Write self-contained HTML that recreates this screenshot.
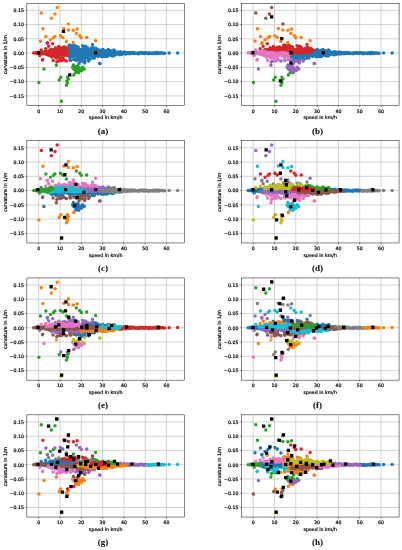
<!DOCTYPE html>
<html lang="en"><head><meta charset="utf-8"><title>Clustering of speed and curvature</title>
<style>html,body{margin:0;padding:0;background:#fff}svg{display:block}text{font-family:"DejaVu Sans","Liberation Sans",sans-serif;fill:#000}.t text{stroke:#000;stroke-width:4px}.cap{font-family:"Liberation Serif","DejaVu Serif",serif;font-weight:bold;font-size:9px}.t{font-size:94px;text-rendering:geometricPrecision}</style></head>
<body>
<svg width="402" height="550" viewBox="0 0 402 550">
<rect width="402" height="550" fill="#fff"/>
<g transform="translate(0,0)">
<path d="M38.7 3.25V105.5M60 3.25V105.5M81.3 3.25V105.5M102.6 3.25V105.5M123.9 3.25V105.5M145.2 3.25V105.5M166.5 3.25V105.5M26.85 10.3H184.5M26.85 24.6H184.5M26.85 38.8H184.5M26.85 53.1H184.5M26.85 67.4H184.5M26.85 81.6H184.5M26.85 95.9H184.5" stroke="#b0b0b0" stroke-width="0.55" fill="none"/>
<g fill="none" stroke-width="3.5" stroke-linecap="round">
<path stroke="#1f77b4" d="M99.6 63.4h0M84.7 63h0M88.7 61h0M100 63.6h0M92.5 44.5h0M169.1 53h0M177.6 52.9h0M79 63.4h0M81.2 55.2h0M75.3 54.2h0M69.8 53.4h0M69.1 54.8h0M94 53.6h0M77 52.9h0M68.9 53.3h0M72.6 55h0M70.7 53h0M84.5 51.4h0M87 54.9h0M83.5 53.8h0M83.4 54.7h0M82.1 50.6h0M76.2 51.7h0M68.3 52.2h0M100.8 53.4h0M83.5 52.8h0M81 53h0M85.5 55.4h0M70.2 52.1h0M77.7 54.3h0M75 53.1h0M99.6 51.8h0M82.9 54.9h0M74.2 52.1h0M84.5 51.6h0M98.1 54.4h0M92.7 52.6h0M85.7 52.7h0M70.5 50.6h0M92.8 54.5h0M86.8 52.8h0M81.6 53h0M97.3 52.2h0M80 52h0M75 50.3h0M85.7 53h0M89.3 51.9h0M100.9 52.7h0M93.4 51.5h0M74.4 51.1h0M71 52.6h0M98.1 53h0M89.5 51.5h0M70.8 51.6h0M69 51.3h0M96 53.7h0M80.4 53.7h0M86 54h0M81 52.9h0M70.4 52.8h0M81.1 52.9h0M99.9 55.3h0M67.7 51.6h0M100.1 55.6h0M74.2 51.8h0M92.6 52.8h0M83.6 53h0M96.1 51.7h0M94.2 51.8h0M86.6 52h0M83.8 52h0M92.8 53.9h0M85.7 52.6h0M85.7 52.4h0M95 52.2h0M95.2 53h0M90.2 50.9h0M100.8 52.1h0M92 52.8h0M100.5 53.5h0M84 50.1h0M70.6 51.5h0M92.3 53.2h0M94.7 53.7h0M92.2 55h0M93.2 53.3h0M67.4 52.6h0M74.2 53.4h0M92.5 51.4h0M73.9 53.1h0M88.7 54.9h0M100.5 50.6h0M87.2 54.1h0M99.4 53.6h0M84.1 52.1h0M92.8 54.2h0M86.7 53.1h0M72.8 53.5h0M101.2 52.9h0M71.9 51.8h0M92 52.9h0M70.4 54.9h0M95.4 54.6h0M68.4 52h0M74.1 53h0M67.8 51.4h0M71.6 54.9h0M76.9 53.8h0M79.2 52.8h0M79 55h0M90.2 53.7h0M70.4 53.7h0M69.3 52.4h0M82.8 52.9h0M89.9 53.7h0M76.5 55.6h0M83.7 53.8h0M68 55.1h0M77.7 53.9h0M91.2 53h0M98.6 51.4h0M84.2 54.3h0M75.9 52h0M78.6 53.8h0M84.4 51.7h0M101.9 54.1h0M100.8 52.9h0M70.6 51.1h0M86.3 53.9h0M79.9 54.1h0M69.6 50.9h0M93.8 52.5h0M92 54.6h0M94.4 52.6h0M82.6 54.3h0M68.4 54h0M82.3 53.4h0M69.3 52h0M89 52.7h0M72.2 55h0M94.7 53.2h0M98.1 53.1h0M96.7 53.4h0M85 53.6h0M86.3 52.7h0M70.3 52.9h0M71.7 53.8h0M96.5 54.9h0M82.1 53.6h0M89.6 53.2h0M96.2 53.6h0M97.6 54.6h0M94.1 54.5h0M72.1 50.5h0M75.9 52h0M87.9 51.6h0M73.8 52.3h0M78.4 52h0M71.2 51.9h0M82.5 55.6h0M89.7 54.3h0M101.5 53.3h0M79.8 53.4h0M76.5 53.9h0M81 52.4h0M74.4 54.6h0M75.3 53.2h0M94.5 51h0M68.8 56h0M73.9 53.4h0M83.5 51.7h0M67.5 51.4h0M72.7 54.1h0M76.1 52.8h0M91.7 52h0M70.9 55.4h0M95.9 52.8h0M86.8 51.2h0M75 54.8h0M79.4 52.7h0M98.7 52.7h0M88.4 53.2h0M74 51.5h0M102.3 55.3h0M86.6 54.2h0M87 53.5h0M76.3 53.7h0M86 53.6h0M74.9 53.5h0M98.9 52.5h0M76.3 54.7h0M75 53.9h0M101.6 51.2h0M99.2 55.7h0M85.7 51.7h0M74.4 55.3h0M73.9 52.4h0M69.5 52.8h0M102.5 54.1h0M91.5 52.1h0M76.2 51.8h0M97.7 52.8h0M79.1 52.5h0M81.6 52.7h0M78.1 51.9h0M79.1 52h0M83.9 56h0M87.5 52.4h0M96.7 53.4h0M95.6 52.9h0M101.3 53.6h0M67.8 52.9h0M85.1 51.5h0M97.3 52.9h0M85.3 50.9h0M70.5 51.2h0M71.1 51.3h0M73.9 52.5h0M71.4 53.7h0M73.4 51.9h0M82.4 53.2h0M86.9 52h0M85.9 51.1h0M69 52.5h0M94.8 52.9h0M86.4 52.7h0M102.2 53.2h0M98 52.6h0M74.8 54.7h0M79.3 52.9h0M83.1 52.1h0M73.4 50.7h0M69 53.2h0M82 55.7h0M100.1 51.4h0M86.6 53.3h0M72.1 54.8h0M83.8 53.8h0M78.2 52.8h0M93.5 53h0M100.3 53.7h0M79.1 53.8h0M68.5 52.7h0M72.1 51.2h0M101.2 52.9h0M79.4 51.2h0M83.9 55.2h0M100.5 54.9h0M96.1 54.6h0M75.3 50.8h0M90.6 53.9h0M98.4 53.1h0M86.2 55.8h0M67.3 53.2h0M86.8 53.3h0M89.3 54h0M71.6 51.5h0M91.7 54.1h0M93.9 55.2h0M89.3 53.5h0M90.5 55.1h0M105.4 53.8h0M116.5 54.1h0M127.7 53.1h0M118.3 53.8h0M130.3 52.8h0M114.7 53.4h0M122.7 53.4h0M109.4 53.5h0M129.5 53.3h0M129.4 53.8h0M120.7 52.4h0M112.9 52.5h0M113.7 52.7h0M121.6 54.5h0M106.7 50.7h0M118.9 54.1h0M112 55.2h0M113.5 54.1h0M112.9 53.3h0M129.3 53.1h0M108.2 52.3h0M110.2 53.6h0M107.9 51.1h0M103.1 53.9h0M116.2 52.5h0M129.6 53.2h0M131.4 53.5h0M118.2 53.5h0M116.1 53.1h0M130.3 52.8h0M119.5 53.7h0M120.1 53h0M123.3 53.4h0M105.1 52.7h0M129.4 53.7h0M106 52.7h0M119.6 54.7h0M132.2 52.8h0M120.1 52.4h0M113.5 52.7h0M125.8 52.6h0M131.4 52.8h0M122.3 52.9h0M104.4 54h0M130.7 53.4h0M103.2 52h0M124.3 52h0M131.4 52.7h0M107.6 53h0M119.5 52.9h0M125.1 53.7h0M108.2 51.6h0M110.4 54.4h0M104.7 53.5h0M107.7 53.2h0M106.4 53.1h0M111.9 51.6h0M126.6 53.7h0M124.8 53.5h0M127 53h0M123.7 52.6h0M128 53.2h0M107.4 54h0M120.3 52.5h0M103.3 53.2h0M118.3 51.9h0M129.5 53.4h0M117.7 52.4h0M112 54.4h0M111.4 53.2h0M115.2 54.8h0M131.8 52.4h0M133.7 53.4h0M126.5 53.5h0M134.2 53.3h0M127 52.5h0M111.7 52.7h0M116.5 52.7h0M125.7 53.2h0M125.3 54.1h0M124.3 53.6h0M118.2 52.8h0M107.2 53.2h0M133.3 52.8h0M109.6 54.6h0M133.9 53h0M106.7 53.1h0M133.9 52.7h0M114.6 53.6h0M128.5 52.9h0M102.8 54.1h0M116.8 54h0M110.6 53.7h0M124.8 53.3h0M123.8 53.3h0M117.4 53.2h0M125.2 52.7h0M133.9 52.8h0M105.6 53.7h0M120.6 51.7h0M124.2 52.9h0M122.8 53.6h0M111 53.7h0M130.6 53.2h0M110.4 54h0M129.6 52.5h0M117.6 54h0M107.2 54.7h0M128.9 53.6h0M105.1 53.6h0M159.1 53.5h0M153.1 53.4h0M161.6 53.1h0M159.4 53h0M147 53.1h0M138.7 53.7h0M142.8 52.9h0M134.6 52.9h0M154.7 53.3h0M137.2 53.3h0M140.1 52.7h0M142.1 53h0M147.1 53.3h0M155.8 52.8h0M148.3 53.2h0M150.1 53.1h0M137.4 53.3h0M145 53.1h0M140.9 53h0M157.4 52.9h0M135.1 53h0M153.6 52.8h0M156.1 53.3h0M150.1 53.3h0M135.9 53.6h0M142.3 53.1h0M141.9 53h0M142.8 53.6h0M142.7 53h0M164.6 53.2h0M159 53h0M162.1 52.9h0M156.6 53.2h0M145.3 53.2h0M163.6 53.3h0M149.5 53.1h0M140.3 52.8h0M157.1 53.6h0M142.6 53.3h0M160 53.3h0M157.4 53.3h0M143.5 53.1h0M148.7 53.8h0M156.6 53h0M155.2 53.2h0M150.8 53.2h0M141.2 52.8h0M144.6 53.2h0M156 53.4h0M148.7 53.2h0M156.7 52.6h0M155.7 53h0M145.5 53.2h0M137.6 53.3h0M155.6 53.1h0M145.5 52.6h0M152 53.6h0M138.4 53.7h0M139.1 53.3h0M147.6 53.5h0M155.2 53.4h0M138.2 53.1h0M158.5 53.1h0M160.8 53.1h0M155.3 52.9h0M157.7 52.8h0M141.9 52.9h0M137.6 53h0M144.7 53.6h0M138.4 53.4h0M113.4 51.2h0M71.1 50.1h0M85 50.8h0M81.6 50.8h0M76.2 46.6h0M106.8 51h0M107.1 51.3h0M104.4 50.8h0M98.8 50.1h0M87.5 48.1h0M70.3 50.3h0M77 48.2h0M92.2 50h0M71.5 50.6h0M94.7 50.6h0M95 48.4h0M108.3 51.3h0M69.7 45.1h0M106 51.2h0M72.7 46.1h0M84.8 50.2h0M78.3 50.7h0M80.5 50.8h0M108.4 49.6h0M109.3 51.2h0M75.3 50h0M98.2 50.1h0M103.1 51h0M88.5 50.7h0M102.8 49.6h0M110.7 51.4h0M82.7 45.7h0M81.5 50.5h0M115 51.6h0M110.5 50.7h0M84.5 48h0M70.4 46.6h0M99.7 50.9h0M114.6 50.4h0M91.6 48.8h0M113.9 50.1h0M112.8 51.3h0M105.7 51.1h0M96.4 49.8h0M85.8 46.6h0M110.7 51h0M85.1 47.5h0M78.1 48.8h0M69.3 46.6h0M112.8 51.5h0M90 50.1h0M94.4 48.2h0M71.9 49h0M97 48.9h0M82.8 50.4h0M106.9 50.8h0M79.1 49.4h0M110.7 50.7h0M70.9 45.6h0M85.5 48.9h0M93.4 50.8h0M75.7 49.8h0M81.8 50.3h0M101.3 50.6h0M73.9 50.1h0M93.5 48.3h0M72.5 46.1h0M111.3 51.3h0M109.4 51.3h0M102.1 51h0M71.6 50.5h0M94.4 48.6h0M90.4 49.2h0M82.2 50.8h0M69 50.8h0M95.9 50.5h0M69.9 50.8h0M77.2 49.3h0M84 47h0M78.1 47.1h0M84.6 46.8h0M75.6 47.1h0M72.5 47.6h0M70.6 50.8h0M91 48.2h0M95.5 48.3h0M67.3 49.3h0M92.8 47.4h0M83 48.8h0M77.2 49.7h0M71.1 49.5h0M70 48.7h0M70 48.7h0M72.9 48.1h0M79.8 49.6h0M85.4 46.6h0M70 48.8h0M71.1 49.7h0M69.6 45.9h0M71.4 47.8h0M74.6 48.5h0M83.7 50.7h0M74 49.5h0M69.8 49.2h0M74.8 45.6h0M69.1 45.3h0M67.8 50.7h0M92.1 47.7h0M80.7 50.8h0M92.8 50.7h0M80.8 50.3h0M94.3 58.1h0M105.6 56.6h0M82.5 58.2h0M114.1 54.7h0M79.6 55.8h0M84.8 58.7h0M88.6 56.3h0M77.6 59.4h0M88.4 59h0M102 56.8h0M80 58.4h0M77.2 57.3h0M85.1 56.7h0M104.6 55.9h0M93 55.8h0M99.4 55.3h0M98.1 56.5h0M86.5 55.7h0M81.4 57.4h0M80 61.3h0M101.6 56.6h0M74.1 58.7h0M85.1 61.3h0M90 55.8h0M107 55.8h0M92.4 56.5h0M76.7 56.6h0M82.1 61.2h0M106.1 55.2h0M87.7 57.8h0M97.9 56.2h0M114.9 54.9h0M110.2 54.8h0M92.5 58.1h0M89.5 59.2h0M114.8 54.9h0M101.2 55.2h0M70.3 55.4h0M106.1 56.1h0M111.2 55.7h0M76.2 60.4h0M71.4 56.6h0M82.8 58.1h0M103.2 56.3h0M97.3 55.8h0M70.1 58.1h0M103.9 56.6h0M113.9 54.7h0M69.5 56h0M110.3 55.1h0M73.3 56h0M70.4 60.5h0M88.4 58.2h0M70 59.4h0M90.6 55.4h0M78 57h0M94.2 55.7h0M83.4 56.2h0M73.7 59.5h0M80.4 57h0M103.2 56h0M96.1 55.6h0M68.7 55.4h0M79.1 56h0M107.2 56.6h0M113.2 56h0M97.9 56h0M107.4 56.3h0M70 59.9h0M71.8 56.4h0M83.1 56.2h0"/>
<path stroke="#ff7f0e" d="M57.2 7.6h0M41.3 13.1h0M55 14.1h0M51.3 18.3h0M68.4 24.1h0M42.9 28.7h0M63.8 28.5h0M68.4 29.9h0M73.4 30.2h0M77.1 29.1h0M76.3 33.4h0M79.7 35.8h0M81.3 37.8h0M86.7 37.4h0M95.6 40.8h0M45.9 36.4h0M54.9 36.4h0M60.4 35.8h0M62.8 37.4h0M50.5 39.8h0M40.5 41.2h0M66.4 41.4h0M53.5 37.8h0M73.3 42.5h0"/>
<path stroke="#2ca02c" d="M43.9 68.9h0M56.4 65.3h0M38.9 82.5h0M61.4 101.2h0M60.8 77.3h0M59.2 79.9h0M67.4 77.3h0M68.4 78.9h0M66.8 80.9h0M67.4 82.9h0M66.4 85.2h0M73.8 74.9h0M73.4 65h0M76.3 67.9h0M78.3 69.3h0M77.1 71.3h0M75.7 72.5h0M79.7 70.9h0M84.3 68.9h0M81.7 70.5h0M74.5 66.5h0M77.5 66h0M79 67.5h0M76 70h0M80.5 69h0M74 69.3h0M78.6 72.8h0M72.6 67.6h0M82.8 67.2h0"/>
<path stroke="#d62728" d="M47.5 42.8h0M41.2 49.9h0M45.7 48.7h0M47.2 43.2h0M52.7 43.7h0M39.7 55.6h0M42.7 59.6h0M53.1 60.4h0M57.3 61.6h0M48.7 46.2h0M62.1 47.7h0M42.5 60h0M56.8 62h0M66.4 61h0M33.7 53.1h0M35.5 53h0M40.8 52.7h0M42.3 53.3h0M38.3 52.9h0M40.4 53.2h0M44.1 53.7h0M44.1 53.2h0M36.7 53.3h0M37.5 52.6h0M36 53h0M39.7 53.7h0M35.8 53h0M39.9 53.2h0M41.7 53.2h0M38.2 53.4h0M42 53.5h0M41.2 53.1h0M35.7 52.8h0M40.9 53h0M38 53.1h0M39.5 53.1h0M38.2 53.3h0M42.1 52.7h0M39.7 53h0M37 52.8h0M40.7 53.1h0M43 53.2h0M38.4 53.5h0M37.6 52.5h0M39.2 53.3h0M44.5 52h0M44.9 53.7h0M41.9 53.4h0M44.2 53.1h0M43.6 52.7h0M39.1 53.3h0M46.5 52.4h0M63.2 52.4h0M54.7 55.2h0M65.9 53.8h0M57.5 54.6h0M58.9 51.6h0M58.3 53.7h0M58 52.1h0M53.5 53.1h0M53.3 53.5h0M46.2 53.8h0M63.2 52.6h0M63.9 52.2h0M61.8 52.1h0M61 54.7h0M44.6 52.9h0M55.8 51.4h0M55.1 53.4h0M45 52.7h0M45.3 53.7h0M53.1 51.2h0M50.2 53.1h0M47 53.5h0M48.8 52.4h0M52.4 54.1h0M57.1 50.9h0M63.4 55.1h0M53 52.1h0M52.7 51.3h0M46.4 53.8h0M54.3 53h0M51.8 53.3h0M45.4 52.5h0M49.7 53.9h0M66.4 51.5h0M43.9 53.6h0M53.8 55h0M57.8 53h0M45.2 53.3h0M44.4 53.2h0M45.9 53.1h0M51.3 54.8h0M56.9 51.8h0M61.9 51.2h0M44.8 52.7h0M58.8 54.7h0M50.6 54.3h0M63 53.3h0M49.4 53.8h0M60.2 50.1h0M66.7 51.6h0M50.3 53.5h0M63.5 53.1h0M53.5 54.1h0M55.7 52.9h0M58.6 53.6h0M46.5 52.3h0M54.2 55.6h0M60.3 53.9h0M58.1 53.1h0M46.7 52.7h0M55.1 51.8h0M62 54.9h0M43.6 53.4h0M44.3 53.4h0M59.7 52.7h0M50.5 54.4h0M45.4 53h0M44.7 53.1h0M45.1 53h0M45.6 52.8h0M45.5 53.1h0M52.2 51.3h0M63.9 51.9h0M50.5 54.1h0M57.8 53.7h0M50.3 54.2h0M54.6 52h0M55.8 52h0M40.9 52.8h0M42.7 53.2h0M50.9 52.2h0M65 50.2h0M43.7 53h0M63.8 55.5h0M49.1 53.5h0M54.9 52.8h0M57.2 52.7h0M66.2 54.1h0M57.9 52.3h0M49.8 54.1h0M43.4 52.9h0M66.6 52.6h0M41.1 53.3h0M56.1 54.9h0M44.6 53.7h0M59 52h0M51.5 52.5h0M43.4 53h0M47.8 53.7h0M54.4 52.1h0M56.4 52.5h0M62.2 50.4h0M44.3 53.2h0M66.4 53.9h0M66.6 53.6h0M58.8 52.5h0M56.3 53.9h0M47.9 53.4h0M51.5 53.3h0M48.6 54.5h0M45.3 54h0M46 53.3h0M46.4 52.8h0M47.1 54.4h0M49.3 52.7h0M41 53.1h0M53.8 52.1h0M54.2 52.8h0M65.2 52.2h0M57.5 53h0M49.8 52h0M43.9 53.7h0M59.5 51.7h0M43.3 53.5h0M62.2 52.2h0M44 52.6h0M66.7 52h0M49.4 53.5h0M43.4 52.3h0M48.3 53.5h0M52.7 52h0M41.2 53.6h0M65.1 51.9h0M53 52.2h0M67 55.5h0M53.4 53.5h0M61.1 53.4h0M62.1 51.3h0M65.2 52.3h0M42.2 53.5h0M51.3 52.1h0M58.9 52.9h0M58.9 54.1h0M64.8 51.5h0M50.2 52.4h0M41.6 52.9h0M58.9 50.1h0M64.4 53.3h0M66.3 51.8h0M46 53.5h0M63.3 52.5h0M58.4 51.9h0M53.8 51.9h0M67 53.1h0M63.2 55.1h0M59.7 54.5h0M61.9 52.3h0M45.9 52.9h0M58.8 54.2h0M49.8 53.1h0M50.5 54h0M42.6 52.4h0M62.7 54.4h0M44.6 52.2h0M51.8 52.4h0M63 53.4h0M65 52h0M49.6 52.2h0M41.7 53.5h0M64.4 55h0M47.5 52.7h0M45.2 53.3h0M65 53.3h0M47.4 52h0M51.6 52.8h0M51.5 54.4h0M46.7 51.6h0M49.8 50.4h0M58.6 50.8h0M49.6 51.6h0M65.1 50.3h0M60.3 48.9h0M50.2 50.1h0M61.7 50.5h0M60.5 48.6h0M61.8 50.7h0M54.2 49.4h0M63.6 50.6h0M55.6 47.7h0M57.9 48.4h0M58.8 46.5h0M51.5 50.9h0M61.2 49.4h0M57.8 49.3h0M62.8 49h0M50.5 51h0M62.4 48.5h0M55.7 50.8h0M49.4 51.5h0M46.2 52.2h0M46.5 51.7h0M57.3 50.6h0M59.7 48.5h0M64.9 47.1h0M57.2 49.5h0M62.5 50.2h0M63.2 50.2h0M62.8 49.6h0M49.8 50h0M48.8 51.3h0M61.3 49h0M57.6 50h0M51.4 51.1h0M45.6 51.8h0M66.9 48.2h0M51.3 51.1h0M62.6 50h0M50.4 50.7h0M51.6 49.4h0M59 50.3h0M62.8 47.3h0M60.4 50.8h0M64.2 49.8h0M51.3 50h0M50.4 49.8h0M63.5 49.3h0M55.5 50.6h0M55.2 50.7h0M50.9 51.2h0M60.9 50.8h0M54.5 49.6h0M66.1 47.7h0M57.6 50.2h0M63.8 50.8h0M57.4 50.7h0M46.9 54.5h0M59.7 60h0M50.3 55h0M49.7 55.6h0M61.4 60.8h0M51.9 56h0M57.1 57.7h0M62.9 56.7h0M56.4 57.9h0M59.7 58.1h0M53.8 56h0M51.9 57h0M48.2 54.9h0M61.6 59.6h0M49.7 55.5h0M55.9 57.7h0M59.8 60.7h0M64.2 60h0M58.4 56.1h0M62.8 57.6h0M47.3 54h0M57 56.1h0M54.9 55.8h0M48.8 54.9h0"/>
</g>
<path d="M36.9 51.2h3.3v3.3h-3.3zM93.9 51.2h3.3v3.3h-3.3zM61.8 29.8h3.3v3.3h-3.3zM68.1 73.2h3.3v3.3h-3.3z" fill="#000"/>
<rect x="26.85" y="3.25" width="157.7" height="102.2" fill="none" stroke="#000" stroke-width="0.48"/>
<path d="M38.7 105.5v1.6M60 105.5v1.6M81.3 105.5v1.6M102.6 105.5v1.6M123.9 105.5v1.6M145.2 105.5v1.6M166.5 105.5v1.6M26.85 10.3h-1.6M26.85 24.6h-1.6M26.85 38.8h-1.6M26.85 53.1h-1.6M26.85 67.4h-1.6M26.85 81.6h-1.6M26.85 95.9h-1.6" stroke="#000" stroke-width="0.45" fill="none"/>
<g class="t">
<text transform="translate(38.7,112.7) scale(.05)" text-anchor="middle">0</text><text transform="translate(60,112.7) scale(.05)" text-anchor="middle">10</text><text transform="translate(81.3,112.7) scale(.05)" text-anchor="middle">20</text><text transform="translate(102.6,112.7) scale(.05)" text-anchor="middle">30</text><text transform="translate(123.9,112.7) scale(.05)" text-anchor="middle">40</text><text transform="translate(145.2,112.7) scale(.05)" text-anchor="middle">50</text><text transform="translate(166.5,112.7) scale(.05)" text-anchor="middle">60</text>
<text transform="translate(23.9,12) scale(.05)" text-anchor="end">0.15</text><text transform="translate(23.9,26.3) scale(.05)" text-anchor="end">0.10</text><text transform="translate(23.9,40.6) scale(.05)" text-anchor="end">0.05</text><text transform="translate(23.9,54.9) scale(.05)" text-anchor="end">0.00</text><text transform="translate(23.9,69.1) scale(.05)" text-anchor="end">−0.05</text><text transform="translate(23.9,83.4) scale(.05)" text-anchor="end">−0.10</text><text transform="translate(23.9,97.7) scale(.05)" text-anchor="end">−0.15</text>
<text transform="translate(105.7,119) scale(.05)" text-anchor="middle">speed in km/h</text>
<text transform="translate(6.6,54.8) rotate(-90) scale(.05)" text-anchor="middle">curvature in 1/m</text>
</g>
<text class="cap" x="103" y="133.6" text-anchor="middle">(a)</text>
</g>
<g transform="translate(214.5,0)">
<path d="M38.7 3.25V105.5M60 3.25V105.5M81.3 3.25V105.5M102.6 3.25V105.5M123.9 3.25V105.5M145.2 3.25V105.5M166.5 3.25V105.5M26.85 10.3H184.5M26.85 24.6H184.5M26.85 38.8H184.5M26.85 53.1H184.5M26.85 67.4H184.5M26.85 81.6H184.5M26.85 95.9H184.5" stroke="#b0b0b0" stroke-width="0.55" fill="none"/>
<g fill="none" stroke-width="3.5" stroke-linecap="round">
<path stroke="#1f77b4" d="M169.1 53h0M177.6 52.9h0M100.8 53.4h0M99.6 51.8h0M97.3 52.2h0M100.9 52.7h0M98.1 53h0M100.8 52.1h0M100.5 53.5h0M100.5 50.6h0M101.2 52.9h0M98.6 51.4h0M100.8 52.9h0M101.5 53.3h0M98.7 52.7h0M98.9 52.5h0M101.6 51.2h0M102.5 54.1h0M97.7 52.8h0M101.3 53.6h0M97.3 52.9h0M102.2 53.2h0M98 52.6h0M100.1 51.4h0M101.2 52.9h0M98.4 53.1h0M105.4 53.8h0M116.5 54.1h0M127.7 53.1h0M118.3 53.8h0M130.3 52.8h0M114.7 53.4h0M122.7 53.4h0M109.4 53.5h0M129.5 53.3h0M129.4 53.8h0M120.7 52.4h0M112.9 52.5h0M113.7 52.7h0M121.6 54.5h0M106.7 50.7h0M118.9 54.1h0M112 55.2h0M113.5 54.1h0M112.9 53.3h0M129.3 53.1h0M108.2 52.3h0M110.2 53.6h0M107.9 51.1h0M103.1 53.9h0M116.2 52.5h0M129.6 53.2h0M131.4 53.5h0M118.2 53.5h0M116.1 53.1h0M130.3 52.8h0M119.5 53.7h0M120.1 53h0M123.3 53.4h0M105.1 52.7h0M129.4 53.7h0M106 52.7h0M119.6 54.7h0M132.2 52.8h0M120.1 52.4h0M113.5 52.7h0M125.8 52.6h0M131.4 52.8h0M122.3 52.9h0M104.4 54h0M130.7 53.4h0M103.2 52h0M124.3 52h0M131.4 52.7h0M107.6 53h0M119.5 52.9h0M125.1 53.7h0M108.2 51.6h0M110.4 54.4h0M104.7 53.5h0M107.7 53.2h0M106.4 53.1h0M111.9 51.6h0M126.6 53.7h0M124.8 53.5h0M127 53h0M123.7 52.6h0M128 53.2h0M107.4 54h0M120.3 52.5h0M103.3 53.2h0M118.3 51.9h0M129.5 53.4h0M117.7 52.4h0M112 54.4h0M111.4 53.2h0M115.2 54.8h0M131.8 52.4h0M133.7 53.4h0M126.5 53.5h0M134.2 53.3h0M127 52.5h0M111.7 52.7h0M116.5 52.7h0M125.7 53.2h0M125.3 54.1h0M124.3 53.6h0M118.2 52.8h0M107.2 53.2h0M133.3 52.8h0M109.6 54.6h0M133.9 53h0M106.7 53.1h0M133.9 52.7h0M114.6 53.6h0M128.5 52.9h0M102.8 54.1h0M116.8 54h0M110.6 53.7h0M124.8 53.3h0M123.8 53.3h0M117.4 53.2h0M125.2 52.7h0M133.9 52.8h0M105.6 53.7h0M120.6 51.7h0M124.2 52.9h0M122.8 53.6h0M111 53.7h0M130.6 53.2h0M110.4 54h0M129.6 52.5h0M117.6 54h0M107.2 54.7h0M128.9 53.6h0M105.1 53.6h0M159.1 53.5h0M153.1 53.4h0M161.6 53.1h0M159.4 53h0M147 53.1h0M138.7 53.7h0M142.8 52.9h0M134.6 52.9h0M154.7 53.3h0M137.2 53.3h0M140.1 52.7h0M142.1 53h0M147.1 53.3h0M155.8 52.8h0M148.3 53.2h0M150.1 53.1h0M137.4 53.3h0M145 53.1h0M140.9 53h0M157.4 52.9h0M135.1 53h0M153.6 52.8h0M156.1 53.3h0M150.1 53.3h0M135.9 53.6h0M142.3 53.1h0M141.9 53h0M142.8 53.6h0M142.7 53h0M164.6 53.2h0M159 53h0M162.1 52.9h0M156.6 53.2h0M145.3 53.2h0M163.6 53.3h0M149.5 53.1h0M140.3 52.8h0M157.1 53.6h0M142.6 53.3h0M160 53.3h0M157.4 53.3h0M143.5 53.1h0M148.7 53.8h0M156.6 53h0M155.2 53.2h0M150.8 53.2h0M141.2 52.8h0M144.6 53.2h0M156 53.4h0M148.7 53.2h0M156.7 52.6h0M155.7 53h0M145.5 53.2h0M137.6 53.3h0M155.6 53.1h0M145.5 52.6h0M152 53.6h0M138.4 53.7h0M139.1 53.3h0M147.6 53.5h0M155.2 53.4h0M138.2 53.1h0M158.5 53.1h0M160.8 53.1h0M155.3 52.9h0M157.7 52.8h0M141.9 52.9h0M137.6 53h0M144.7 53.6h0M138.4 53.4h0M113.4 51.2h0M106.8 51h0M107.1 51.3h0M104.4 50.8h0M108.3 51.3h0M106 51.2h0M108.4 49.6h0M109.3 51.2h0M103.1 51h0M102.8 49.6h0M110.7 51.4h0M115 51.6h0M110.5 50.7h0M99.7 50.9h0M114.6 50.4h0M113.9 50.1h0M112.8 51.3h0M105.7 51.1h0M110.7 51h0M112.8 51.5h0M106.9 50.8h0M110.7 50.7h0M101.3 50.6h0M111.3 51.3h0M109.4 51.3h0M102.1 51h0M114.1 54.7h0M114.9 54.9h0M110.2 54.8h0M114.8 54.9h0M111.2 55.7h0M113.9 54.7h0M110.3 55.1h0M113.2 56h0M81.2 55.2h0M75.3 54.2h0M87 54.9h0M83.5 53.8h0M83.4 54.7h0M81 53h0M85.5 55.4h0M77.7 54.3h0M82.9 54.9h0M81.6 53h0M85.7 53h0M80.4 53.7h0M86 54h0M81 52.9h0M81.1 52.9h0M83.6 53h0M88.7 54.9h0M87.2 54.1h0M86.7 53.1h0M76.9 53.8h0M79 55h0M82.8 52.9h0M76.5 55.6h0M83.7 53.8h0M77.7 53.9h0M84.2 54.3h0M78.6 53.8h0M86.3 53.9h0M79.9 54.1h0M82.6 54.3h0M82.3 53.4h0M85 53.6h0M82.1 53.6h0M82.5 55.6h0M79.8 53.4h0M76.5 53.9h0M75.3 53.2h0M75 54.8h0M88.4 53.2h0M86.6 54.2h0M87 53.5h0M76.3 53.7h0M86 53.6h0M74.9 53.5h0M76.3 54.7h0M75 53.9h0M83.9 56h0M82.4 53.2h0M74.8 54.7h0M82 55.7h0M86.6 53.3h0M83.8 53.8h0M79.1 53.8h0M83.9 55.2h0M86.2 55.8h0M86.8 53.3h0M82.5 58.2h0M79.6 55.8h0M84.8 58.7h0M88.6 56.3h0M88.4 59h0M80 58.4h0M77.2 57.3h0M85.1 56.7h0M86.5 55.7h0M81.4 57.4h0M90 55.8h0M76.7 56.6h0M87.7 57.8h0M89.5 59.2h0M82.8 58.1h0M88.4 58.2h0M78 57h0M83.4 56.2h0M80.4 57h0M79.1 56h0M83.1 56.2h0M94 53.6h0M98.1 54.4h0M92.8 54.5h0M96 53.7h0M99.9 55.3h0M100.1 55.6h0M92.6 52.8h0M92.8 53.9h0M95.2 53h0M92 52.8h0M92.3 53.2h0M94.7 53.7h0M92.2 55h0M93.2 53.3h0M99.4 53.6h0M92.8 54.2h0M92 52.9h0M95.4 54.6h0M90.2 53.7h0M89.9 53.7h0M91.2 53h0M101.9 54.1h0M92 54.6h0M94.4 52.6h0M94.7 53.2h0M98.1 53.1h0M96.7 53.4h0M96.5 54.9h0M89.6 53.2h0M96.2 53.6h0M97.6 54.6h0M94.1 54.5h0M89.7 54.3h0M95.9 52.8h0M102.3 55.3h0M99.2 55.7h0M96.7 53.4h0M95.6 52.9h0M94.8 52.9h0M93.5 53h0M100.3 53.7h0M100.5 54.9h0M96.1 54.6h0M90.6 53.9h0M89.3 54h0M91.7 54.1h0M93.9 55.2h0M89.3 53.5h0M90.5 55.1h0M94.3 58.1h0M105.6 56.6h0M102 56.8h0M104.6 55.9h0M93 55.8h0M99.4 55.3h0M98.1 56.5h0M101.6 56.6h0M107 55.8h0M92.4 56.5h0M106.1 55.2h0M97.9 56.2h0M92.5 58.1h0M101.2 55.2h0M106.1 56.1h0M103.2 56.3h0M97.3 55.8h0M103.9 56.6h0M90.6 55.4h0M94.2 55.7h0M103.2 56h0M96.1 55.6h0M107.2 56.6h0M97.9 56h0M107.4 56.3h0"/>
<path stroke="#ff7f0e" d="M42.9 28.7h0M63.8 28.5h0M68.4 29.9h0M73.4 30.2h0M77.1 29.1h0M76.3 33.4h0M79.7 35.8h0M81.3 37.8h0M86.7 37.4h0M95.6 40.8h0M45.9 36.4h0M54.9 36.4h0M60.4 35.8h0M62.8 37.4h0M50.5 39.8h0M40.5 41.2h0M66.4 41.4h0M47.5 42.8h0M53.5 37.8h0M47.2 43.2h0M73.3 42.5h0"/>
<path stroke="#2ca02c" d="M38.9 82.5h0M61.4 101.2h0M60.8 77.3h0M59.2 79.9h0M67.4 77.3h0M68.4 78.9h0M66.8 80.9h0M67.4 82.9h0M66.4 85.2h0M73.8 74.9h0M75.7 72.5h0M78.6 72.8h0"/>
<path stroke="#d62728" d="M45.7 48.7h0M52.7 43.7h0M48.7 46.2h0M62.1 47.7h0M63.2 52.4h0M58.9 51.6h0M58 52.1h0M63.2 52.6h0M63.9 52.2h0M61.8 52.1h0M55.8 51.4h0M53.1 51.2h0M57.1 50.9h0M53 52.1h0M52.7 51.3h0M66.4 51.5h0M67.7 51.6h0M56.9 51.8h0M61.9 51.2h0M60.2 50.1h0M66.7 51.6h0M55.1 51.8h0M52.2 51.3h0M67.8 51.4h0M63.9 51.9h0M54.6 52h0M55.8 52h0M65 50.2h0M57.9 52.3h0M66.6 52.6h0M59 52h0M54.4 52.1h0M62.2 50.4h0M58.8 52.5h0M67.5 51.4h0M53.8 52.1h0M65.2 52.2h0M59.5 51.7h0M62.2 52.2h0M66.7 52h0M52.7 52h0M65.1 51.9h0M53 52.2h0M62.1 51.3h0M65.2 52.3h0M64.8 51.5h0M58.9 50.1h0M66.3 51.8h0M63.3 52.5h0M58.4 51.9h0M53.8 51.9h0M61.9 52.3h0M65 52h0M49.8 50.4h0M58.6 50.8h0M65.1 50.3h0M60.3 48.9h0M69.7 45.1h0M50.2 50.1h0M61.7 50.5h0M60.5 48.6h0M61.8 50.7h0M54.2 49.4h0M63.6 50.6h0M55.6 47.7h0M57.9 48.4h0M58.8 46.5h0M51.5 50.9h0M61.2 49.4h0M57.8 49.3h0M62.8 49h0M50.5 51h0M70.4 46.6h0M62.4 48.5h0M55.7 50.8h0M57.3 50.6h0M69.3 46.6h0M59.7 48.5h0M64.9 47.1h0M57.2 49.5h0M62.5 50.2h0M70.9 45.6h0M63.2 50.2h0M62.8 49.6h0M49.8 50h0M61.3 49h0M57.6 50h0M51.4 51.1h0M66.9 48.2h0M51.3 51.1h0M62.6 50h0M50.4 50.7h0M51.6 49.4h0M67.3 49.3h0M59 50.3h0M62.8 47.3h0M60.4 50.8h0M64.2 49.8h0M51.3 50h0M50.4 49.8h0M63.5 49.3h0M55.5 50.6h0M55.2 50.7h0M50.9 51.2h0M60.9 50.8h0M69.6 45.9h0M54.5 49.6h0M66.1 47.7h0M57.6 50.2h0M63.8 50.8h0M69.1 45.3h0M67.8 50.7h0M57.4 50.7h0M77 52.9h0M82.1 50.6h0M76.2 51.7h0M68.3 52.2h0M70.2 52.1h0M75 53.1h0M74.2 52.1h0M70.5 50.6h0M80 52h0M75 50.3h0M74.4 51.1h0M71 52.6h0M70.8 51.6h0M69 51.3h0M70.4 52.8h0M74.2 51.8h0M70.6 51.5h0M73.9 53.1h0M71.9 51.8h0M68.4 52h0M74.1 53h0M79.2 52.8h0M69.3 52.4h0M75.9 52h0M70.6 51.1h0M69.6 50.9h0M69.3 52h0M72.1 50.5h0M75.9 52h0M73.8 52.3h0M78.4 52h0M71.2 51.9h0M81 52.4h0M76.1 52.8h0M79.4 52.7h0M74 51.5h0M73.9 52.4h0M76.2 51.8h0M79.1 52.5h0M81.6 52.7h0M78.1 51.9h0M79.1 52h0M70.5 51.2h0M71.1 51.3h0M73.9 52.5h0M73.4 51.9h0M69 52.5h0M79.3 52.9h0M73.4 50.7h0M78.2 52.8h0M72.1 51.2h0M79.4 51.2h0M75.3 50.8h0M71.6 51.5h0M71.1 50.1h0M81.6 50.8h0M76.2 46.6h0M70.3 50.3h0M77 48.2h0M71.5 50.6h0M72.7 46.1h0M78.3 50.7h0M80.5 50.8h0M75.3 50h0M81.5 50.5h0M78.1 48.8h0M71.9 49h0M79.1 49.4h0M75.7 49.8h0M81.8 50.3h0M73.9 50.1h0M72.5 46.1h0M71.6 50.5h0M82.2 50.8h0M69 50.8h0M69.9 50.8h0M77.2 49.3h0M78.1 47.1h0M75.6 47.1h0M72.5 47.6h0M70.6 50.8h0M77.2 49.7h0M71.1 49.5h0M70 48.7h0M70 48.7h0M72.9 48.1h0M79.8 49.6h0M70 48.8h0M71.1 49.7h0M71.4 47.8h0M74.6 48.5h0M74 49.5h0M69.8 49.2h0M74.8 45.6h0M80.7 50.8h0M80.8 50.3h0M92.5 44.5h0M84.5 51.4h0M83.5 52.8h0M84.5 51.6h0M92.7 52.6h0M85.7 52.7h0M86.8 52.8h0M89.3 51.9h0M93.4 51.5h0M89.5 51.5h0M96.1 51.7h0M94.2 51.8h0M86.6 52h0M83.8 52h0M85.7 52.6h0M85.7 52.4h0M95 52.2h0M90.2 50.9h0M84 50.1h0M92.5 51.4h0M84.1 52.1h0M84.4 51.7h0M93.8 52.5h0M89 52.7h0M86.3 52.7h0M87.9 51.6h0M94.5 51h0M83.5 51.7h0M91.7 52h0M86.8 51.2h0M85.7 51.7h0M91.5 52.1h0M87.5 52.4h0M85.1 51.5h0M85.3 50.9h0M86.9 52h0M85.9 51.1h0M86.4 52.7h0M83.1 52.1h0M85 50.8h0M98.8 50.1h0M87.5 48.1h0M92.2 50h0M94.7 50.6h0M95 48.4h0M84.8 50.2h0M98.2 50.1h0M88.5 50.7h0M82.7 45.7h0M84.5 48h0M91.6 48.8h0M96.4 49.8h0M85.8 46.6h0M85.1 47.5h0M90 50.1h0M94.4 48.2h0M97 48.9h0M82.8 50.4h0M85.5 48.9h0M93.4 50.8h0M93.5 48.3h0M94.4 48.6h0M90.4 49.2h0M95.9 50.5h0M84 47h0M84.6 46.8h0M91 48.2h0M95.5 48.3h0M92.8 47.4h0M83 48.8h0M85.4 46.6h0M83.7 50.7h0M92.1 47.7h0M92.8 50.7h0"/>
<path stroke="#9467bd" d="M43.9 68.9h0M56.4 65.3h0M73.4 65h0M76.3 67.9h0M78.3 69.3h0M77.1 71.3h0M79.7 70.9h0M84.3 68.9h0M81.7 70.5h0M74.5 66.5h0M77.5 66h0M79 67.5h0M76 70h0M80.5 69h0M74 69.3h0M72.6 67.6h0M82.8 67.2h0M57.3 61.6h0M56.8 62h0M66.4 61h0M99.6 63.4h0M84.7 63h0M88.7 61h0M100 63.6h0M79 63.4h0M61.4 60.8h0M77.6 59.4h0M80 61.3h0M85.1 61.3h0M82.1 61.2h0M76.2 60.4h0M59.8 60.7h0M70.4 60.5h0M73.7 59.5h0M70 59.9h0"/>
<path stroke="#8c564b" d="M57.2 7.6h0M41.3 13.1h0M55 14.1h0M51.3 18.3h0M68.4 24.1h0"/>
<path stroke="#e377c2" d="M41.2 49.9h0M39.7 55.6h0M33.7 53.1h0M35.5 53h0M40.8 52.7h0M42.3 53.3h0M38.3 52.9h0M40.4 53.2h0M44.1 53.7h0M44.1 53.2h0M36.7 53.3h0M37.5 52.6h0M36 53h0M39.7 53.7h0M35.8 53h0M39.9 53.2h0M41.7 53.2h0M38.2 53.4h0M42 53.5h0M41.2 53.1h0M35.7 52.8h0M40.9 53h0M38 53.1h0M39.5 53.1h0M38.2 53.3h0M42.1 52.7h0M39.7 53h0M37 52.8h0M40.7 53.1h0M43 53.2h0M38.4 53.5h0M37.6 52.5h0M39.2 53.3h0M44.5 52h0M44.9 53.7h0M41.9 53.4h0M44.2 53.1h0M43.6 52.7h0M39.1 53.3h0M46.5 52.4h0M46.2 53.8h0M44.6 52.9h0M45 52.7h0M45.3 53.7h0M50.2 53.1h0M47 53.5h0M48.8 52.4h0M46.4 53.8h0M45.4 52.5h0M43.9 53.6h0M45.2 53.3h0M44.4 53.2h0M45.9 53.1h0M44.8 52.7h0M46.5 52.3h0M46.7 52.7h0M43.6 53.4h0M44.3 53.4h0M45.4 53h0M44.7 53.1h0M45.1 53h0M45.6 52.8h0M45.5 53.1h0M40.9 52.8h0M42.7 53.2h0M50.9 52.2h0M43.7 53h0M49.1 53.5h0M43.4 52.9h0M41.1 53.3h0M44.6 53.7h0M51.5 52.5h0M43.4 53h0M47.8 53.7h0M44.3 53.2h0M47.9 53.4h0M45.3 54h0M46 53.3h0M46.4 52.8h0M49.3 52.7h0M41 53.1h0M49.8 52h0M43.9 53.7h0M43.3 53.5h0M44 52.6h0M49.4 53.5h0M43.4 52.3h0M48.3 53.5h0M41.2 53.6h0M42.2 53.5h0M51.3 52.1h0M50.2 52.4h0M41.6 52.9h0M46 53.5h0M45.9 52.9h0M49.8 53.1h0M42.6 52.4h0M44.6 52.2h0M51.8 52.4h0M49.6 52.2h0M41.7 53.5h0M47.5 52.7h0M45.2 53.3h0M47.4 52h0M51.6 52.8h0M46.7 51.6h0M49.6 51.6h0M49.4 51.5h0M46.2 52.2h0M46.5 51.7h0M48.8 51.3h0M45.6 51.8h0M47.3 54h0M42.7 59.6h0M53.1 60.4h0M42.5 60h0M54.7 55.2h0M57.5 54.6h0M58.3 53.7h0M53.5 53.1h0M53.3 53.5h0M61 54.7h0M55.1 53.4h0M52.4 54.1h0M54.3 53h0M51.8 53.3h0M49.7 53.9h0M53.8 55h0M57.8 53h0M51.3 54.8h0M58.8 54.7h0M50.6 54.3h0M63 53.3h0M49.4 53.8h0M50.3 53.5h0M53.5 54.1h0M55.7 52.9h0M58.6 53.6h0M54.2 55.6h0M60.3 53.9h0M58.1 53.1h0M59.7 52.7h0M50.5 54.4h0M50.5 54.1h0M57.8 53.7h0M50.3 54.2h0M54.9 52.8h0M57.2 52.7h0M49.8 54.1h0M56.1 54.9h0M56.4 52.5h0M56.3 53.9h0M51.5 53.3h0M48.6 54.5h0M47.1 54.4h0M54.2 52.8h0M57.5 53h0M53.4 53.5h0M61.1 53.4h0M58.9 52.9h0M58.9 54.1h0M59.7 54.5h0M58.8 54.2h0M50.5 54h0M51.5 54.4h0M46.9 54.5h0M50.3 55h0M49.7 55.6h0M51.9 56h0M57.1 57.7h0M56.4 57.9h0M53.8 56h0M51.9 57h0M48.2 54.9h0M49.7 55.5h0M55.9 57.7h0M58.4 56.1h0M57 56.1h0M54.9 55.8h0M48.8 54.9h0M65.9 53.8h0M69.8 53.4h0M69.1 54.8h0M68.9 53.3h0M72.6 55h0M70.7 53h0M63.4 55.1h0M63.5 53.1h0M67.4 52.6h0M74.2 53.4h0M62 54.9h0M72.8 53.5h0M70.4 54.9h0M71.6 54.9h0M70.4 53.7h0M68 55.1h0M63.8 55.5h0M66.2 54.1h0M68.4 54h0M72.2 55h0M66.4 53.9h0M70.3 52.9h0M71.7 53.8h0M66.6 53.6h0M74.4 54.6h0M68.8 56h0M73.9 53.4h0M72.7 54.1h0M70.9 55.4h0M74.4 55.3h0M69.5 52.8h0M67 55.5h0M64.4 53.3h0M67.8 52.9h0M71.4 53.7h0M67 53.1h0M63.2 55.1h0M69 53.2h0M62.7 54.4h0M72.1 54.8h0M63 53.4h0M68.5 52.7h0M67.3 53.2h0M64.4 55h0M65 53.3h0M59.7 60h0M62.9 56.7h0M59.7 58.1h0M74.1 58.7h0M61.6 59.6h0M70.3 55.4h0M71.4 56.6h0M70.1 58.1h0M64.2 60h0M69.5 56h0M73.3 56h0M70 59.4h0M62.8 57.6h0M68.7 55.4h0M71.8 56.4h0"/>
</g>
<path d="M55.5 15.2h3.3v3.3h-3.3zM65.6 37h3.3v3.3h-3.3zM36.8 51.1h3.3v3.3h-3.3zM74.8 51.1h3.3v3.3h-3.3zM107.1 51.1h3.3v3.3h-3.3zM74.8 61.5h3.3v3.3h-3.3zM64.3 79.3h3.3v3.3h-3.3z" fill="#000"/>
<rect x="26.85" y="3.25" width="157.7" height="102.2" fill="none" stroke="#000" stroke-width="0.48"/>
<path d="M38.7 105.5v1.6M60 105.5v1.6M81.3 105.5v1.6M102.6 105.5v1.6M123.9 105.5v1.6M145.2 105.5v1.6M166.5 105.5v1.6M26.85 10.3h-1.6M26.85 24.6h-1.6M26.85 38.8h-1.6M26.85 53.1h-1.6M26.85 67.4h-1.6M26.85 81.6h-1.6M26.85 95.9h-1.6" stroke="#000" stroke-width="0.45" fill="none"/>
<g class="t">
<text transform="translate(38.7,112.7) scale(.05)" text-anchor="middle">0</text><text transform="translate(60,112.7) scale(.05)" text-anchor="middle">10</text><text transform="translate(81.3,112.7) scale(.05)" text-anchor="middle">20</text><text transform="translate(102.6,112.7) scale(.05)" text-anchor="middle">30</text><text transform="translate(123.9,112.7) scale(.05)" text-anchor="middle">40</text><text transform="translate(145.2,112.7) scale(.05)" text-anchor="middle">50</text><text transform="translate(166.5,112.7) scale(.05)" text-anchor="middle">60</text>
<text transform="translate(23.9,12) scale(.05)" text-anchor="end">0.15</text><text transform="translate(23.9,26.3) scale(.05)" text-anchor="end">0.10</text><text transform="translate(23.9,40.6) scale(.05)" text-anchor="end">0.05</text><text transform="translate(23.9,54.9) scale(.05)" text-anchor="end">0.00</text><text transform="translate(23.9,69.1) scale(.05)" text-anchor="end">−0.05</text><text transform="translate(23.9,83.4) scale(.05)" text-anchor="end">−0.10</text><text transform="translate(23.9,97.7) scale(.05)" text-anchor="end">−0.15</text>
<text transform="translate(105.7,119) scale(.05)" text-anchor="middle">speed in km/h</text>
<text transform="translate(6.6,54.8) rotate(-90) scale(.05)" text-anchor="middle">curvature in 1/m</text>
</g>
<text class="cap" x="103" y="133.6" text-anchor="middle">(b)</text>
</g>
<g transform="translate(0,137.5)">
<path d="M38.7 3.25V105.5M60 3.25V105.5M81.3 3.25V105.5M102.6 3.25V105.5M123.9 3.25V105.5M145.2 3.25V105.5M166.5 3.25V105.5M26.85 10.3H184.5M26.85 24.6H184.5M26.85 38.8H184.5M26.85 53.1H184.5M26.85 67.4H184.5M26.85 81.6H184.5M26.85 95.9H184.5" stroke="#b0b0b0" stroke-width="0.55" fill="none"/>
<g fill="none" stroke-width="3.5" stroke-linecap="round">
<path stroke="#1f77b4" d="M43.9 68.9h0M73.4 65h0M76.3 67.9h0M78.3 69.3h0M77.1 71.3h0M75.7 72.5h0M79.7 70.9h0M84.3 68.9h0M81.7 70.5h0M74.5 66.5h0M77.5 66h0M79 67.5h0M76 70h0M80.5 69h0M74 69.3h0M78.6 72.8h0M72.6 67.6h0M82.8 67.2h0M81.2 55.2h0M54.7 55.2h0M57.5 54.6h0M69.1 54.8h0M72.6 55h0M87 54.9h0M83.4 54.7h0M61 54.7h0M85.5 55.4h0M82.9 54.9h0M98.1 54.4h0M92.8 54.5h0M63.4 55.1h0M53.8 55h0M99.9 55.3h0M100.1 55.6h0M51.3 54.8h0M58.8 54.7h0M92.8 53.9h0M54.2 55.6h0M92.2 55h0M88.7 54.9h0M87.2 54.1h0M62 54.9h0M92.8 54.2h0M70.4 54.9h0M95.4 54.6h0M71.6 54.9h0M79 55h0M76.5 55.6h0M68 55.1h0M63.8 55.5h0M84.2 54.3h0M56.1 54.9h0M101.9 54.1h0M92 54.6h0M72.2 55h0M96.5 54.9h0M97.6 54.6h0M94.1 54.5h0M82.5 55.6h0M89.7 54.3h0M74.4 54.6h0M68.8 56h0M70.9 55.4h0M75 54.8h0M102.3 55.3h0M86.6 54.2h0M76.3 54.7h0M99.2 55.7h0M74.4 55.3h0M102.5 54.1h0M67 55.5h0M83.9 56h0M63.2 55.1h0M74.8 54.7h0M59.7 54.5h0M82 55.7h0M62.7 54.4h0M72.1 54.8h0M83.9 55.2h0M100.5 54.9h0M96.1 54.6h0M90.6 53.9h0M86.2 55.8h0M64.4 55h0M89.3 54h0M91.7 54.1h0M93.9 55.2h0M90.5 55.1h0M112 55.2h0M110.4 54.4h0M109.6 54.6h0M102.8 54.1h0M107.2 54.7h0M50.3 55h0M94.3 58.1h0M105.6 56.6h0M49.7 55.6h0M51.9 56h0M79.6 55.8h0M57.1 57.7h0M62.9 56.7h0M88.6 56.3h0M102 56.8h0M56.4 57.9h0M77.2 57.3h0M85.1 56.7h0M59.7 58.1h0M104.6 55.9h0M93 55.8h0M53.8 56h0M99.4 55.3h0M98.1 56.5h0M86.5 55.7h0M81.4 57.4h0M51.9 57h0M101.6 56.6h0M90 55.8h0M107 55.8h0M92.4 56.5h0M76.7 56.6h0M106.1 55.2h0M87.7 57.8h0M49.7 55.5h0M97.9 56.2h0M110.2 54.8h0M92.5 58.1h0M114.8 54.9h0M101.2 55.2h0M70.3 55.4h0M106.1 56.1h0M111.2 55.7h0M71.4 56.6h0M82.8 58.1h0M55.9 57.7h0M103.2 56.3h0M97.3 55.8h0M70.1 58.1h0M103.9 56.6h0M69.5 56h0M110.3 55.1h0M58.4 56.1h0M73.3 56h0M62.8 57.6h0M90.6 55.4h0M78 57h0M94.2 55.7h0M83.4 56.2h0M80.4 57h0M103.2 56h0M96.1 55.6h0M68.7 55.4h0M79.1 56h0M107.2 56.6h0M113.2 56h0M97.9 56h0M107.4 56.3h0M57 56.1h0M54.9 55.8h0M71.8 56.4h0M83.1 56.2h0"/>
<path stroke="#ff7f0e" d="M68.4 24.1h0M42.9 28.7h0M63.8 28.5h0M68.4 29.9h0M73.4 30.2h0M77.1 29.1h0M38.9 82.5h0M60.8 77.3h0M59.2 79.9h0M67.4 77.3h0M68.4 78.9h0M66.8 80.9h0M67.4 82.9h0M66.4 85.2h0M73.8 74.9h0"/>
<path stroke="#2ca02c" d="M76.3 33.4h0M79.7 35.8h0M81.3 37.8h0M86.7 37.4h0M45.9 36.4h0M54.9 36.4h0M60.4 35.8h0M62.8 37.4h0M50.5 39.8h0M66.4 41.4h0M53.5 37.8h0"/>
<path stroke="#d62728" d="M57.2 7.6h0M41.3 13.1h0M55 14.1h0M51.3 18.3h0"/>
<path stroke="#9467bd" d="M94 53.6h0M84.5 51.4h0M82.1 50.6h0M100.8 53.4h0M83.5 52.8h0M99.6 51.8h0M84.5 51.6h0M92.7 52.6h0M85.7 52.7h0M86.8 52.8h0M97.3 52.2h0M80 52h0M75 50.3h0M85.7 53h0M89.3 51.9h0M100.9 52.7h0M93.4 51.5h0M98.1 53h0M89.5 51.5h0M96 53.7h0M92.6 52.8h0M96.1 51.7h0M94.2 51.8h0M86.6 52h0M83.8 52h0M85.7 52.6h0M85.7 52.4h0M95 52.2h0M95.2 53h0M90.2 50.9h0M100.8 52.1h0M92 52.8h0M100.5 53.5h0M84 50.1h0M92.3 53.2h0M94.7 53.7h0M93.2 53.3h0M92.5 51.4h0M100.5 50.6h0M99.4 53.6h0M84.1 52.1h0M86.7 53.1h0M101.2 52.9h0M92 52.9h0M90.2 53.7h0M89.9 53.7h0M91.2 53h0M98.6 51.4h0M84.4 51.7h0M100.8 52.9h0M93.8 52.5h0M94.4 52.6h0M89 52.7h0M94.7 53.2h0M98.1 53.1h0M96.7 53.4h0M86.3 52.7h0M89.6 53.2h0M96.2 53.6h0M87.9 51.6h0M78.4 52h0M81 52.4h0M94.5 51h0M83.5 51.7h0M91.7 52h0M95.9 52.8h0M86.8 51.2h0M98.7 52.7h0M88.4 53.2h0M87 53.5h0M98.9 52.5h0M101.6 51.2h0M85.7 51.7h0M91.5 52.1h0M97.7 52.8h0M78.1 51.9h0M79.1 52h0M87.5 52.4h0M96.7 53.4h0M95.6 52.9h0M85.1 51.5h0M97.3 52.9h0M85.3 50.9h0M86.9 52h0M85.9 51.1h0M94.8 52.9h0M86.4 52.7h0M98 52.6h0M83.1 52.1h0M100.1 51.4h0M86.6 53.3h0M93.5 53h0M100.3 53.7h0M101.2 52.9h0M79.4 51.2h0M75.3 50.8h0M98.4 53.1h0M86.8 53.3h0M89.3 53.5h0M106.7 50.7h0M103.2 52h0M85 50.8h0M81.6 50.8h0M106.8 51h0M107.1 51.3h0M104.4 50.8h0M98.8 50.1h0M92.2 50h0M94.7 50.6h0M106 51.2h0M84.8 50.2h0M78.3 50.7h0M80.5 50.8h0M108.4 49.6h0M75.3 50h0M98.2 50.1h0M103.1 51h0M88.5 50.7h0M102.8 49.6h0M81.5 50.5h0M99.7 50.9h0M105.7 51.1h0M96.4 49.8h0M90 50.1h0M82.8 50.4h0M106.9 50.8h0M79.1 49.4h0M93.4 50.8h0M75.7 49.8h0M81.8 50.3h0M101.3 50.6h0M73.9 50.1h0M102.1 51h0M82.2 50.8h0M95.9 50.5h0M77.2 49.7h0M79.8 49.6h0M83.7 50.7h0M74 49.5h0M80.7 50.8h0M92.8 50.7h0M80.8 50.3h0"/>
<path stroke="#8c564b" d="M56.4 65.3h0M42.7 59.6h0M53.1 60.4h0M57.3 61.6h0M42.5 60h0M56.8 62h0M66.4 61h0M99.6 63.4h0M84.7 63h0M88.7 61h0M100 63.6h0M79 63.4h0M59.7 60h0M82.5 58.2h0M61.4 60.8h0M84.8 58.7h0M77.6 59.4h0M88.4 59h0M80 58.4h0M80 61.3h0M74.1 58.7h0M85.1 61.3h0M82.1 61.2h0M61.6 59.6h0M89.5 59.2h0M76.2 60.4h0M59.8 60.7h0M64.2 60h0M70.4 60.5h0M88.4 58.2h0M70 59.4h0M73.7 59.5h0M70 59.9h0"/>
<path stroke="#e377c2" d="M95.6 40.8h0M40.5 41.2h0M47.5 42.8h0M45.7 48.7h0M47.2 43.2h0M52.7 43.7h0M48.7 46.2h0M62.1 47.7h0M92.5 44.5h0M73.3 42.5h0M76.2 46.6h0M87.5 48.1h0M77 48.2h0M95 48.4h0M60.3 48.9h0M69.7 45.1h0M72.7 46.1h0M60.5 48.6h0M54.2 49.4h0M55.6 47.7h0M57.9 48.4h0M58.8 46.5h0M61.2 49.4h0M82.7 45.7h0M57.8 49.3h0M62.8 49h0M84.5 48h0M70.4 46.6h0M62.4 48.5h0M91.6 48.8h0M85.8 46.6h0M85.1 47.5h0M78.1 48.8h0M69.3 46.6h0M94.4 48.2h0M71.9 49h0M97 48.9h0M59.7 48.5h0M64.9 47.1h0M57.2 49.5h0M70.9 45.6h0M85.5 48.9h0M93.5 48.3h0M62.8 49.6h0M72.5 46.1h0M94.4 48.6h0M61.3 49h0M66.9 48.2h0M90.4 49.2h0M51.6 49.4h0M77.2 49.3h0M84 47h0M78.1 47.1h0M84.6 46.8h0M75.6 47.1h0M72.5 47.6h0M91 48.2h0M95.5 48.3h0M67.3 49.3h0M92.8 47.4h0M62.8 47.3h0M83 48.8h0M63.5 49.3h0M71.1 49.5h0M70 48.7h0M70 48.7h0M72.9 48.1h0M85.4 46.6h0M70 48.8h0M71.1 49.7h0M69.6 45.9h0M54.5 49.6h0M66.1 47.7h0M71.4 47.8h0M74.6 48.5h0M69.8 49.2h0M74.8 45.6h0M69.1 45.3h0M92.1 47.7h0"/>
<path stroke="#7f7f7f" d="M169.1 53h0M177.6 52.9h0M101.5 53.3h0M101.3 53.6h0M102.2 53.2h0M105.4 53.8h0M116.5 54.1h0M127.7 53.1h0M118.3 53.8h0M130.3 52.8h0M114.7 53.4h0M122.7 53.4h0M109.4 53.5h0M129.5 53.3h0M129.4 53.8h0M120.7 52.4h0M112.9 52.5h0M113.7 52.7h0M121.6 54.5h0M118.9 54.1h0M113.5 54.1h0M112.9 53.3h0M129.3 53.1h0M108.2 52.3h0M110.2 53.6h0M107.9 51.1h0M103.1 53.9h0M116.2 52.5h0M129.6 53.2h0M131.4 53.5h0M118.2 53.5h0M116.1 53.1h0M130.3 52.8h0M119.5 53.7h0M120.1 53h0M123.3 53.4h0M105.1 52.7h0M129.4 53.7h0M106 52.7h0M119.6 54.7h0M132.2 52.8h0M120.1 52.4h0M113.5 52.7h0M125.8 52.6h0M131.4 52.8h0M122.3 52.9h0M104.4 54h0M130.7 53.4h0M124.3 52h0M131.4 52.7h0M107.6 53h0M119.5 52.9h0M125.1 53.7h0M108.2 51.6h0M104.7 53.5h0M107.7 53.2h0M106.4 53.1h0M111.9 51.6h0M126.6 53.7h0M124.8 53.5h0M127 53h0M123.7 52.6h0M128 53.2h0M107.4 54h0M120.3 52.5h0M103.3 53.2h0M118.3 51.9h0M129.5 53.4h0M117.7 52.4h0M112 54.4h0M111.4 53.2h0M115.2 54.8h0M131.8 52.4h0M133.7 53.4h0M126.5 53.5h0M134.2 53.3h0M127 52.5h0M111.7 52.7h0M116.5 52.7h0M125.7 53.2h0M125.3 54.1h0M124.3 53.6h0M118.2 52.8h0M107.2 53.2h0M133.3 52.8h0M133.9 53h0M106.7 53.1h0M133.9 52.7h0M114.6 53.6h0M128.5 52.9h0M116.8 54h0M110.6 53.7h0M124.8 53.3h0M123.8 53.3h0M117.4 53.2h0M125.2 52.7h0M133.9 52.8h0M105.6 53.7h0M120.6 51.7h0M124.2 52.9h0M122.8 53.6h0M111 53.7h0M130.6 53.2h0M110.4 54h0M129.6 52.5h0M117.6 54h0M128.9 53.6h0M105.1 53.6h0M159.1 53.5h0M153.1 53.4h0M161.6 53.1h0M159.4 53h0M147 53.1h0M138.7 53.7h0M142.8 52.9h0M134.6 52.9h0M154.7 53.3h0M137.2 53.3h0M140.1 52.7h0M142.1 53h0M147.1 53.3h0M155.8 52.8h0M148.3 53.2h0M150.1 53.1h0M137.4 53.3h0M145 53.1h0M140.9 53h0M157.4 52.9h0M135.1 53h0M153.6 52.8h0M156.1 53.3h0M150.1 53.3h0M135.9 53.6h0M142.3 53.1h0M141.9 53h0M142.8 53.6h0M142.7 53h0M164.6 53.2h0M159 53h0M162.1 52.9h0M156.6 53.2h0M145.3 53.2h0M163.6 53.3h0M149.5 53.1h0M140.3 52.8h0M157.1 53.6h0M142.6 53.3h0M160 53.3h0M157.4 53.3h0M143.5 53.1h0M148.7 53.8h0M156.6 53h0M155.2 53.2h0M150.8 53.2h0M141.2 52.8h0M144.6 53.2h0M156 53.4h0M148.7 53.2h0M156.7 52.6h0M155.7 53h0M145.5 53.2h0M137.6 53.3h0M155.6 53.1h0M145.5 52.6h0M152 53.6h0M138.4 53.7h0M139.1 53.3h0M147.6 53.5h0M155.2 53.4h0M138.2 53.1h0M158.5 53.1h0M160.8 53.1h0M155.3 52.9h0M157.7 52.8h0M141.9 52.9h0M137.6 53h0M144.7 53.6h0M138.4 53.4h0M113.4 51.2h0M108.3 51.3h0M109.3 51.2h0M110.7 51.4h0M115 51.6h0M110.5 50.7h0M114.6 50.4h0M113.9 50.1h0M112.8 51.3h0M110.7 51h0M112.8 51.5h0M110.7 50.7h0M111.3 51.3h0M109.4 51.3h0M114.1 54.7h0M114.9 54.9h0M113.9 54.7h0"/>
<path stroke="#bcbd22" d="M61.4 101.2h0"/>
<path stroke="#17becf" d="M75.3 54.2h0M63.2 52.4h0M65.9 53.8h0M69.8 53.4h0M58.9 51.6h0M77 52.9h0M58.3 53.7h0M58 52.1h0M68.9 53.3h0M53.5 53.1h0M53.3 53.5h0M70.7 53h0M63.2 52.6h0M83.5 53.8h0M63.9 52.2h0M61.8 52.1h0M76.2 51.7h0M68.3 52.2h0M55.8 51.4h0M55.1 53.4h0M81 53h0M70.2 52.1h0M77.7 54.3h0M50.2 53.1h0M75 53.1h0M52.4 54.1h0M74.2 52.1h0M57.1 50.9h0M70.5 50.6h0M81.6 53h0M53 52.1h0M74.4 51.1h0M71 52.6h0M70.8 51.6h0M69 51.3h0M54.3 53h0M51.8 53.3h0M80.4 53.7h0M49.7 53.9h0M66.4 51.5h0M86 54h0M81 52.9h0M70.4 52.8h0M57.8 53h0M81.1 52.9h0M67.7 51.6h0M74.2 51.8h0M56.9 51.8h0M83.6 53h0M61.9 51.2h0M50.6 54.3h0M63 53.3h0M49.4 53.8h0M60.2 50.1h0M66.7 51.6h0M50.3 53.5h0M63.5 53.1h0M53.5 54.1h0M55.7 52.9h0M70.6 51.5h0M58.6 53.6h0M60.3 53.9h0M58.1 53.1h0M67.4 52.6h0M74.2 53.4h0M73.9 53.1h0M55.1 51.8h0M59.7 52.7h0M72.8 53.5h0M50.5 54.4h0M71.9 51.8h0M68.4 52h0M74.1 53h0M67.8 51.4h0M76.9 53.8h0M79.2 52.8h0M63.9 51.9h0M50.5 54.1h0M57.8 53.7h0M50.3 54.2h0M54.6 52h0M55.8 52h0M70.4 53.7h0M69.3 52.4h0M82.8 52.9h0M83.7 53.8h0M65 50.2h0M77.7 53.9h0M54.9 52.8h0M57.2 52.7h0M66.2 54.1h0M57.9 52.3h0M49.8 54.1h0M75.9 52h0M78.6 53.8h0M66.6 52.6h0M59 52h0M70.6 51.1h0M86.3 53.9h0M79.9 54.1h0M69.6 50.9h0M51.5 52.5h0M82.6 54.3h0M68.4 54h0M82.3 53.4h0M69.3 52h0M54.4 52.1h0M56.4 52.5h0M62.2 50.4h0M85 53.6h0M66.4 53.9h0M70.3 52.9h0M71.7 53.8h0M66.6 53.6h0M58.8 52.5h0M82.1 53.6h0M56.3 53.9h0M72.1 50.5h0M75.9 52h0M51.5 53.3h0M73.8 52.3h0M48.6 54.5h0M71.2 51.9h0M79.8 53.4h0M76.5 53.9h0M75.3 53.2h0M73.9 53.4h0M67.5 51.4h0M53.8 52.1h0M54.2 52.8h0M72.7 54.1h0M76.1 52.8h0M65.2 52.2h0M79.4 52.7h0M57.5 53h0M74 51.5h0M59.5 51.7h0M76.3 53.7h0M86 53.6h0M74.9 53.5h0M62.2 52.2h0M75 53.9h0M66.7 52h0M52.7 52h0M73.9 52.4h0M69.5 52.8h0M65.1 51.9h0M76.2 51.8h0M53 52.2h0M79.1 52.5h0M53.4 53.5h0M61.1 53.4h0M62.1 51.3h0M65.2 52.3h0M81.6 52.7h0M58.9 52.9h0M58.9 54.1h0M64.8 51.5h0M58.9 50.1h0M64.4 53.3h0M67.8 52.9h0M66.3 51.8h0M70.5 51.2h0M63.3 52.5h0M71.1 51.3h0M58.4 51.9h0M73.9 52.5h0M53.8 51.9h0M71.4 53.7h0M73.4 51.9h0M82.4 53.2h0M67 53.1h0M69 52.5h0M79.3 52.9h0M73.4 50.7h0M61.9 52.3h0M69 53.2h0M58.8 54.2h0M50.5 54h0M51.8 52.4h0M83.8 53.8h0M78.2 52.8h0M63 53.4h0M79.1 53.8h0M68.5 52.7h0M72.1 51.2h0M65 52h0M67.3 53.2h0M71.6 51.5h0M65 53.3h0M51.6 52.8h0M51.5 54.4h0M71.1 50.1h0M58.6 50.8h0M70.3 50.3h0M71.5 50.6h0M65.1 50.3h0M61.7 50.5h0M61.8 50.7h0M63.6 50.6h0M55.7 50.8h0M57.3 50.6h0M62.5 50.2h0M63.2 50.2h0M71.6 50.5h0M57.6 50h0M62.6 50h0M69 50.8h0M69.9 50.8h0M70.6 50.8h0M59 50.3h0M60.4 50.8h0M64.2 49.8h0M55.5 50.6h0M55.2 50.7h0M60.9 50.8h0M57.6 50.2h0M63.8 50.8h0M67.8 50.7h0M57.4 50.7h0M48.2 54.9h0M48.8 54.9h0"/>
<path stroke="#2ca02c" d="M41.2 49.9h0M39.7 55.6h0M33.7 53.1h0M35.5 53h0M40.8 52.7h0M42.3 53.3h0M38.3 52.9h0M40.4 53.2h0M44.1 53.7h0M44.1 53.2h0M36.7 53.3h0M37.5 52.6h0M36 53h0M39.7 53.7h0M35.8 53h0M39.9 53.2h0M41.7 53.2h0M38.2 53.4h0M42 53.5h0M41.2 53.1h0M35.7 52.8h0M40.9 53h0M38 53.1h0M39.5 53.1h0M38.2 53.3h0M42.1 52.7h0M39.7 53h0M37 52.8h0M40.7 53.1h0M43 53.2h0M38.4 53.5h0M37.6 52.5h0M39.2 53.3h0M44.5 52h0M44.9 53.7h0M41.9 53.4h0M44.2 53.1h0M43.6 52.7h0M39.1 53.3h0M46.5 52.4h0M46.2 53.8h0M44.6 52.9h0M45 52.7h0M45.3 53.7h0M53.1 51.2h0M47 53.5h0M48.8 52.4h0M52.7 51.3h0M46.4 53.8h0M45.4 52.5h0M43.9 53.6h0M45.2 53.3h0M44.4 53.2h0M45.9 53.1h0M44.8 52.7h0M46.5 52.3h0M46.7 52.7h0M43.6 53.4h0M44.3 53.4h0M45.4 53h0M44.7 53.1h0M45.1 53h0M45.6 52.8h0M45.5 53.1h0M52.2 51.3h0M40.9 52.8h0M42.7 53.2h0M50.9 52.2h0M43.7 53h0M49.1 53.5h0M43.4 52.9h0M41.1 53.3h0M44.6 53.7h0M43.4 53h0M47.8 53.7h0M44.3 53.2h0M47.9 53.4h0M45.3 54h0M46 53.3h0M46.4 52.8h0M47.1 54.4h0M49.3 52.7h0M41 53.1h0M49.8 52h0M43.9 53.7h0M43.3 53.5h0M44 52.6h0M49.4 53.5h0M43.4 52.3h0M48.3 53.5h0M41.2 53.6h0M42.2 53.5h0M51.3 52.1h0M50.2 52.4h0M41.6 52.9h0M46 53.5h0M45.9 52.9h0M49.8 53.1h0M42.6 52.4h0M44.6 52.2h0M49.6 52.2h0M41.7 53.5h0M47.5 52.7h0M45.2 53.3h0M47.4 52h0M46.7 51.6h0M49.8 50.4h0M49.6 51.6h0M50.2 50.1h0M51.5 50.9h0M50.5 51h0M49.4 51.5h0M46.2 52.2h0M46.5 51.7h0M49.8 50h0M48.8 51.3h0M51.4 51.1h0M45.6 51.8h0M51.3 51.1h0M50.4 50.7h0M51.3 50h0M50.4 49.8h0M50.9 51.2h0M46.9 54.5h0M47.3 54h0"/>
</g>
<path d="M49.5 10.7h3.3v3.3h-3.3zM64.3 25.7h3.3v3.3h-3.3zM63.1 35.6h3.3v3.3h-3.3zM74.3 45.2h3.3v3.3h-3.3zM36.2 50.5h3.3v3.3h-3.3zM63.9 50.5h3.3v3.3h-3.3zM82.3 53h3.3v3.3h-3.3zM94.2 50.5h3.3v3.3h-3.3zM117.8 50.5h3.3v3.3h-3.3zM75.5 58.5h3.3v3.3h-3.3zM73.1 66.4h3.3v3.3h-3.3zM63.1 78.3h3.3v3.3h-3.3zM60 98.8h3.3v3.3h-3.3z" fill="#000"/>
<rect x="26.85" y="3.25" width="157.7" height="102.2" fill="none" stroke="#000" stroke-width="0.48"/>
<path d="M38.7 105.5v1.6M60 105.5v1.6M81.3 105.5v1.6M102.6 105.5v1.6M123.9 105.5v1.6M145.2 105.5v1.6M166.5 105.5v1.6M26.85 10.3h-1.6M26.85 24.6h-1.6M26.85 38.8h-1.6M26.85 53.1h-1.6M26.85 67.4h-1.6M26.85 81.6h-1.6M26.85 95.9h-1.6" stroke="#000" stroke-width="0.45" fill="none"/>
<g class="t">
<text transform="translate(38.7,112.7) scale(.05)" text-anchor="middle">0</text><text transform="translate(60,112.7) scale(.05)" text-anchor="middle">10</text><text transform="translate(81.3,112.7) scale(.05)" text-anchor="middle">20</text><text transform="translate(102.6,112.7) scale(.05)" text-anchor="middle">30</text><text transform="translate(123.9,112.7) scale(.05)" text-anchor="middle">40</text><text transform="translate(145.2,112.7) scale(.05)" text-anchor="middle">50</text><text transform="translate(166.5,112.7) scale(.05)" text-anchor="middle">60</text>
<text transform="translate(23.9,12) scale(.05)" text-anchor="end">0.15</text><text transform="translate(23.9,26.3) scale(.05)" text-anchor="end">0.10</text><text transform="translate(23.9,40.6) scale(.05)" text-anchor="end">0.05</text><text transform="translate(23.9,54.9) scale(.05)" text-anchor="end">0.00</text><text transform="translate(23.9,69.1) scale(.05)" text-anchor="end">−0.05</text><text transform="translate(23.9,83.4) scale(.05)" text-anchor="end">−0.10</text><text transform="translate(23.9,97.7) scale(.05)" text-anchor="end">−0.15</text>
<text transform="translate(105.7,119) scale(.05)" text-anchor="middle">speed in km/h</text>
<text transform="translate(6.6,54.8) rotate(-90) scale(.05)" text-anchor="middle">curvature in 1/m</text>
</g>
<text class="cap" x="103" y="133.6" text-anchor="middle">(c)</text>
</g>
<g transform="translate(214.5,137.5)">
<path d="M38.7 3.25V105.5M60 3.25V105.5M81.3 3.25V105.5M102.6 3.25V105.5M123.9 3.25V105.5M145.2 3.25V105.5M166.5 3.25V105.5M26.85 10.3H184.5M26.85 24.6H184.5M26.85 38.8H184.5M26.85 53.1H184.5M26.85 67.4H184.5M26.85 81.6H184.5M26.85 95.9H184.5" stroke="#b0b0b0" stroke-width="0.55" fill="none"/>
<g fill="none" stroke-width="3.5" stroke-linecap="round">
<path stroke="#1f77b4" d="M39.7 55.6h0M33.7 53.1h0M35.5 53h0M40.8 52.7h0M42.3 53.3h0M38.3 52.9h0M40.4 53.2h0M44.1 53.7h0M44.1 53.2h0M36.7 53.3h0M37.5 52.6h0M36 53h0M39.7 53.7h0M35.8 53h0M39.9 53.2h0M41.7 53.2h0M38.2 53.4h0M42 53.5h0M41.2 53.1h0M35.7 52.8h0M40.9 53h0M38 53.1h0M39.5 53.1h0M38.2 53.3h0M42.1 52.7h0M39.7 53h0M37 52.8h0M40.7 53.1h0M43 53.2h0M38.4 53.5h0M37.6 52.5h0M39.2 53.3h0M44.5 52h0M44.9 53.7h0M41.9 53.4h0M44.2 53.1h0M43.6 52.7h0M39.1 53.3h0M46.5 52.4h0M58.9 51.6h0M58 52.1h0M53.5 53.1h0M46.2 53.8h0M44.6 52.9h0M55.8 51.4h0M45 52.7h0M45.3 53.7h0M53.1 51.2h0M50.2 53.1h0M47 53.5h0M48.8 52.4h0M53 52.1h0M52.7 51.3h0M46.4 53.8h0M54.3 53h0M45.4 52.5h0M43.9 53.6h0M45.2 53.3h0M44.4 53.2h0M45.9 53.1h0M56.9 51.8h0M44.8 52.7h0M55.7 52.9h0M46.5 52.3h0M46.7 52.7h0M55.1 51.8h0M43.6 53.4h0M44.3 53.4h0M45.4 53h0M44.7 53.1h0M45.1 53h0M45.6 52.8h0M45.5 53.1h0M52.2 51.3h0M54.6 52h0M55.8 52h0M40.9 52.8h0M42.7 53.2h0M50.9 52.2h0M43.7 53h0M49.1 53.5h0M54.9 52.8h0M57.2 52.7h0M57.9 52.3h0M43.4 52.9h0M41.1 53.3h0M44.6 53.7h0M59 52h0M51.5 52.5h0M43.4 53h0M47.8 53.7h0M54.4 52.1h0M56.4 52.5h0M44.3 53.2h0M47.9 53.4h0M45.3 54h0M46 53.3h0M46.4 52.8h0M49.3 52.7h0M41 53.1h0M53.8 52.1h0M54.2 52.8h0M49.8 52h0M43.9 53.7h0M59.5 51.7h0M43.3 53.5h0M44 52.6h0M49.4 53.5h0M43.4 52.3h0M48.3 53.5h0M52.7 52h0M41.2 53.6h0M53 52.2h0M42.2 53.5h0M51.3 52.1h0M50.2 52.4h0M41.6 52.9h0M46 53.5h0M58.4 51.9h0M53.8 51.9h0M45.9 52.9h0M49.8 53.1h0M42.6 52.4h0M44.6 52.2h0M51.8 52.4h0M49.6 52.2h0M41.7 53.5h0M47.5 52.7h0M45.2 53.3h0M47.4 52h0M51.6 52.8h0M46.7 51.6h0M49.6 51.6h0M49.4 51.5h0M46.2 52.2h0M46.5 51.7h0M48.8 51.3h0M51.4 51.1h0M45.6 51.8h0M51.3 51.1h0M50.9 51.2h0M47.3 54h0M127.7 53.1h0M130.3 52.8h0M129.5 53.3h0M129.4 53.8h0M120.7 52.4h0M129.3 53.1h0M116.2 52.5h0M129.6 53.2h0M131.4 53.5h0M130.3 52.8h0M120.1 53h0M129.4 53.7h0M132.2 52.8h0M120.1 52.4h0M125.8 52.6h0M131.4 52.8h0M122.3 52.9h0M130.7 53.4h0M124.3 52h0M131.4 52.7h0M119.5 52.9h0M124.8 53.5h0M127 53h0M123.7 52.6h0M128 53.2h0M120.3 52.5h0M118.3 51.9h0M129.5 53.4h0M117.7 52.4h0M131.8 52.4h0M133.7 53.4h0M126.5 53.5h0M134.2 53.3h0M127 52.5h0M125.7 53.2h0M118.2 52.8h0M133.3 52.8h0M133.9 53h0M133.9 52.7h0M128.5 52.9h0M124.8 53.3h0M123.8 53.3h0M125.2 52.7h0M133.9 52.8h0M120.6 51.7h0M124.2 52.9h0M130.6 53.2h0M129.6 52.5h0M128.9 53.6h0M138.7 53.7h0M142.8 52.9h0M134.6 52.9h0M137.2 53.3h0M140.1 52.7h0M142.1 53h0M137.4 53.3h0M145 53.1h0M140.9 53h0M135.1 53h0M135.9 53.6h0M142.3 53.1h0M141.9 53h0M142.8 53.6h0M142.7 53h0M145.3 53.2h0M140.3 52.8h0M142.6 53.3h0M143.5 53.1h0M141.2 52.8h0M144.6 53.2h0M145.5 53.2h0M137.6 53.3h0M145.5 52.6h0M138.4 53.7h0M139.1 53.3h0M138.2 53.1h0M141.9 52.9h0M137.6 53h0M144.7 53.6h0M138.4 53.4h0"/>
<path stroke="#ff7f0e" d="M60.8 77.3h0M67.4 77.3h0M68.4 78.9h0M73.8 74.9h0"/>
<path stroke="#d62728" d="M76.3 33.4h0M79.7 35.8h0M81.3 37.8h0M86.7 37.4h0M45.9 36.4h0M54.9 36.4h0M60.4 35.8h0M62.8 37.4h0M50.5 39.8h0M53.5 37.8h0"/>
<path stroke="#9467bd" d="M57.2 7.6h0M41.3 13.1h0M55 14.1h0M51.3 18.3h0M81.2 55.2h0M75.3 54.2h0M63.2 52.4h0M54.7 55.2h0M65.9 53.8h0M69.8 53.4h0M57.5 54.6h0M69.1 54.8h0M77 52.9h0M58.3 53.7h0M68.9 53.3h0M53.3 53.5h0M72.6 55h0M70.7 53h0M63.2 52.6h0M83.5 53.8h0M83.4 54.7h0M63.9 52.2h0M61.8 52.1h0M76.2 51.7h0M61 54.7h0M68.3 52.2h0M55.1 53.4h0M83.5 52.8h0M81 53h0M70.2 52.1h0M77.7 54.3h0M75 53.1h0M52.4 54.1h0M82.9 54.9h0M74.2 52.1h0M85.7 52.7h0M86.8 52.8h0M81.6 53h0M63.4 55.1h0M85.7 53h0M71 52.6h0M70.8 51.6h0M51.8 53.3h0M80.4 53.7h0M49.7 53.9h0M66.4 51.5h0M53.8 55h0M86 54h0M81 52.9h0M70.4 52.8h0M57.8 53h0M81.1 52.9h0M67.7 51.6h0M74.2 51.8h0M51.3 54.8h0M83.6 53h0M58.8 54.7h0M50.6 54.3h0M85.7 52.6h0M63 53.3h0M49.4 53.8h0M66.7 51.6h0M50.3 53.5h0M63.5 53.1h0M53.5 54.1h0M70.6 51.5h0M58.6 53.6h0M54.2 55.6h0M60.3 53.9h0M58.1 53.1h0M67.4 52.6h0M74.2 53.4h0M73.9 53.1h0M87.2 54.1h0M62 54.9h0M86.7 53.1h0M59.7 52.7h0M72.8 53.5h0M50.5 54.4h0M71.9 51.8h0M70.4 54.9h0M68.4 52h0M74.1 53h0M67.8 51.4h0M71.6 54.9h0M76.9 53.8h0M79.2 52.8h0M63.9 51.9h0M79 55h0M50.5 54.1h0M57.8 53.7h0M50.3 54.2h0M70.4 53.7h0M69.3 52.4h0M82.8 52.9h0M76.5 55.6h0M83.7 53.8h0M68 55.1h0M63.8 55.5h0M77.7 53.9h0M91.2 53h0M66.2 54.1h0M49.8 54.1h0M84.2 54.3h0M75.9 52h0M78.6 53.8h0M66.6 52.6h0M56.1 54.9h0M86.3 53.9h0M79.9 54.1h0M82.6 54.3h0M68.4 54h0M82.3 53.4h0M69.3 52h0M89 52.7h0M72.2 55h0M85 53.6h0M66.4 53.9h0M86.3 52.7h0M70.3 52.9h0M71.7 53.8h0M66.6 53.6h0M58.8 52.5h0M82.1 53.6h0M89.6 53.2h0M56.3 53.9h0M75.9 52h0M51.5 53.3h0M73.8 52.3h0M48.6 54.5h0M71.2 51.9h0M82.5 55.6h0M79.8 53.4h0M76.5 53.9h0M81 52.4h0M74.4 54.6h0M75.3 53.2h0M68.8 56h0M73.9 53.4h0M67.5 51.4h0M47.1 54.4h0M72.7 54.1h0M76.1 52.8h0M70.9 55.4h0M65.2 52.2h0M75 54.8h0M79.4 52.7h0M57.5 53h0M88.4 53.2h0M74 51.5h0M86.6 54.2h0M87 53.5h0M76.3 53.7h0M86 53.6h0M74.9 53.5h0M62.2 52.2h0M76.3 54.7h0M75 53.9h0M66.7 52h0M74.4 55.3h0M73.9 52.4h0M69.5 52.8h0M65.1 51.9h0M76.2 51.8h0M67 55.5h0M79.1 52.5h0M53.4 53.5h0M61.1 53.4h0M65.2 52.3h0M81.6 52.7h0M58.9 52.9h0M58.9 54.1h0M64.8 51.5h0M64.4 53.3h0M67.8 52.9h0M66.3 51.8h0M63.3 52.5h0M73.9 52.5h0M71.4 53.7h0M73.4 51.9h0M82.4 53.2h0M67 53.1h0M69 52.5h0M63.2 55.1h0M86.4 52.7h0M74.8 54.7h0M59.7 54.5h0M79.3 52.9h0M61.9 52.3h0M69 53.2h0M58.8 54.2h0M82 55.7h0M50.5 54h0M86.6 53.3h0M62.7 54.4h0M72.1 54.8h0M83.8 53.8h0M78.2 52.8h0M63 53.4h0M79.1 53.8h0M68.5 52.7h0M65 52h0M83.9 55.2h0M67.3 53.2h0M64.4 55h0M86.8 53.3h0M71.6 51.5h0M65 53.3h0M51.5 54.4h0M89.3 53.5h0M46.9 54.5h0M50.3 55h0M49.7 55.6h0M51.9 56h0M79.6 55.8h0M62.9 56.7h0M53.8 56h0M48.2 54.9h0M76.7 56.6h0M49.7 55.5h0M70.3 55.4h0M71.4 56.6h0M69.5 56h0M58.4 56.1h0M73.3 56h0M68.7 55.4h0M79.1 56h0M57 56.1h0M54.9 55.8h0M48.8 54.9h0M71.8 56.4h0"/>
<path stroke="#8c564b" d="M94 53.6h0M87 54.9h0M100.8 53.4h0M85.5 55.4h0M98.1 54.4h0M92.8 54.5h0M100.9 52.7h0M98.1 53h0M96 53.7h0M99.9 55.3h0M100.1 55.6h0M92.8 53.9h0M95.2 53h0M100.8 52.1h0M100.5 53.5h0M92.3 53.2h0M94.7 53.7h0M92.2 55h0M93.2 53.3h0M88.7 54.9h0M99.4 53.6h0M92.8 54.2h0M101.2 52.9h0M92 52.9h0M95.4 54.6h0M90.2 53.7h0M89.9 53.7h0M101.9 54.1h0M100.8 52.9h0M92 54.6h0M94.7 53.2h0M98.1 53.1h0M96.7 53.4h0M96.5 54.9h0M96.2 53.6h0M97.6 54.6h0M94.1 54.5h0M89.7 54.3h0M101.5 53.3h0M95.9 52.8h0M98.7 52.7h0M102.3 55.3h0M98.9 52.5h0M99.2 55.7h0M102.5 54.1h0M97.7 52.8h0M83.9 56h0M96.7 53.4h0M95.6 52.9h0M101.3 53.6h0M97.3 52.9h0M94.8 52.9h0M102.2 53.2h0M98 52.6h0M93.5 53h0M100.3 53.7h0M101.2 52.9h0M100.5 54.9h0M96.1 54.6h0M90.6 53.9h0M98.4 53.1h0M86.2 55.8h0M89.3 54h0M91.7 54.1h0M93.9 55.2h0M90.5 55.1h0M105.4 53.8h0M116.5 54.1h0M118.3 53.8h0M114.7 53.4h0M122.7 53.4h0M109.4 53.5h0M112.9 52.5h0M113.7 52.7h0M121.6 54.5h0M118.9 54.1h0M112 55.2h0M113.5 54.1h0M112.9 53.3h0M108.2 52.3h0M110.2 53.6h0M103.1 53.9h0M118.2 53.5h0M116.1 53.1h0M119.5 53.7h0M123.3 53.4h0M105.1 52.7h0M106 52.7h0M119.6 54.7h0M113.5 52.7h0M104.4 54h0M103.2 52h0M107.6 53h0M125.1 53.7h0M110.4 54.4h0M104.7 53.5h0M107.7 53.2h0M106.4 53.1h0M126.6 53.7h0M107.4 54h0M103.3 53.2h0M112 54.4h0M111.4 53.2h0M115.2 54.8h0M111.7 52.7h0M116.5 52.7h0M125.3 54.1h0M124.3 53.6h0M107.2 53.2h0M109.6 54.6h0M106.7 53.1h0M114.6 53.6h0M102.8 54.1h0M116.8 54h0M110.6 53.7h0M117.4 53.2h0M105.6 53.7h0M122.8 53.6h0M111 53.7h0M110.4 54h0M117.6 54h0M107.2 54.7h0M105.1 53.6h0M105.6 56.6h0M114.1 54.7h0M88.6 56.3h0M102 56.8h0M85.1 56.7h0M104.6 55.9h0M93 55.8h0M99.4 55.3h0M98.1 56.5h0M86.5 55.7h0M101.6 56.6h0M90 55.8h0M107 55.8h0M92.4 56.5h0M106.1 55.2h0M97.9 56.2h0M114.9 54.9h0M110.2 54.8h0M114.8 54.9h0M101.2 55.2h0M106.1 56.1h0M111.2 55.7h0M103.2 56.3h0M97.3 55.8h0M103.9 56.6h0M113.9 54.7h0M110.3 55.1h0M90.6 55.4h0M94.2 55.7h0M83.4 56.2h0M103.2 56h0M96.1 55.6h0M107.2 56.6h0M113.2 56h0M97.9 56h0M107.4 56.3h0M83.1 56.2h0"/>
<path stroke="#e377c2" d="M56.4 65.3h0M42.7 59.6h0M53.1 60.4h0M57.3 61.6h0M42.5 60h0M56.8 62h0M66.4 61h0M99.6 63.4h0M84.7 63h0M88.7 61h0M100 63.6h0M79 63.4h0M59.7 60h0M94.3 58.1h0M82.5 58.2h0M61.4 60.8h0M57.1 57.7h0M84.8 58.7h0M77.6 59.4h0M88.4 59h0M80 58.4h0M56.4 57.9h0M77.2 57.3h0M59.7 58.1h0M81.4 57.4h0M80 61.3h0M51.9 57h0M74.1 58.7h0M85.1 61.3h0M82.1 61.2h0M61.6 59.6h0M87.7 57.8h0M92.5 58.1h0M89.5 59.2h0M76.2 60.4h0M82.8 58.1h0M55.9 57.7h0M59.8 60.7h0M70.1 58.1h0M64.2 60h0M70.4 60.5h0M88.4 58.2h0M70 59.4h0M62.8 57.6h0M78 57h0M73.7 59.5h0M80.4 57h0M70 59.9h0"/>
<path stroke="#7f7f7f" d="M95.6 40.8h0M40.5 41.2h0M66.4 41.4h0M47.5 42.8h0M47.2 43.2h0M52.7 43.7h0M48.7 46.2h0M92.5 44.5h0M73.3 42.5h0M76.2 46.6h0M69.7 45.1h0M72.7 46.1h0M58.8 46.5h0M82.7 45.7h0M70.4 46.6h0M85.8 46.6h0M69.3 46.6h0M70.9 45.6h0M72.5 46.1h0M84.6 46.8h0M85.4 46.6h0M69.6 45.9h0M74.8 45.6h0M69.1 45.3h0M169.1 53h0M177.6 52.9h0M159.1 53.5h0M153.1 53.4h0M161.6 53.1h0M159.4 53h0M147 53.1h0M154.7 53.3h0M147.1 53.3h0M155.8 52.8h0M148.3 53.2h0M150.1 53.1h0M157.4 52.9h0M153.6 52.8h0M156.1 53.3h0M150.1 53.3h0M164.6 53.2h0M159 53h0M162.1 52.9h0M156.6 53.2h0M163.6 53.3h0M149.5 53.1h0M157.1 53.6h0M160 53.3h0M157.4 53.3h0M148.7 53.8h0M156.6 53h0M155.2 53.2h0M150.8 53.2h0M156 53.4h0M148.7 53.2h0M156.7 52.6h0M155.7 53h0M155.6 53.1h0M152 53.6h0M147.6 53.5h0M155.2 53.4h0M158.5 53.1h0M160.8 53.1h0M155.3 52.9h0M157.7 52.8h0"/>
<path stroke="#bcbd22" d="M38.9 82.5h0M59.2 79.9h0M66.8 80.9h0M67.4 82.9h0M66.4 85.2h0M61.4 101.2h0M41.2 49.9h0M45.7 48.7h0M62.1 47.7h0M57.1 50.9h0M70.5 50.6h0M75 50.3h0M74.4 51.1h0M69 51.3h0M61.9 51.2h0M60.2 50.1h0M65 50.2h0M70.6 51.1h0M69.6 50.9h0M62.2 50.4h0M72.1 50.5h0M62.1 51.3h0M58.9 50.1h0M70.5 51.2h0M71.1 51.3h0M73.4 50.7h0M72.1 51.2h0M75.3 50.8h0M71.1 50.1h0M49.8 50.4h0M58.6 50.8h0M87.5 48.1h0M70.3 50.3h0M77 48.2h0M71.5 50.6h0M65.1 50.3h0M60.3 48.9h0M50.2 50.1h0M61.7 50.5h0M60.5 48.6h0M61.8 50.7h0M54.2 49.4h0M63.6 50.6h0M55.6 47.7h0M57.9 48.4h0M75.3 50h0M51.5 50.9h0M61.2 49.4h0M57.8 49.3h0M62.8 49h0M84.5 48h0M50.5 51h0M62.4 48.5h0M55.7 50.8h0M85.1 47.5h0M78.1 48.8h0M57.3 50.6h0M71.9 49h0M59.7 48.5h0M64.9 47.1h0M57.2 49.5h0M62.5 50.2h0M79.1 49.4h0M85.5 48.9h0M75.7 49.8h0M63.2 50.2h0M73.9 50.1h0M62.8 49.6h0M49.8 50h0M71.6 50.5h0M61.3 49h0M57.6 50h0M66.9 48.2h0M62.6 50h0M69 50.8h0M50.4 50.7h0M51.6 49.4h0M69.9 50.8h0M77.2 49.3h0M84 47h0M78.1 47.1h0M75.6 47.1h0M72.5 47.6h0M70.6 50.8h0M91 48.2h0M67.3 49.3h0M59 50.3h0M92.8 47.4h0M62.8 47.3h0M83 48.8h0M60.4 50.8h0M77.2 49.7h0M64.2 49.8h0M51.3 50h0M50.4 49.8h0M63.5 49.3h0M71.1 49.5h0M70 48.7h0M70 48.7h0M72.9 48.1h0M55.5 50.6h0M70 48.8h0M71.1 49.7h0M55.2 50.7h0M60.9 50.8h0M54.5 49.6h0M66.1 47.7h0M71.4 47.8h0M74.6 48.5h0M74 49.5h0M57.6 50.2h0M63.8 50.8h0M69.8 49.2h0M67.8 50.7h0M92.1 47.7h0M57.4 50.7h0"/>
<path stroke="#17becf" d="M68.4 24.1h0M42.9 28.7h0M63.8 28.5h0M68.4 29.9h0M73.4 30.2h0M77.1 29.1h0M43.9 68.9h0M73.4 65h0M76.3 67.9h0M78.3 69.3h0M77.1 71.3h0M75.7 72.5h0M79.7 70.9h0M84.3 68.9h0M81.7 70.5h0M74.5 66.5h0M77.5 66h0M79 67.5h0M76 70h0M80.5 69h0M74 69.3h0M78.6 72.8h0M72.6 67.6h0M82.8 67.2h0"/>
<path stroke="#2ca02c" d="M84 50.1h0M100.5 50.6h0M98.6 51.4h0M101.6 51.2h0M100.1 51.4h0M106.7 50.7h0M107.9 51.1h0M108.2 51.6h0M111.9 51.6h0M113.4 51.2h0M106.8 51h0M107.1 51.3h0M104.4 50.8h0M98.8 50.1h0M92.2 50h0M94.7 50.6h0M95 48.4h0M108.3 51.3h0M106 51.2h0M84.8 50.2h0M78.3 50.7h0M108.4 49.6h0M109.3 51.2h0M98.2 50.1h0M103.1 51h0M102.8 49.6h0M110.7 51.4h0M81.5 50.5h0M115 51.6h0M110.5 50.7h0M99.7 50.9h0M114.6 50.4h0M91.6 48.8h0M113.9 50.1h0M112.8 51.3h0M105.7 51.1h0M96.4 49.8h0M110.7 51h0M112.8 51.5h0M90 50.1h0M94.4 48.2h0M97 48.9h0M82.8 50.4h0M106.9 50.8h0M110.7 50.7h0M81.8 50.3h0M101.3 50.6h0M93.5 48.3h0M111.3 51.3h0M109.4 51.3h0M102.1 51h0M94.4 48.6h0M90.4 49.2h0M95.9 50.5h0M95.5 48.3h0M79.8 49.6h0M80.8 50.3h0"/>
<path stroke="#d62728" d="M84.5 51.4h0M82.1 50.6h0M99.6 51.8h0M84.5 51.6h0M92.7 52.6h0M97.3 52.2h0M80 52h0M89.3 51.9h0M93.4 51.5h0M89.5 51.5h0M92.6 52.8h0M96.1 51.7h0M94.2 51.8h0M86.6 52h0M83.8 52h0M85.7 52.4h0M95 52.2h0M90.2 50.9h0M92 52.8h0M92.5 51.4h0M84.1 52.1h0M84.4 51.7h0M93.8 52.5h0M94.4 52.6h0M87.9 51.6h0M78.4 52h0M94.5 51h0M83.5 51.7h0M91.7 52h0M86.8 51.2h0M85.7 51.7h0M91.5 52.1h0M78.1 51.9h0M79.1 52h0M87.5 52.4h0M85.1 51.5h0M85.3 50.9h0M86.9 52h0M85.9 51.1h0M83.1 52.1h0M79.4 51.2h0M85 50.8h0M81.6 50.8h0M80.5 50.8h0M88.5 50.7h0M93.4 50.8h0M82.2 50.8h0M83.7 50.7h0M80.7 50.8h0M92.8 50.7h0"/>
</g>
<path d="M50 10.7h3.3v3.3h-3.3zM64.8 25.7h3.3v3.3h-3.3zM64.2 34.1h3.3v3.3h-3.3zM69.6 41.2h3.3v3.3h-3.3zM70.2 45.6h3.3v3.3h-3.3zM36.9 50.6h3.3v3.3h-3.3zM55.4 50.6h3.3v3.3h-3.3zM69.6 52.6h3.3v3.3h-3.3zM82.5 50.6h3.3v3.3h-3.3zM90.5 48.6h3.3v3.3h-3.3zM96.5 51.2h3.3v3.3h-3.3zM102.4 53.2h3.3v3.3h-3.3zM109.8 50.6h3.3v3.3h-3.3zM124.4 50.6h3.3v3.3h-3.3zM156.7 50.6h3.3v3.3h-3.3zM70.6 56.6h3.3v3.3h-3.3zM78.5 61.1h3.3v3.3h-3.3zM74.6 67.5h3.3v3.3h-3.3zM66.1 76.3h3.3v3.3h-3.3zM60.5 80.8h3.3v3.3h-3.3zM60 98.8h3.3v3.3h-3.3z" fill="#000"/>
<rect x="26.85" y="3.25" width="157.7" height="102.2" fill="none" stroke="#000" stroke-width="0.48"/>
<path d="M38.7 105.5v1.6M60 105.5v1.6M81.3 105.5v1.6M102.6 105.5v1.6M123.9 105.5v1.6M145.2 105.5v1.6M166.5 105.5v1.6M26.85 10.3h-1.6M26.85 24.6h-1.6M26.85 38.8h-1.6M26.85 53.1h-1.6M26.85 67.4h-1.6M26.85 81.6h-1.6M26.85 95.9h-1.6" stroke="#000" stroke-width="0.45" fill="none"/>
<g class="t">
<text transform="translate(38.7,112.7) scale(.05)" text-anchor="middle">0</text><text transform="translate(60,112.7) scale(.05)" text-anchor="middle">10</text><text transform="translate(81.3,112.7) scale(.05)" text-anchor="middle">20</text><text transform="translate(102.6,112.7) scale(.05)" text-anchor="middle">30</text><text transform="translate(123.9,112.7) scale(.05)" text-anchor="middle">40</text><text transform="translate(145.2,112.7) scale(.05)" text-anchor="middle">50</text><text transform="translate(166.5,112.7) scale(.05)" text-anchor="middle">60</text>
<text transform="translate(23.9,12) scale(.05)" text-anchor="end">0.15</text><text transform="translate(23.9,26.3) scale(.05)" text-anchor="end">0.10</text><text transform="translate(23.9,40.6) scale(.05)" text-anchor="end">0.05</text><text transform="translate(23.9,54.9) scale(.05)" text-anchor="end">0.00</text><text transform="translate(23.9,69.1) scale(.05)" text-anchor="end">−0.05</text><text transform="translate(23.9,83.4) scale(.05)" text-anchor="end">−0.10</text><text transform="translate(23.9,97.7) scale(.05)" text-anchor="end">−0.15</text>
<text transform="translate(105.7,119) scale(.05)" text-anchor="middle">speed in km/h</text>
<text transform="translate(6.6,54.8) rotate(-90) scale(.05)" text-anchor="middle">curvature in 1/m</text>
</g>
<text class="cap" x="103" y="133.6" text-anchor="middle">(d)</text>
</g>
<g transform="translate(0,274.7)">
<path d="M38.7 3.25V105.5M60 3.25V105.5M81.3 3.25V105.5M102.6 3.25V105.5M123.9 3.25V105.5M145.2 3.25V105.5M166.5 3.25V105.5M26.85 10.3H184.5M26.85 24.6H184.5M26.85 38.8H184.5M26.85 53.1H184.5M26.85 67.4H184.5M26.85 81.6H184.5M26.85 95.9H184.5" stroke="#b0b0b0" stroke-width="0.55" fill="none"/>
<g fill="none" stroke-width="3.5" stroke-linecap="round">
<path stroke="#1f77b4" d="M84.5 51.4h0M82.1 50.6h0M99.6 51.8h0M84.5 51.6h0M97.3 52.2h0M93.4 51.5h0M89.5 51.5h0M96.1 51.7h0M94.2 51.8h0M95 52.2h0M90.2 50.9h0M100.8 52.1h0M84 50.1h0M92.5 51.4h0M100.5 50.6h0M98.6 51.4h0M87.9 51.6h0M94.5 51h0M91.7 52h0M86.8 51.2h0M98.9 52.5h0M101.6 51.2h0M85.1 51.5h0M85.3 50.9h0M85.9 51.1h0M98 52.6h0M100.1 51.4h0M106.7 50.7h0M107.9 51.1h0M85 50.8h0M81.6 50.8h0M106.8 51h0M107.1 51.3h0M104.4 50.8h0M98.8 50.1h0M92.2 50h0M94.7 50.6h0M95 48.4h0M106 51.2h0M84.8 50.2h0M98.2 50.1h0M103.1 51h0M88.5 50.7h0M81.5 50.5h0M99.7 50.9h0M91.6 48.8h0M105.7 51.1h0M96.4 49.8h0M90 50.1h0M94.4 48.2h0M97 48.9h0M82.8 50.4h0M106.9 50.8h0M85.5 48.9h0M93.4 50.8h0M81.8 50.3h0M101.3 50.6h0M93.5 48.3h0M102.1 51h0M94.4 48.6h0M90.4 49.2h0M82.2 50.8h0M95.9 50.5h0M91 48.2h0M95.5 48.3h0M83 48.8h0M83.7 50.7h0M92.8 50.7h0M80.8 50.3h0M88.7 61h0M94.3 58.1h0M82.5 58.2h0M84.8 58.7h0M77.6 59.4h0M88.4 59h0M80 58.4h0M80 61.3h0M85.1 61.3h0M82.1 61.2h0M87.7 57.8h0M92.5 58.1h0M89.5 59.2h0M76.2 60.4h0M82.8 58.1h0M88.4 58.2h0"/>
<path stroke="#ff7f0e" d="M57.2 7.6h0M41.3 13.1h0M55 14.1h0M51.3 18.3h0M68.4 24.1h0M42.9 28.7h0M63.8 28.5h0M68.4 29.9h0M73.4 30.2h0M77.1 29.1h0M81.2 55.2h0M94 53.6h0M87 54.9h0M83.4 54.7h0M100.8 53.4h0M85.5 55.4h0M77.7 54.3h0M82.9 54.9h0M98.1 54.4h0M92.8 54.5h0M98.1 53h0M96 53.7h0M99.9 55.3h0M100.1 55.6h0M92.8 53.9h0M95.2 53h0M100.5 53.5h0M94.7 53.7h0M92.2 55h0M93.2 53.3h0M88.7 54.9h0M87.2 54.1h0M99.4 53.6h0M92.8 54.2h0M101.2 52.9h0M95.4 54.6h0M79 55h0M76.5 55.6h0M84.2 54.3h0M101.9 54.1h0M100.8 52.9h0M92 54.6h0M82.6 54.3h0M94.7 53.2h0M98.1 53.1h0M96.7 53.4h0M96.5 54.9h0M96.2 53.6h0M97.6 54.6h0M94.1 54.5h0M82.5 55.6h0M89.7 54.3h0M101.5 53.3h0M74.4 54.6h0M95.9 52.8h0M75 54.8h0M98.7 52.7h0M102.3 55.3h0M86.6 54.2h0M76.3 54.7h0M99.2 55.7h0M74.4 55.3h0M102.5 54.1h0M97.7 52.8h0M83.9 56h0M96.7 53.4h0M95.6 52.9h0M101.3 53.6h0M97.3 52.9h0M94.8 52.9h0M102.2 53.2h0M74.8 54.7h0M82 55.7h0M100.3 53.7h0M101.2 52.9h0M83.9 55.2h0M100.5 54.9h0M96.1 54.6h0M90.6 53.9h0M98.4 53.1h0M86.2 55.8h0M89.3 54h0M91.7 54.1h0M93.9 55.2h0M90.5 55.1h0M105.4 53.8h0M116.5 54.1h0M118.9 54.1h0M112 55.2h0M113.5 54.1h0M103.1 53.9h0M119.6 54.7h0M104.4 54h0M110.4 54.4h0M104.7 53.5h0M107.4 54h0M103.3 53.2h0M112 54.4h0M115.2 54.8h0M109.6 54.6h0M102.8 54.1h0M116.8 54h0M110.6 53.7h0M105.6 53.7h0M111 53.7h0M110.4 54h0M117.6 54h0M107.2 54.7h0M105.1 53.6h0M105.6 56.6h0M114.1 54.7h0M79.6 55.8h0M88.6 56.3h0M102 56.8h0M85.1 56.7h0M104.6 55.9h0M93 55.8h0M99.4 55.3h0M98.1 56.5h0M86.5 55.7h0M81.4 57.4h0M101.6 56.6h0M90 55.8h0M107 55.8h0M92.4 56.5h0M106.1 55.2h0M97.9 56.2h0M114.9 54.9h0M110.2 54.8h0M114.8 54.9h0M101.2 55.2h0M106.1 56.1h0M111.2 55.7h0M103.2 56.3h0M97.3 55.8h0M103.9 56.6h0M113.9 54.7h0M110.3 55.1h0M90.6 55.4h0M94.2 55.7h0M83.4 56.2h0M80.4 57h0M103.2 56h0M96.1 55.6h0M79.1 56h0M107.2 56.6h0M113.2 56h0M97.9 56h0M107.4 56.3h0M83.1 56.2h0"/>
<path stroke="#2ca02c" d="M76.3 33.4h0M60.4 35.8h0M38.9 82.5h0M59.2 79.9h0M68.4 78.9h0M66.8 80.9h0M67.4 82.9h0M66.4 85.2h0M79.7 35.8h0M81.3 37.8h0M86.7 37.4h0M95.6 40.8h0M45.9 36.4h0M54.9 36.4h0M62.8 37.4h0M50.5 39.8h0M40.5 41.2h0M66.4 41.4h0M53.5 37.8h0"/>
<path stroke="#d62728" d="M169.1 53h0M177.6 52.9h0M127.7 53.1h0M130.3 52.8h0M122.7 53.4h0M129.5 53.3h0M129.4 53.8h0M121.6 54.5h0M129.3 53.1h0M129.6 53.2h0M131.4 53.5h0M130.3 52.8h0M119.5 53.7h0M120.1 53h0M123.3 53.4h0M129.4 53.7h0M132.2 52.8h0M125.8 52.6h0M131.4 52.8h0M122.3 52.9h0M130.7 53.4h0M124.3 52h0M131.4 52.7h0M125.1 53.7h0M126.6 53.7h0M124.8 53.5h0M127 53h0M123.7 52.6h0M128 53.2h0M129.5 53.4h0M131.8 52.4h0M133.7 53.4h0M126.5 53.5h0M134.2 53.3h0M127 52.5h0M125.7 53.2h0M125.3 54.1h0M124.3 53.6h0M133.3 52.8h0M133.9 53h0M133.9 52.7h0M128.5 52.9h0M124.8 53.3h0M123.8 53.3h0M125.2 52.7h0M133.9 52.8h0M124.2 52.9h0M122.8 53.6h0M130.6 53.2h0M129.6 52.5h0M128.9 53.6h0M159.1 53.5h0M153.1 53.4h0M161.6 53.1h0M159.4 53h0M147 53.1h0M138.7 53.7h0M142.8 52.9h0M134.6 52.9h0M154.7 53.3h0M137.2 53.3h0M140.1 52.7h0M142.1 53h0M147.1 53.3h0M155.8 52.8h0M148.3 53.2h0M150.1 53.1h0M137.4 53.3h0M145 53.1h0M140.9 53h0M157.4 52.9h0M135.1 53h0M153.6 52.8h0M156.1 53.3h0M150.1 53.3h0M135.9 53.6h0M142.3 53.1h0M141.9 53h0M142.8 53.6h0M142.7 53h0M164.6 53.2h0M159 53h0M162.1 52.9h0M156.6 53.2h0M145.3 53.2h0M163.6 53.3h0M149.5 53.1h0M140.3 52.8h0M157.1 53.6h0M142.6 53.3h0M160 53.3h0M157.4 53.3h0M143.5 53.1h0M148.7 53.8h0M156.6 53h0M155.2 53.2h0M150.8 53.2h0M141.2 52.8h0M144.6 53.2h0M156 53.4h0M148.7 53.2h0M156.7 52.6h0M155.7 53h0M145.5 53.2h0M137.6 53.3h0M155.6 53.1h0M145.5 52.6h0M152 53.6h0M138.4 53.7h0M139.1 53.3h0M147.6 53.5h0M155.2 53.4h0M138.2 53.1h0M158.5 53.1h0M160.8 53.1h0M155.3 52.9h0M157.7 52.8h0M141.9 52.9h0M137.6 53h0M144.7 53.6h0M138.4 53.4h0"/>
<path stroke="#9467bd" d="M60.8 77.3h0M67.4 77.3h0M73.8 74.9h0M47.5 42.8h0M47.2 43.2h0M52.7 43.7h0M48.7 46.2h0M62.1 47.7h0M92.5 44.5h0M73.3 42.5h0M76.2 46.6h0M87.5 48.1h0M77 48.2h0M69.7 45.1h0M72.7 46.1h0M55.6 47.7h0M58.8 46.5h0M82.7 45.7h0M84.5 48h0M70.4 46.6h0M85.8 46.6h0M85.1 47.5h0M69.3 46.6h0M64.9 47.1h0M70.9 45.6h0M72.5 46.1h0M66.9 48.2h0M84 47h0M78.1 47.1h0M84.6 46.8h0M75.6 47.1h0M72.5 47.6h0M92.8 47.4h0M62.8 47.3h0M72.9 48.1h0M85.4 46.6h0M69.6 45.9h0M66.1 47.7h0M71.4 47.8h0M74.8 45.6h0M69.1 45.3h0M92.1 47.7h0M39.7 55.6h0M54.7 55.2h0M69.1 54.8h0M72.6 55h0M63.4 55.1h0M53.8 55h0M51.3 54.8h0M54.2 55.6h0M62 54.9h0M70.4 54.9h0M71.6 54.9h0M68 55.1h0M63.8 55.5h0M56.1 54.9h0M72.2 55h0M68.8 56h0M70.9 55.4h0M67 55.5h0M63.2 55.1h0M72.1 54.8h0M64.4 55h0M50.3 55h0M49.7 55.6h0M51.9 56h0M57.1 57.7h0M62.9 56.7h0M56.4 57.9h0M77.2 57.3h0M59.7 58.1h0M53.8 56h0M51.9 57h0M48.2 54.9h0M76.7 56.6h0M49.7 55.5h0M70.3 55.4h0M71.4 56.6h0M55.9 57.7h0M70.1 58.1h0M69.5 56h0M58.4 56.1h0M73.3 56h0M62.8 57.6h0M78 57h0M68.7 55.4h0M57 56.1h0M54.9 55.8h0M48.8 54.9h0M71.8 56.4h0"/>
<path stroke="#8c564b" d="M33.7 53.1h0M35.5 53h0M40.8 52.7h0M42.3 53.3h0M38.3 52.9h0M40.4 53.2h0M44.1 53.7h0M44.1 53.2h0M36.7 53.3h0M37.5 52.6h0M36 53h0M39.7 53.7h0M35.8 53h0M39.9 53.2h0M41.7 53.2h0M38.2 53.4h0M42 53.5h0M41.2 53.1h0M35.7 52.8h0M40.9 53h0M38 53.1h0M39.5 53.1h0M38.2 53.3h0M42.1 52.7h0M39.7 53h0M37 52.8h0M40.7 53.1h0M43 53.2h0M38.4 53.5h0M37.6 52.5h0M39.2 53.3h0M44.5 52h0M44.9 53.7h0M41.9 53.4h0M44.2 53.1h0M43.6 52.7h0M39.1 53.3h0M46.5 52.4h0M75.3 54.2h0M63.2 52.4h0M65.9 53.8h0M69.8 53.4h0M57.5 54.6h0M77 52.9h0M58.3 53.7h0M58 52.1h0M68.9 53.3h0M53.5 53.1h0M53.3 53.5h0M46.2 53.8h0M70.7 53h0M63.2 52.6h0M83.5 53.8h0M63.9 52.2h0M61.8 52.1h0M76.2 51.7h0M61 54.7h0M68.3 52.2h0M44.6 52.9h0M55.1 53.4h0M83.5 52.8h0M81 53h0M70.2 52.1h0M45 52.7h0M45.3 53.7h0M50.2 53.1h0M47 53.5h0M48.8 52.4h0M75 53.1h0M52.4 54.1h0M74.2 52.1h0M92.7 52.6h0M85.7 52.7h0M86.8 52.8h0M81.6 53h0M80 52h0M53 52.1h0M85.7 53h0M89.3 51.9h0M46.4 53.8h0M71 52.6h0M54.3 53h0M51.8 53.3h0M45.4 52.5h0M80.4 53.7h0M49.7 53.9h0M43.9 53.6h0M86 54h0M81 52.9h0M70.4 52.8h0M57.8 53h0M81.1 52.9h0M45.2 53.3h0M44.4 53.2h0M45.9 53.1h0M74.2 51.8h0M92.6 52.8h0M56.9 51.8h0M83.6 53h0M44.8 52.7h0M58.8 54.7h0M86.6 52h0M50.6 54.3h0M83.8 52h0M85.7 52.6h0M63 53.3h0M85.7 52.4h0M49.4 53.8h0M50.3 53.5h0M63.5 53.1h0M53.5 54.1h0M55.7 52.9h0M92 52.8h0M58.6 53.6h0M92.3 53.2h0M46.5 52.3h0M60.3 53.9h0M58.1 53.1h0M67.4 52.6h0M74.2 53.4h0M46.7 52.7h0M73.9 53.1h0M55.1 51.8h0M84.1 52.1h0M43.6 53.4h0M44.3 53.4h0M86.7 53.1h0M59.7 52.7h0M72.8 53.5h0M50.5 54.4h0M71.9 51.8h0M92 52.9h0M45.4 53h0M44.7 53.1h0M68.4 52h0M45.1 53h0M45.6 52.8h0M74.1 53h0M45.5 53.1h0M76.9 53.8h0M79.2 52.8h0M63.9 51.9h0M50.5 54.1h0M57.8 53.7h0M90.2 53.7h0M50.3 54.2h0M54.6 52h0M55.8 52h0M70.4 53.7h0M40.9 52.8h0M42.7 53.2h0M69.3 52.4h0M50.9 52.2h0M82.8 52.9h0M89.9 53.7h0M83.7 53.8h0M43.7 53h0M77.7 53.9h0M49.1 53.5h0M54.9 52.8h0M91.2 53h0M57.2 52.7h0M66.2 54.1h0M57.9 52.3h0M49.8 54.1h0M75.9 52h0M78.6 53.8h0M43.4 52.9h0M66.6 52.6h0M41.1 53.3h0M84.4 51.7h0M44.6 53.7h0M59 52h0M86.3 53.9h0M79.9 54.1h0M93.8 52.5h0M51.5 52.5h0M43.4 53h0M94.4 52.6h0M68.4 54h0M82.3 53.4h0M69.3 52h0M89 52.7h0M47.8 53.7h0M54.4 52.1h0M56.4 52.5h0M44.3 53.2h0M85 53.6h0M66.4 53.9h0M86.3 52.7h0M70.3 52.9h0M71.7 53.8h0M66.6 53.6h0M58.8 52.5h0M82.1 53.6h0M89.6 53.2h0M56.3 53.9h0M75.9 52h0M47.9 53.4h0M51.5 53.3h0M73.8 52.3h0M48.6 54.5h0M45.3 54h0M78.4 52h0M71.2 51.9h0M46 53.3h0M79.8 53.4h0M76.5 53.9h0M81 52.4h0M75.3 53.2h0M73.9 53.4h0M83.5 51.7h0M46.4 52.8h0M47.1 54.4h0M49.3 52.7h0M41 53.1h0M53.8 52.1h0M54.2 52.8h0M72.7 54.1h0M76.1 52.8h0M65.2 52.2h0M79.4 52.7h0M57.5 53h0M88.4 53.2h0M49.8 52h0M43.9 53.7h0M43.3 53.5h0M87 53.5h0M76.3 53.7h0M86 53.6h0M74.9 53.5h0M62.2 52.2h0M44 52.6h0M75 53.9h0M66.7 52h0M49.4 53.5h0M43.4 52.3h0M48.3 53.5h0M52.7 52h0M85.7 51.7h0M73.9 52.4h0M69.5 52.8h0M41.2 53.6h0M65.1 51.9h0M91.5 52.1h0M76.2 51.8h0M53 52.2h0M79.1 52.5h0M53.4 53.5h0M61.1 53.4h0M65.2 52.3h0M42.2 53.5h0M81.6 52.7h0M51.3 52.1h0M78.1 51.9h0M79.1 52h0M58.9 52.9h0M58.9 54.1h0M87.5 52.4h0M50.2 52.4h0M41.6 52.9h0M64.4 53.3h0M67.8 52.9h0M66.3 51.8h0M46 53.5h0M63.3 52.5h0M58.4 51.9h0M73.9 52.5h0M53.8 51.9h0M71.4 53.7h0M73.4 51.9h0M82.4 53.2h0M86.9 52h0M67 53.1h0M69 52.5h0M86.4 52.7h0M59.7 54.5h0M79.3 52.9h0M83.1 52.1h0M61.9 52.3h0M69 53.2h0M45.9 52.9h0M58.8 54.2h0M49.8 53.1h0M50.5 54h0M42.6 52.4h0M86.6 53.3h0M62.7 54.4h0M44.6 52.2h0M51.8 52.4h0M83.8 53.8h0M78.2 52.8h0M93.5 53h0M63 53.4h0M79.1 53.8h0M68.5 52.7h0M65 52h0M49.6 52.2h0M41.7 53.5h0M67.3 53.2h0M86.8 53.3h0M47.5 52.7h0M45.2 53.3h0M65 53.3h0M47.4 52h0M51.6 52.8h0M51.5 54.4h0M89.3 53.5h0M46.2 52.2h0M45.6 51.8h0M46.9 54.5h0M47.3 54h0M42.7 59.6h0M53.1 60.4h0M57.3 61.6h0M42.5 60h0M56.8 62h0M66.4 61h0M59.7 60h0M61.4 60.8h0M74.1 58.7h0M61.6 59.6h0M59.8 60.7h0M64.2 60h0M70.4 60.5h0M70 59.4h0M73.7 59.5h0M70 59.9h0"/>
<path stroke="#e377c2" d="M76.3 67.9h0M78.3 69.3h0M79 67.5h0M74 69.3h0M72.6 67.6h0M41.2 49.9h0M45.7 48.7h0M58.9 51.6h0M55.8 51.4h0M53.1 51.2h0M57.1 50.9h0M70.5 50.6h0M75 50.3h0M52.7 51.3h0M74.4 51.1h0M70.8 51.6h0M69 51.3h0M66.4 51.5h0M67.7 51.6h0M61.9 51.2h0M60.2 50.1h0M66.7 51.6h0M70.6 51.5h0M52.2 51.3h0M67.8 51.4h0M65 50.2h0M70.6 51.1h0M69.6 50.9h0M62.2 50.4h0M72.1 50.5h0M67.5 51.4h0M74 51.5h0M59.5 51.7h0M62.1 51.3h0M64.8 51.5h0M58.9 50.1h0M70.5 51.2h0M71.1 51.3h0M73.4 50.7h0M72.1 51.2h0M79.4 51.2h0M75.3 50.8h0M71.6 51.5h0M71.1 50.1h0M46.7 51.6h0M49.8 50.4h0M58.6 50.8h0M70.3 50.3h0M71.5 50.6h0M49.6 51.6h0M65.1 50.3h0M60.3 48.9h0M50.2 50.1h0M61.7 50.5h0M78.3 50.7h0M60.5 48.6h0M61.8 50.7h0M80.5 50.8h0M54.2 49.4h0M63.6 50.6h0M57.9 48.4h0M75.3 50h0M51.5 50.9h0M61.2 49.4h0M57.8 49.3h0M62.8 49h0M50.5 51h0M62.4 48.5h0M55.7 50.8h0M49.4 51.5h0M78.1 48.8h0M46.5 51.7h0M57.3 50.6h0M71.9 49h0M59.7 48.5h0M57.2 49.5h0M62.5 50.2h0M79.1 49.4h0M75.7 49.8h0M63.2 50.2h0M73.9 50.1h0M62.8 49.6h0M49.8 50h0M48.8 51.3h0M71.6 50.5h0M61.3 49h0M57.6 50h0M51.4 51.1h0M51.3 51.1h0M62.6 50h0M69 50.8h0M50.4 50.7h0M51.6 49.4h0M69.9 50.8h0M77.2 49.3h0M70.6 50.8h0M67.3 49.3h0M59 50.3h0M60.4 50.8h0M77.2 49.7h0M64.2 49.8h0M51.3 50h0M50.4 49.8h0M63.5 49.3h0M71.1 49.5h0M70 48.7h0M70 48.7h0M55.5 50.6h0M79.8 49.6h0M70 48.8h0M71.1 49.7h0M55.2 50.7h0M50.9 51.2h0M60.9 50.8h0M54.5 49.6h0M74.6 48.5h0M74 49.5h0M57.6 50.2h0M63.8 50.8h0M69.8 49.2h0M67.8 50.7h0M80.7 50.8h0M57.4 50.7h0M43.9 68.9h0M77.1 71.3h0M75.7 72.5h0M79.7 70.9h0M84.3 68.9h0M81.7 70.5h0M76 70h0M80.5 69h0M78.6 72.8h0"/>
<path stroke="#7f7f7f" d="M108.4 49.6h0M102.8 49.6h0M110.5 50.7h0M114.6 50.4h0M113.9 50.1h0M110.7 50.7h0"/>
<path stroke="#bcbd22" d="M61.4 101.2h0M56.4 65.3h0M73.4 65h0M74.5 66.5h0M77.5 66h0M82.8 67.2h0M99.6 63.4h0M84.7 63h0M100 63.6h0M79 63.4h0"/>
<path stroke="#17becf" d="M100.9 52.7h0M118.3 53.8h0M114.7 53.4h0M109.4 53.5h0M120.7 52.4h0M112.9 52.5h0M113.7 52.7h0M112.9 53.3h0M108.2 52.3h0M110.2 53.6h0M116.2 52.5h0M118.2 53.5h0M116.1 53.1h0M105.1 52.7h0M106 52.7h0M120.1 52.4h0M113.5 52.7h0M103.2 52h0M107.6 53h0M119.5 52.9h0M108.2 51.6h0M107.7 53.2h0M106.4 53.1h0M111.9 51.6h0M120.3 52.5h0M118.3 51.9h0M117.7 52.4h0M111.4 53.2h0M111.7 52.7h0M116.5 52.7h0M118.2 52.8h0M107.2 53.2h0M106.7 53.1h0M114.6 53.6h0M117.4 53.2h0M120.6 51.7h0M113.4 51.2h0M108.3 51.3h0M109.3 51.2h0M110.7 51.4h0M115 51.6h0M112.8 51.3h0M110.7 51h0M112.8 51.5h0M111.3 51.3h0M109.4 51.3h0"/>
</g>
<path d="M49.5 10.4h3.3v3.3h-3.3zM64.3 25.5h3.3v3.3h-3.3zM63.8 34.6h3.3v3.3h-3.3zM67.1 40.9h3.3v3.3h-3.3zM74.1 44.9h3.3v3.3h-3.3zM36.4 50.9h3.3v3.3h-3.3zM53.9 50.5h3.3v3.3h-3.3zM57.1 48.5h3.3v3.3h-3.3zM62.1 53.5h3.3v3.3h-3.3zM61.8 57.1h3.3v3.3h-3.3zM80.2 50.8h3.3v3.3h-3.3zM85.2 49h3.3v3.3h-3.3zM85.2 51.6h3.3v3.3h-3.3zM95.2 50.5h3.3v3.3h-3.3zM94.4 54.2h3.3v3.3h-3.3zM87.4 58.2h3.3v3.3h-3.3zM78 62.4h3.3v3.3h-3.3zM74.1 67.8h3.3v3.3h-3.3zM67.1 74.3h3.3v3.3h-3.3zM62 79.3h3.3v3.3h-3.3zM60 98.8h3.3v3.3h-3.3zM110.1 49h3.3v3.3h-3.3zM107.4 52h3.3v3.3h-3.3zM125 50.5h3.3v3.3h-3.3zM156.9 50.8h3.3v3.3h-3.3z" fill="#000"/>
<rect x="26.85" y="3.25" width="157.7" height="102.2" fill="none" stroke="#000" stroke-width="0.48"/>
<path d="M38.7 105.5v1.6M60 105.5v1.6M81.3 105.5v1.6M102.6 105.5v1.6M123.9 105.5v1.6M145.2 105.5v1.6M166.5 105.5v1.6M26.85 10.3h-1.6M26.85 24.6h-1.6M26.85 38.8h-1.6M26.85 53.1h-1.6M26.85 67.4h-1.6M26.85 81.6h-1.6M26.85 95.9h-1.6" stroke="#000" stroke-width="0.45" fill="none"/>
<g class="t">
<text transform="translate(38.7,112.7) scale(.05)" text-anchor="middle">0</text><text transform="translate(60,112.7) scale(.05)" text-anchor="middle">10</text><text transform="translate(81.3,112.7) scale(.05)" text-anchor="middle">20</text><text transform="translate(102.6,112.7) scale(.05)" text-anchor="middle">30</text><text transform="translate(123.9,112.7) scale(.05)" text-anchor="middle">40</text><text transform="translate(145.2,112.7) scale(.05)" text-anchor="middle">50</text><text transform="translate(166.5,112.7) scale(.05)" text-anchor="middle">60</text>
<text transform="translate(23.9,12) scale(.05)" text-anchor="end">0.15</text><text transform="translate(23.9,26.3) scale(.05)" text-anchor="end">0.10</text><text transform="translate(23.9,40.6) scale(.05)" text-anchor="end">0.05</text><text transform="translate(23.9,54.9) scale(.05)" text-anchor="end">0.00</text><text transform="translate(23.9,69.1) scale(.05)" text-anchor="end">−0.05</text><text transform="translate(23.9,83.4) scale(.05)" text-anchor="end">−0.10</text><text transform="translate(23.9,97.7) scale(.05)" text-anchor="end">−0.15</text>
<text transform="translate(105.7,119) scale(.05)" text-anchor="middle">speed in km/h</text>
<text transform="translate(6.6,54.8) rotate(-90) scale(.05)" text-anchor="middle">curvature in 1/m</text>
</g>
<text class="cap" x="103" y="133.6" text-anchor="middle">(e)</text>
</g>
<g transform="translate(214.5,274.7)">
<path d="M38.7 3.25V105.5M60 3.25V105.5M81.3 3.25V105.5M102.6 3.25V105.5M123.9 3.25V105.5M145.2 3.25V105.5M166.5 3.25V105.5M26.85 10.3H184.5M26.85 24.6H184.5M26.85 38.8H184.5M26.85 53.1H184.5M26.85 67.4H184.5M26.85 81.6H184.5M26.85 95.9H184.5" stroke="#b0b0b0" stroke-width="0.55" fill="none"/>
<g fill="none" stroke-width="3.5" stroke-linecap="round">
<path stroke="#1f77b4" d="M33.7 53.1h0M35.5 53h0M40.8 52.7h0M42.3 53.3h0M38.3 52.9h0M40.4 53.2h0M44.1 53.7h0M44.1 53.2h0M36.7 53.3h0M37.5 52.6h0M36 53h0M39.7 53.7h0M35.8 53h0M39.9 53.2h0M41.7 53.2h0M38.2 53.4h0M42 53.5h0M41.2 53.1h0M35.7 52.8h0M40.9 53h0M38 53.1h0M39.5 53.1h0M38.2 53.3h0M42.1 52.7h0M39.7 53h0M37 52.8h0M40.7 53.1h0M43 53.2h0M38.4 53.5h0M37.6 52.5h0M39.2 53.3h0M44.9 53.7h0M41.9 53.4h0M44.2 53.1h0M43.6 52.7h0M39.1 53.3h0M46.5 52.4h0M53.5 53.1h0M53.3 53.5h0M46.2 53.8h0M44.6 52.9h0M55.1 53.4h0M45 52.7h0M45.3 53.7h0M50.2 53.1h0M47 53.5h0M48.8 52.4h0M46.4 53.8h0M54.3 53h0M51.8 53.3h0M45.4 52.5h0M49.7 53.9h0M43.9 53.6h0M45.2 53.3h0M44.4 53.2h0M45.9 53.1h0M44.8 52.7h0M49.4 53.8h0M50.3 53.5h0M55.7 52.9h0M46.5 52.3h0M46.7 52.7h0M43.6 53.4h0M44.3 53.4h0M45.4 53h0M44.7 53.1h0M45.1 53h0M45.6 52.8h0M45.5 53.1h0M40.9 52.8h0M42.7 53.2h0M43.7 53h0M49.1 53.5h0M54.9 52.8h0M43.4 52.9h0M41.1 53.3h0M44.6 53.7h0M51.5 52.5h0M43.4 53h0M47.8 53.7h0M44.3 53.2h0M47.9 53.4h0M51.5 53.3h0M46 53.3h0M46.4 52.8h0M49.3 52.7h0M41 53.1h0M54.2 52.8h0M43.9 53.7h0M43.3 53.5h0M44 52.6h0M49.4 53.5h0M43.4 52.3h0M48.3 53.5h0M41.2 53.6h0M53.4 53.5h0M42.2 53.5h0M50.2 52.4h0M41.6 52.9h0M46 53.5h0M45.9 52.9h0M49.8 53.1h0M42.6 52.4h0M44.6 52.2h0M51.8 52.4h0M49.6 52.2h0M41.7 53.5h0M47.5 52.7h0M45.2 53.3h0M51.6 52.8h0M46.2 52.2h0M92.5 44.5h0M76.2 46.6h0M69.7 45.1h0M72.7 46.1h0M58.8 46.5h0M82.7 45.7h0M70.4 46.6h0M85.8 46.6h0M69.3 46.6h0M70.9 45.6h0M72.5 46.1h0M84 47h0M78.1 47.1h0M84.6 46.8h0M75.6 47.1h0M72.5 47.6h0M72.9 48.1h0M85.4 46.6h0M69.6 45.9h0M71.4 47.8h0M74.8 45.6h0M69.1 45.3h0"/>
<path stroke="#ff7f0e" d="M78.3 69.3h0M76 70h0M80.5 69h0M74 69.3h0M45.7 48.7h0M48.7 46.2h0M62.1 47.7h0M60.3 48.9h0M60.5 48.6h0M54.2 49.4h0M55.6 47.7h0M57.9 48.4h0M61.2 49.4h0M57.8 49.3h0M62.8 49h0M62.4 48.5h0M71.9 49h0M59.7 48.5h0M64.9 47.1h0M57.2 49.5h0M62.8 49.6h0M61.3 49h0M66.9 48.2h0M51.6 49.4h0M67.3 49.3h0M62.8 47.3h0M63.5 49.3h0M70 48.7h0M70 48.7h0M70 48.8h0M54.5 49.6h0M66.1 47.7h0M69.8 49.2h0M169.1 53h0M177.6 52.9h0M159.1 53.5h0M153.1 53.4h0M161.6 53.1h0M159.4 53h0M154.7 53.3h0M147.1 53.3h0M155.8 52.8h0M148.3 53.2h0M150.1 53.1h0M157.4 52.9h0M153.6 52.8h0M156.1 53.3h0M150.1 53.3h0M164.6 53.2h0M159 53h0M162.1 52.9h0M156.6 53.2h0M163.6 53.3h0M149.5 53.1h0M157.1 53.6h0M160 53.3h0M157.4 53.3h0M148.7 53.8h0M156.6 53h0M155.2 53.2h0M150.8 53.2h0M156 53.4h0M148.7 53.2h0M156.7 52.6h0M155.7 53h0M155.6 53.1h0M152 53.6h0M147.6 53.5h0M155.2 53.4h0M158.5 53.1h0M160.8 53.1h0M155.3 52.9h0M157.7 52.8h0M43.9 68.9h0M77.1 71.3h0M75.7 72.5h0M79.7 70.9h0M84.3 68.9h0M81.7 70.5h0M78.6 72.8h0"/>
<path stroke="#2ca02c" d="M41.3 13.1h0M55 14.1h0M51.3 18.3h0M57.2 7.6h0"/>
<path stroke="#d62728" d="M69.8 53.4h0M77 52.9h0M68.9 53.3h0M70.7 53h0M75 53.1h0M74.2 52.1h0M80 52h0M71 52.6h0M70.4 52.8h0M83.8 52h0M74.2 53.4h0M73.9 53.1h0M84.1 52.1h0M72.8 53.5h0M74.1 53h0M79.2 52.8h0M75.9 52h0M70.3 52.9h0M75.9 52h0M73.8 52.3h0M78.4 52h0M81 52.4h0M75.3 53.2h0M73.9 53.4h0M76.1 52.8h0M79.4 52.7h0M76.3 53.7h0M74.9 53.5h0M73.9 52.4h0M69.5 52.8h0M79.1 52.5h0M81.6 52.7h0M78.1 51.9h0M79.1 52h0M73.9 52.5h0M79.3 52.9h0M83.1 52.1h0M69 53.2h0M78.2 52.8h0"/>
<path stroke="#9467bd" d="M95.6 40.8h0M50.5 39.8h0M40.5 41.2h0M66.4 41.4h0M47.5 42.8h0M47.2 43.2h0M52.7 43.7h0M73.3 42.5h0M39.7 55.6h0M81.2 55.2h0M75.3 54.2h0M54.7 55.2h0M65.9 53.8h0M57.5 54.6h0M69.1 54.8h0M58.3 53.7h0M72.6 55h0M87 54.9h0M83.4 54.7h0M61 54.7h0M85.5 55.4h0M77.7 54.3h0M52.4 54.1h0M82.9 54.9h0M63.4 55.1h0M53.8 55h0M51.3 54.8h0M58.8 54.7h0M50.6 54.3h0M63 53.3h0M53.5 54.1h0M58.6 53.6h0M54.2 55.6h0M92.2 55h0M60.3 53.9h0M88.7 54.9h0M62 54.9h0M50.5 54.4h0M70.4 54.9h0M71.6 54.9h0M76.9 53.8h0M79 55h0M50.5 54.1h0M57.8 53.7h0M50.3 54.2h0M70.4 53.7h0M76.5 55.6h0M68 55.1h0M63.8 55.5h0M77.7 53.9h0M66.2 54.1h0M49.8 54.1h0M84.2 54.3h0M56.1 54.9h0M79.9 54.1h0M82.6 54.3h0M68.4 54h0M72.2 55h0M66.4 53.9h0M71.7 53.8h0M66.6 53.6h0M56.3 53.9h0M48.6 54.5h0M45.3 54h0M82.5 55.6h0M76.5 53.9h0M74.4 54.6h0M68.8 56h0M47.1 54.4h0M72.7 54.1h0M70.9 55.4h0M75 54.8h0M86.6 54.2h0M76.3 54.7h0M75 53.9h0M74.4 55.3h0M67 55.5h0M61.1 53.4h0M58.9 54.1h0M64.4 53.3h0M71.4 53.7h0M63.2 55.1h0M74.8 54.7h0M59.7 54.5h0M58.8 54.2h0M82 55.7h0M50.5 54h0M62.7 54.4h0M72.1 54.8h0M63 53.4h0M83.9 55.2h0M86.2 55.8h0M64.4 55h0M65 53.3h0M51.5 54.4h0M90.5 55.1h0M46.9 54.5h0M50.3 55h0M49.7 55.6h0M51.9 56h0M79.6 55.8h0M62.9 56.7h0M53.8 56h0M86.5 55.7h0M51.9 57h0M48.2 54.9h0M76.7 56.6h0M49.7 55.5h0M70.3 55.4h0M71.4 56.6h0M69.5 56h0M58.4 56.1h0M73.3 56h0M90.6 55.4h0M68.7 55.4h0M79.1 56h0M47.3 54h0M57 56.1h0M54.9 55.8h0M48.8 54.9h0M71.8 56.4h0"/>
<path stroke="#8c564b" d="M87.5 48.1h0M77 48.2h0M95 48.4h0M84.5 48h0M91.6 48.8h0M96.4 49.8h0M85.1 47.5h0M78.1 48.8h0M94.4 48.2h0M97 48.9h0M79.1 49.4h0M85.5 48.9h0M75.7 49.8h0M93.5 48.3h0M94.4 48.6h0M90.4 49.2h0M77.2 49.3h0M91 48.2h0M95.5 48.3h0M92.8 47.4h0M83 48.8h0M77.2 49.7h0M79.8 49.6h0M74.6 48.5h0M74 49.5h0M92.1 47.7h0M94 53.6h0M83.5 53.8h0M100.8 53.4h0M83.5 52.8h0M81 53h0M98.1 54.4h0M92.7 52.6h0M85.7 52.7h0M92.8 54.5h0M86.8 52.8h0M81.6 53h0M97.3 52.2h0M85.7 53h0M100.9 52.7h0M98.1 53h0M96 53.7h0M80.4 53.7h0M86 54h0M81 52.9h0M81.1 52.9h0M92.6 52.8h0M83.6 53h0M92.8 53.9h0M85.7 52.6h0M85.7 52.4h0M95 52.2h0M95.2 53h0M100.8 52.1h0M92 52.8h0M100.5 53.5h0M92.3 53.2h0M94.7 53.7h0M93.2 53.3h0M87.2 54.1h0M99.4 53.6h0M92.8 54.2h0M86.7 53.1h0M92 52.9h0M95.4 54.6h0M90.2 53.7h0M82.8 52.9h0M89.9 53.7h0M83.7 53.8h0M91.2 53h0M78.6 53.8h0M100.8 52.9h0M86.3 53.9h0M93.8 52.5h0M92 54.6h0M94.4 52.6h0M82.3 53.4h0M89 52.7h0M94.7 53.2h0M98.1 53.1h0M96.7 53.4h0M85 53.6h0M86.3 52.7h0M96.5 54.9h0M82.1 53.6h0M89.6 53.2h0M96.2 53.6h0M97.6 54.6h0M94.1 54.5h0M89.7 54.3h0M79.8 53.4h0M95.9 52.8h0M98.7 52.7h0M88.4 53.2h0M87 53.5h0M86 53.6h0M98.9 52.5h0M91.5 52.1h0M97.7 52.8h0M87.5 52.4h0M96.7 53.4h0M95.6 52.9h0M97.3 52.9h0M82.4 53.2h0M94.8 52.9h0M86.4 52.7h0M98 52.6h0M86.6 53.3h0M83.8 53.8h0M93.5 53h0M100.3 53.7h0M79.1 53.8h0M100.5 54.9h0M96.1 54.6h0M90.6 53.9h0M98.4 53.1h0M86.8 53.3h0M89.3 54h0M91.7 54.1h0M89.3 53.5h0M101.2 52.9h0M101.9 54.1h0M101.5 53.3h0M102.5 54.1h0M101.3 53.6h0M102.2 53.2h0M101.2 52.9h0M105.4 53.8h0M116.5 54.1h0M118.3 53.8h0M114.7 53.4h0M122.7 53.4h0M109.4 53.5h0M129.4 53.8h0M120.7 52.4h0M112.9 52.5h0M113.7 52.7h0M121.6 54.5h0M118.9 54.1h0M113.5 54.1h0M112.9 53.3h0M108.2 52.3h0M110.2 53.6h0M103.1 53.9h0M116.2 52.5h0M118.2 53.5h0M116.1 53.1h0M119.5 53.7h0M120.1 53h0M123.3 53.4h0M105.1 52.7h0M129.4 53.7h0M106 52.7h0M119.6 54.7h0M120.1 52.4h0M113.5 52.7h0M122.3 52.9h0M104.4 54h0M103.2 52h0M107.6 53h0M119.5 52.9h0M125.1 53.7h0M108.2 51.6h0M110.4 54.4h0M104.7 53.5h0M107.7 53.2h0M106.4 53.1h0M111.9 51.6h0M126.6 53.7h0M124.8 53.5h0M128 53.2h0M107.4 54h0M120.3 52.5h0M103.3 53.2h0M118.3 51.9h0M117.7 52.4h0M112 54.4h0M111.4 53.2h0M115.2 54.8h0M126.5 53.5h0M111.7 52.7h0M116.5 52.7h0M125.7 53.2h0M125.3 54.1h0M124.3 53.6h0M118.2 52.8h0M107.2 53.2h0M109.6 54.6h0M106.7 53.1h0M114.6 53.6h0M102.8 54.1h0M116.8 54h0M110.6 53.7h0M124.8 53.3h0M123.8 53.3h0M117.4 53.2h0M105.6 53.7h0M124.2 52.9h0M122.8 53.6h0M111 53.7h0M110.4 54h0M117.6 54h0M107.2 54.7h0M128.9 53.6h0M105.1 53.6h0M115 51.6h0M114.1 54.7h0M114.9 54.9h0M110.2 54.8h0M114.8 54.9h0M113.9 54.7h0M42.7 59.6h0M53.1 60.4h0M42.5 60h0M66.4 61h0M59.7 60h0M82.5 58.2h0M61.4 60.8h0M57.1 57.7h0M84.8 58.7h0M77.6 59.4h0M88.4 59h0M80 58.4h0M56.4 57.9h0M59.7 58.1h0M74.1 58.7h0M61.6 59.6h0M89.5 59.2h0M76.2 60.4h0M55.9 57.7h0M59.8 60.7h0M70.1 58.1h0M64.2 60h0M70.4 60.5h0M70 59.4h0M62.8 57.6h0M73.7 59.5h0M70 59.9h0"/>
<path stroke="#e377c2" d="M38.9 82.5h0M66.8 80.9h0M67.4 82.9h0M66.4 85.2h0M57.3 61.6h0M56.8 62h0M99.6 63.4h0M84.7 63h0M88.7 61h0M100 63.6h0M79 63.4h0M80 61.3h0M85.1 61.3h0M82.1 61.2h0"/>
<path stroke="#7f7f7f" d="M68.4 24.1h0M42.9 28.7h0M63.8 28.5h0M68.4 29.9h0M73.4 30.2h0M77.1 29.1h0M60.8 77.3h0M59.2 79.9h0M67.4 77.3h0M68.4 78.9h0M73.8 74.9h0M127.7 53.1h0M130.3 52.8h0M129.5 53.3h0M129.3 53.1h0M129.6 53.2h0M131.4 53.5h0M130.3 52.8h0M132.2 52.8h0M125.8 52.6h0M131.4 52.8h0M130.7 53.4h0M124.3 52h0M131.4 52.7h0M127 53h0M123.7 52.6h0M129.5 53.4h0M131.8 52.4h0M133.7 53.4h0M134.2 53.3h0M127 52.5h0M133.3 52.8h0M133.9 53h0M133.9 52.7h0M128.5 52.9h0M125.2 52.7h0M133.9 52.8h0M120.6 51.7h0M130.6 53.2h0M129.6 52.5h0M147 53.1h0M138.7 53.7h0M142.8 52.9h0M134.6 52.9h0M137.2 53.3h0M140.1 52.7h0M142.1 53h0M137.4 53.3h0M145 53.1h0M140.9 53h0M135.1 53h0M135.9 53.6h0M142.3 53.1h0M141.9 53h0M142.8 53.6h0M142.7 53h0M145.3 53.2h0M140.3 52.8h0M142.6 53.3h0M143.5 53.1h0M141.2 52.8h0M144.6 53.2h0M145.5 53.2h0M137.6 53.3h0M145.5 52.6h0M138.4 53.7h0M139.1 53.3h0M138.2 53.1h0M141.9 52.9h0M137.6 53h0M144.7 53.6h0M138.4 53.4h0"/>
<path stroke="#bcbd22" d="M61.4 101.2h0M56.4 65.3h0M73.4 65h0M76.3 67.9h0M74.5 66.5h0M77.5 66h0M79 67.5h0M72.6 67.6h0M82.8 67.2h0"/>
<path stroke="#17becf" d="M41.2 49.9h0M44.5 52h0M63.2 52.4h0M58.9 51.6h0M58 52.1h0M63.2 52.6h0M63.9 52.2h0M61.8 52.1h0M76.2 51.7h0M68.3 52.2h0M55.8 51.4h0M70.2 52.1h0M53.1 51.2h0M57.1 50.9h0M70.5 50.6h0M75 50.3h0M53 52.1h0M52.7 51.3h0M74.4 51.1h0M70.8 51.6h0M69 51.3h0M66.4 51.5h0M57.8 53h0M67.7 51.6h0M74.2 51.8h0M56.9 51.8h0M61.9 51.2h0M60.2 50.1h0M66.7 51.6h0M63.5 53.1h0M70.6 51.5h0M58.1 53.1h0M67.4 52.6h0M55.1 51.8h0M59.7 52.7h0M71.9 51.8h0M68.4 52h0M52.2 51.3h0M67.8 51.4h0M63.9 51.9h0M54.6 52h0M55.8 52h0M69.3 52.4h0M50.9 52.2h0M65 50.2h0M57.2 52.7h0M57.9 52.3h0M66.6 52.6h0M59 52h0M70.6 51.1h0M69.6 50.9h0M69.3 52h0M54.4 52.1h0M56.4 52.5h0M62.2 50.4h0M58.8 52.5h0M72.1 50.5h0M71.2 51.9h0M67.5 51.4h0M53.8 52.1h0M65.2 52.2h0M57.5 53h0M49.8 52h0M74 51.5h0M59.5 51.7h0M62.2 52.2h0M66.7 52h0M52.7 52h0M65.1 51.9h0M76.2 51.8h0M53 52.2h0M62.1 51.3h0M65.2 52.3h0M51.3 52.1h0M58.9 52.9h0M64.8 51.5h0M58.9 50.1h0M67.8 52.9h0M66.3 51.8h0M70.5 51.2h0M63.3 52.5h0M71.1 51.3h0M58.4 51.9h0M53.8 51.9h0M73.4 51.9h0M67 53.1h0M69 52.5h0M73.4 50.7h0M61.9 52.3h0M68.5 52.7h0M72.1 51.2h0M65 52h0M75.3 50.8h0M67.3 53.2h0M71.6 51.5h0M47.4 52h0M71.1 50.1h0M46.7 51.6h0M49.8 50.4h0M58.6 50.8h0M70.3 50.3h0M71.5 50.6h0M49.6 51.6h0M65.1 50.3h0M50.2 50.1h0M61.7 50.5h0M61.8 50.7h0M63.6 50.6h0M75.3 50h0M51.5 50.9h0M50.5 51h0M55.7 50.8h0M49.4 51.5h0M46.5 51.7h0M57.3 50.6h0M62.5 50.2h0M63.2 50.2h0M73.9 50.1h0M49.8 50h0M48.8 51.3h0M71.6 50.5h0M57.6 50h0M51.4 51.1h0M45.6 51.8h0M51.3 51.1h0M62.6 50h0M69 50.8h0M50.4 50.7h0M69.9 50.8h0M70.6 50.8h0M59 50.3h0M60.4 50.8h0M64.2 49.8h0M51.3 50h0M50.4 49.8h0M71.1 49.5h0M55.5 50.6h0M71.1 49.7h0M55.2 50.7h0M50.9 51.2h0M60.9 50.8h0M57.6 50.2h0M63.8 50.8h0M67.8 50.7h0M57.4 50.7h0M76.3 33.4h0M79.7 35.8h0M81.3 37.8h0M86.7 37.4h0M45.9 36.4h0M54.9 36.4h0M60.4 35.8h0M62.8 37.4h0M53.5 37.8h0M99.9 55.3h0M100.1 55.6h0M102.3 55.3h0M99.2 55.7h0M83.9 56h0M93.9 55.2h0M112 55.2h0M94.3 58.1h0M105.6 56.6h0M88.6 56.3h0M102 56.8h0M77.2 57.3h0M85.1 56.7h0M104.6 55.9h0M93 55.8h0M99.4 55.3h0M98.1 56.5h0M81.4 57.4h0M101.6 56.6h0M90 55.8h0M107 55.8h0M92.4 56.5h0M106.1 55.2h0M87.7 57.8h0M97.9 56.2h0M92.5 58.1h0M101.2 55.2h0M106.1 56.1h0M111.2 55.7h0M82.8 58.1h0M103.2 56.3h0M97.3 55.8h0M103.9 56.6h0M110.3 55.1h0M88.4 58.2h0M78 57h0M94.2 55.7h0M83.4 56.2h0M80.4 57h0M103.2 56h0M96.1 55.6h0M107.2 56.6h0M113.2 56h0M97.9 56h0M107.4 56.3h0M83.1 56.2h0"/>
<path stroke="#1f77b4" d="M106.7 50.7h0M107.9 51.1h0M113.4 51.2h0M106.8 51h0M107.1 51.3h0M104.4 50.8h0M108.3 51.3h0M106 51.2h0M108.4 49.6h0M109.3 51.2h0M103.1 51h0M102.8 49.6h0M110.7 51.4h0M110.5 50.7h0M114.6 50.4h0M113.9 50.1h0M112.8 51.3h0M105.7 51.1h0M110.7 51h0M112.8 51.5h0M106.9 50.8h0M110.7 50.7h0M101.3 50.6h0M111.3 51.3h0M109.4 51.3h0"/>
<path stroke="#2ca02c" d="M84.5 51.4h0M82.1 50.6h0M99.6 51.8h0M84.5 51.6h0M89.3 51.9h0M93.4 51.5h0M89.5 51.5h0M96.1 51.7h0M94.2 51.8h0M86.6 52h0M90.2 50.9h0M84 50.1h0M92.5 51.4h0M100.5 50.6h0M98.6 51.4h0M84.4 51.7h0M87.9 51.6h0M94.5 51h0M83.5 51.7h0M91.7 52h0M86.8 51.2h0M101.6 51.2h0M85.7 51.7h0M85.1 51.5h0M85.3 50.9h0M86.9 52h0M85.9 51.1h0M100.1 51.4h0M79.4 51.2h0M85 50.8h0M81.6 50.8h0M98.8 50.1h0M92.2 50h0M94.7 50.6h0M84.8 50.2h0M78.3 50.7h0M80.5 50.8h0M98.2 50.1h0M88.5 50.7h0M81.5 50.5h0M99.7 50.9h0M90 50.1h0M82.8 50.4h0M93.4 50.8h0M81.8 50.3h0M102.1 51h0M82.2 50.8h0M95.9 50.5h0M83.7 50.7h0M80.7 50.8h0M92.8 50.7h0M80.8 50.3h0"/>
</g>
<path d="M47.5 12.9h3.3v3.3h-3.3zM55.5 5.6h3.3v3.3h-3.3zM67.3 21.7h3.3v3.3h-3.3zM63.6 27.2h3.3v3.3h-3.3zM64.2 33.9h3.3v3.3h-3.3zM66.6 40.5h3.3v3.3h-3.3zM75.6 44.5h3.3v3.3h-3.3zM59.2 47.1h3.3v3.3h-3.3zM50.4 51.1h3.3v3.3h-3.3zM36.9 51.1h3.3v3.3h-3.3zM56.4 53.5h3.3v3.3h-3.3zM74.2 51.5h3.3v3.3h-3.3zM85.5 49.1h3.3v3.3h-3.3zM81.5 53.5h3.3v3.3h-3.3zM97.4 54.4h3.3v3.3h-3.3zM100.4 51.5h3.3v3.3h-3.3zM102.8 50.1h3.3v3.3h-3.3zM109.2 52h3.3v3.3h-3.3zM111.8 50.1h3.3v3.3h-3.3zM127.5 50.9h3.3v3.3h-3.3zM156.7 50.9h3.3v3.3h-3.3zM71.6 56.4h3.3v3.3h-3.3zM79.5 60h3.3v3.3h-3.3zM70.6 64.3h3.3v3.3h-3.3zM74.6 68.3h3.3v3.3h-3.3zM66 76.2h3.3v3.3h-3.3zM59.6 81.2h3.3v3.3h-3.3zM60 98.8h3.3v3.3h-3.3z" fill="#000"/>
<rect x="26.85" y="3.25" width="157.7" height="102.2" fill="none" stroke="#000" stroke-width="0.48"/>
<path d="M38.7 105.5v1.6M60 105.5v1.6M81.3 105.5v1.6M102.6 105.5v1.6M123.9 105.5v1.6M145.2 105.5v1.6M166.5 105.5v1.6M26.85 10.3h-1.6M26.85 24.6h-1.6M26.85 38.8h-1.6M26.85 53.1h-1.6M26.85 67.4h-1.6M26.85 81.6h-1.6M26.85 95.9h-1.6" stroke="#000" stroke-width="0.45" fill="none"/>
<g class="t">
<text transform="translate(38.7,112.7) scale(.05)" text-anchor="middle">0</text><text transform="translate(60,112.7) scale(.05)" text-anchor="middle">10</text><text transform="translate(81.3,112.7) scale(.05)" text-anchor="middle">20</text><text transform="translate(102.6,112.7) scale(.05)" text-anchor="middle">30</text><text transform="translate(123.9,112.7) scale(.05)" text-anchor="middle">40</text><text transform="translate(145.2,112.7) scale(.05)" text-anchor="middle">50</text><text transform="translate(166.5,112.7) scale(.05)" text-anchor="middle">60</text>
<text transform="translate(23.9,12) scale(.05)" text-anchor="end">0.15</text><text transform="translate(23.9,26.3) scale(.05)" text-anchor="end">0.10</text><text transform="translate(23.9,40.6) scale(.05)" text-anchor="end">0.05</text><text transform="translate(23.9,54.9) scale(.05)" text-anchor="end">0.00</text><text transform="translate(23.9,69.1) scale(.05)" text-anchor="end">−0.05</text><text transform="translate(23.9,83.4) scale(.05)" text-anchor="end">−0.10</text><text transform="translate(23.9,97.7) scale(.05)" text-anchor="end">−0.15</text>
<text transform="translate(105.7,119) scale(.05)" text-anchor="middle">speed in km/h</text>
<text transform="translate(6.6,54.8) rotate(-90) scale(.05)" text-anchor="middle">curvature in 1/m</text>
</g>
<text class="cap" x="103" y="133.6" text-anchor="middle">(f)</text>
</g>
<g transform="translate(0,411.6)">
<path d="M38.7 3.25V105.5M60 3.25V105.5M81.3 3.25V105.5M102.6 3.25V105.5M123.9 3.25V105.5M145.2 3.25V105.5M166.5 3.25V105.5M26.85 10.3H184.5M26.85 24.6H184.5M26.85 38.8H184.5M26.85 53.1H184.5M26.85 67.4H184.5M26.85 81.6H184.5M26.85 95.9H184.5" stroke="#b0b0b0" stroke-width="0.55" fill="none"/>
<g fill="none" stroke-width="3.5" stroke-linecap="round">
<path stroke="#1f77b4" d="M41.2 49.9h0M45.7 48.7h0M44.5 52h0M43.6 52.7h0M46.5 52.4h0M63.2 52.4h0M65.9 53.8h0M69.8 53.4h0M58.9 51.6h0M58.3 53.7h0M58 52.1h0M68.9 53.3h0M53.5 53.1h0M53.3 53.5h0M70.7 53h0M63.2 52.6h0M63.9 52.2h0M61.8 52.1h0M76.2 51.7h0M68.3 52.2h0M44.6 52.9h0M55.8 51.4h0M55.1 53.4h0M70.2 52.1h0M45 52.7h0M53.1 51.2h0M50.2 53.1h0M47 53.5h0M48.8 52.4h0M75 53.1h0M52.4 54.1h0M74.2 52.1h0M57.1 50.9h0M70.5 50.6h0M75 50.3h0M53 52.1h0M52.7 51.3h0M74.4 51.1h0M71 52.6h0M70.8 51.6h0M69 51.3h0M54.3 53h0M51.8 53.3h0M45.4 52.5h0M49.7 53.9h0M66.4 51.5h0M70.4 52.8h0M57.8 53h0M67.7 51.6h0M45.9 53.1h0M74.2 51.8h0M56.9 51.8h0M61.9 51.2h0M44.8 52.7h0M50.6 54.3h0M63 53.3h0M49.4 53.8h0M60.2 50.1h0M66.7 51.6h0M50.3 53.5h0M63.5 53.1h0M53.5 54.1h0M55.7 52.9h0M70.6 51.5h0M58.6 53.6h0M46.5 52.3h0M60.3 53.9h0M58.1 53.1h0M67.4 52.6h0M74.2 53.4h0M46.7 52.7h0M73.9 53.1h0M55.1 51.8h0M59.7 52.7h0M72.8 53.5h0M50.5 54.4h0M71.9 51.8h0M45.4 53h0M44.7 53.1h0M68.4 52h0M45.1 53h0M45.6 52.8h0M74.1 53h0M45.5 53.1h0M52.2 51.3h0M67.8 51.4h0M63.9 51.9h0M50.5 54.1h0M57.8 53.7h0M50.3 54.2h0M54.6 52h0M55.8 52h0M70.4 53.7h0M69.3 52.4h0M50.9 52.2h0M65 50.2h0M49.1 53.5h0M54.9 52.8h0M57.2 52.7h0M57.9 52.3h0M49.8 54.1h0M75.9 52h0M66.6 52.6h0M59 52h0M70.6 51.1h0M69.6 50.9h0M51.5 52.5h0M69.3 52h0M47.8 53.7h0M54.4 52.1h0M56.4 52.5h0M62.2 50.4h0M66.4 53.9h0M70.3 52.9h0M71.7 53.8h0M66.6 53.6h0M58.8 52.5h0M56.3 53.9h0M72.1 50.5h0M75.9 52h0M47.9 53.4h0M51.5 53.3h0M73.8 52.3h0M71.2 51.9h0M46 53.3h0M73.9 53.4h0M46.4 52.8h0M67.5 51.4h0M49.3 52.7h0M53.8 52.1h0M54.2 52.8h0M65.2 52.2h0M57.5 53h0M49.8 52h0M74 51.5h0M59.5 51.7h0M62.2 52.2h0M44 52.6h0M66.7 52h0M49.4 53.5h0M43.4 52.3h0M48.3 53.5h0M52.7 52h0M73.9 52.4h0M69.5 52.8h0M65.1 51.9h0M76.2 51.8h0M53 52.2h0M53.4 53.5h0M61.1 53.4h0M62.1 51.3h0M65.2 52.3h0M51.3 52.1h0M58.9 52.9h0M58.9 54.1h0M64.8 51.5h0M50.2 52.4h0M58.9 50.1h0M64.4 53.3h0M67.8 52.9h0M66.3 51.8h0M70.5 51.2h0M63.3 52.5h0M71.1 51.3h0M58.4 51.9h0M73.9 52.5h0M53.8 51.9h0M71.4 53.7h0M73.4 51.9h0M67 53.1h0M69 52.5h0M73.4 50.7h0M61.9 52.3h0M69 53.2h0M45.9 52.9h0M58.8 54.2h0M49.8 53.1h0M50.5 54h0M42.6 52.4h0M44.6 52.2h0M51.8 52.4h0M63 53.4h0M68.5 52.7h0M72.1 51.2h0M65 52h0M49.6 52.2h0M75.3 50.8h0M67.3 53.2h0M47.5 52.7h0M71.6 51.5h0M45.2 53.3h0M65 53.3h0M47.4 52h0M51.6 52.8h0M51.5 54.4h0M71.1 50.1h0M46.7 51.6h0M49.8 50.4h0M58.6 50.8h0M70.3 50.3h0M71.5 50.6h0M49.6 51.6h0M65.1 50.3h0M60.3 48.9h0M50.2 50.1h0M61.7 50.5h0M78.3 50.7h0M60.5 48.6h0M61.8 50.7h0M54.2 49.4h0M63.6 50.6h0M57.9 48.4h0M75.3 50h0M51.5 50.9h0M61.2 49.4h0M57.8 49.3h0M62.8 49h0M50.5 51h0M55.7 50.8h0M49.4 51.5h0M46.2 52.2h0M46.5 51.7h0M57.3 50.6h0M71.9 49h0M59.7 48.5h0M57.2 49.5h0M62.5 50.2h0M75.7 49.8h0M63.2 50.2h0M73.9 50.1h0M62.8 49.6h0M49.8 50h0M48.8 51.3h0M71.6 50.5h0M61.3 49h0M57.6 50h0M51.4 51.1h0M45.6 51.8h0M51.3 51.1h0M62.6 50h0M69 50.8h0M50.4 50.7h0M51.6 49.4h0M69.9 50.8h0M70.6 50.8h0M67.3 49.3h0M59 50.3h0M60.4 50.8h0M64.2 49.8h0M51.3 50h0M50.4 49.8h0M63.5 49.3h0M71.1 49.5h0M55.5 50.6h0M71.1 49.7h0M55.2 50.7h0M50.9 51.2h0M60.9 50.8h0M54.5 49.6h0M74 49.5h0M57.6 50.2h0M63.8 50.8h0M69.8 49.2h0M67.8 50.7h0M57.4 50.7h0"/>
<path stroke="#ff7f0e" d="M76.3 67.9h0M78.3 69.3h0M74.5 66.5h0M79 67.5h0M74 69.3h0M72.6 67.6h0M82.8 67.2h0M67.4 82.9h0M66.4 85.2h0M60.8 77.3h0M68.4 78.9h0M66.8 80.9h0M38.9 82.5h0M59.2 79.9h0M43.9 68.9h0M56.4 65.3h0M77.1 71.3h0M75.7 72.5h0M79.7 70.9h0M84.3 68.9h0M81.7 70.5h0M76 70h0M80.5 69h0M78.6 72.8h0"/>
<path stroke="#2ca02c" d="M57.2 7.6h0M41.3 13.1h0M55 14.1h0M51.3 18.3h0M50.5 39.8h0M40.5 41.2h0M53.5 37.8h0M95.6 40.8h0M66.4 41.4h0M73.3 42.5h0"/>
<path stroke="#d62728" d="M68.4 24.1h0M42.9 28.7h0M63.8 28.5h0M68.4 29.9h0M73.4 30.2h0M77.1 29.1h0M67.4 77.3h0M73.8 74.9h0M62.1 47.7h0M92.5 44.5h0M76.2 46.6h0M77 48.2h0M69.7 45.1h0M72.7 46.1h0M82.7 45.7h0M84.5 48h0M70.4 46.6h0M62.4 48.5h0M85.8 46.6h0M85.1 47.5h0M69.3 46.6h0M64.9 47.1h0M70.9 45.6h0M72.5 46.1h0M66.9 48.2h0M84 47h0M78.1 47.1h0M84.6 46.8h0M75.6 47.1h0M72.5 47.6h0M92.8 47.4h0M62.8 47.3h0M70 48.7h0M70 48.7h0M72.9 48.1h0M85.4 46.6h0M70 48.8h0M69.6 45.9h0M66.1 47.7h0M71.4 47.8h0M74.6 48.5h0M74.8 45.6h0M69.1 45.3h0M92.1 47.7h0M77 52.9h0M84.5 51.4h0M84.5 51.6h0M80 52h0M89.3 51.9h0M89.5 51.5h0M86.6 52h0M83.8 52h0M85.7 52.4h0M84.1 52.1h0M76.9 53.8h0M79.2 52.8h0M84.4 51.7h0M87.9 51.6h0M78.4 52h0M76.5 53.9h0M81 52.4h0M75.3 53.2h0M83.5 51.7h0M76.1 52.8h0M86.8 51.2h0M79.4 52.7h0M76.3 53.7h0M74.9 53.5h0M75 53.9h0M85.7 51.7h0M79.1 52.5h0M81.6 52.7h0M78.1 51.9h0M79.1 52h0M87.5 52.4h0M85.1 51.5h0M86.9 52h0M85.9 51.1h0M79.3 52.9h0M83.1 52.1h0M78.2 52.8h0M79.4 51.2h0M80.5 50.8h0M80.7 50.8h0"/>
<path stroke="#9467bd" d="M76.3 33.4h0M79.7 35.8h0M81.3 37.8h0M86.7 37.4h0M45.9 36.4h0M54.9 36.4h0M60.4 35.8h0M62.8 37.4h0M99.6 63.4h0M88.7 61h0M100 63.6h0M94.3 58.1h0M84.8 58.7h0M77.6 59.4h0M88.4 59h0M80 61.3h0M85.1 61.3h0M82.1 61.2h0M92.5 58.1h0M89.5 59.2h0M76.2 60.4h0M70.4 60.5h0M88.4 58.2h0M73.7 59.5h0M127.7 53.1h0M130.3 52.8h0M122.7 53.4h0M129.5 53.3h0M129.4 53.8h0M120.7 52.4h0M129.3 53.1h0M116.2 52.5h0M129.6 53.2h0M131.4 53.5h0M130.3 52.8h0M120.1 53h0M123.3 53.4h0M129.4 53.7h0M132.2 52.8h0M120.1 52.4h0M125.8 52.6h0M131.4 52.8h0M122.3 52.9h0M130.7 53.4h0M124.3 52h0M131.4 52.7h0M119.5 52.9h0M124.8 53.5h0M127 53h0M123.7 52.6h0M128 53.2h0M120.3 52.5h0M118.3 51.9h0M129.5 53.4h0M117.7 52.4h0M131.8 52.4h0M133.7 53.4h0M126.5 53.5h0M134.2 53.3h0M127 52.5h0M116.5 52.7h0M125.7 53.2h0M118.2 52.8h0M133.3 52.8h0M133.9 53h0M133.9 52.7h0M128.5 52.9h0M124.8 53.3h0M123.8 53.3h0M125.2 52.7h0M133.9 52.8h0M120.6 51.7h0M124.2 52.9h0M130.6 53.2h0M129.6 52.5h0M128.9 53.6h0M138.7 53.7h0M142.8 52.9h0M134.6 52.9h0M137.2 53.3h0M140.1 52.7h0M142.1 53h0M137.4 53.3h0M145 53.1h0M140.9 53h0M135.1 53h0M135.9 53.6h0M142.3 53.1h0M141.9 53h0M142.8 53.6h0M142.7 53h0M145.3 53.2h0M140.3 52.8h0M142.6 53.3h0M143.5 53.1h0M141.2 52.8h0M144.6 53.2h0M145.5 53.2h0M137.6 53.3h0M145.5 52.6h0M138.4 53.7h0M139.1 53.3h0M138.2 53.1h0M141.9 52.9h0M137.6 53h0M144.7 53.6h0M138.4 53.4h0"/>
<path stroke="#8c564b" d="M73.4 65h0M77.5 66h0M84.7 63h0M79 63.4h0M33.7 53.1h0M35.5 53h0M40.8 52.7h0M42.3 53.3h0M38.3 52.9h0M40.4 53.2h0M44.1 53.7h0M44.1 53.2h0M36.7 53.3h0M37.5 52.6h0M36 53h0M39.7 53.7h0M35.8 53h0M39.9 53.2h0M41.7 53.2h0M38.2 53.4h0M42 53.5h0M41.2 53.1h0M35.7 52.8h0M40.9 53h0M38 53.1h0M39.5 53.1h0M38.2 53.3h0M42.1 52.7h0M39.7 53h0M37 52.8h0M40.7 53.1h0M43 53.2h0M38.4 53.5h0M37.6 52.5h0M39.2 53.3h0M44.9 53.7h0M41.9 53.4h0M44.2 53.1h0M39.1 53.3h0M46.2 53.8h0M45.3 53.7h0M46.4 53.8h0M43.9 53.6h0M45.2 53.3h0M44.4 53.2h0M43.6 53.4h0M44.3 53.4h0M40.9 52.8h0M42.7 53.2h0M43.7 53h0M43.4 52.9h0M41.1 53.3h0M44.6 53.7h0M43.4 53h0M44.3 53.2h0M48.6 54.5h0M45.3 54h0M47.1 54.4h0M41 53.1h0M43.9 53.7h0M43.3 53.5h0M41.2 53.6h0M42.2 53.5h0M41.6 52.9h0M46 53.5h0M41.7 53.5h0M46.9 54.5h0M47.3 54h0M81.2 55.2h0M75.3 54.2h0M57.5 54.6h0M69.1 54.8h0M72.6 55h0M61 54.7h0M77.7 54.3h0M63.4 55.1h0M58.8 54.7h0M62 54.9h0M70.4 54.9h0M71.6 54.9h0M79 55h0M76.5 55.6h0M68 55.1h0M63.8 55.5h0M66.2 54.1h0M56.1 54.9h0M68.4 54h0M72.2 55h0M82.5 55.6h0M74.4 54.6h0M68.8 56h0M72.7 54.1h0M70.9 55.4h0M75 54.8h0M76.3 54.7h0M74.4 55.3h0M67 55.5h0M83.9 56h0M63.2 55.1h0M74.8 54.7h0M59.7 54.5h0M82 55.7h0M62.7 54.4h0M72.1 54.8h0M64.4 55h0M82.5 58.2h0M79.6 55.8h0M62.9 56.7h0M80 58.4h0M77.2 57.3h0M85.1 56.7h0M81.4 57.4h0M76.7 56.6h0M87.7 57.8h0M70.3 55.4h0M71.4 56.6h0M82.8 58.1h0M69.5 56h0M73.3 56h0M78 57h0M83.4 56.2h0M80.4 57h0M68.7 55.4h0M79.1 56h0M71.8 56.4h0M83.1 56.2h0"/>
<path stroke="#e377c2" d="M39.7 55.6h0M42.7 59.6h0M53.1 60.4h0M57.3 61.6h0M42.5 60h0M56.8 62h0M66.4 61h0M54.7 55.2h0M53.8 55h0M51.3 54.8h0M54.2 55.6h0M59.7 60h0M50.3 55h0M49.7 55.6h0M61.4 60.8h0M51.9 56h0M57.1 57.7h0M56.4 57.9h0M59.7 58.1h0M53.8 56h0M51.9 57h0M48.2 54.9h0M74.1 58.7h0M61.6 59.6h0M49.7 55.5h0M55.9 57.7h0M59.8 60.7h0M70.1 58.1h0M64.2 60h0M58.4 56.1h0M70 59.4h0M62.8 57.6h0M57 56.1h0M70 59.9h0M54.9 55.8h0M48.8 54.9h0"/>
<path stroke="#7f7f7f" d="M47.5 42.8h0M47.2 43.2h0M52.7 43.7h0M48.7 46.2h0M55.6 47.7h0M58.8 46.5h0M82.1 50.6h0M90.2 50.9h0M84 50.1h0M85.3 50.9h0M85 50.8h0M81.6 50.8h0M87.5 48.1h0M92.2 50h0M94.7 50.6h0M84.8 50.2h0M88.5 50.7h0M81.5 50.5h0M91.6 48.8h0M78.1 48.8h0M90 50.1h0M82.8 50.4h0M79.1 49.4h0M85.5 48.9h0M93.4 50.8h0M81.8 50.3h0M93.5 48.3h0M90.4 49.2h0M82.2 50.8h0M77.2 49.3h0M91 48.2h0M83 48.8h0M77.2 49.7h0M79.8 49.6h0M83.7 50.7h0M92.8 50.7h0M80.8 50.3h0"/>
<path stroke="#bcbd22" d="M61.4 101.2h0M94 53.6h0M83.5 53.8h0M83.5 52.8h0M81 53h0M92.7 52.6h0M85.7 52.7h0M86.8 52.8h0M81.6 53h0M85.7 53h0M80.4 53.7h0M81 52.9h0M81.1 52.9h0M92.6 52.8h0M83.6 53h0M85.7 52.6h0M95.2 53h0M92 52.8h0M92.3 53.2h0M94.7 53.7h0M93.2 53.3h0M86.7 53.1h0M92 52.9h0M90.2 53.7h0M82.8 52.9h0M89.9 53.7h0M83.7 53.8h0M77.7 53.9h0M91.2 53h0M78.6 53.8h0M86.3 53.9h0M79.9 54.1h0M82.3 53.4h0M89 52.7h0M94.7 53.2h0M96.7 53.4h0M85 53.6h0M86.3 52.7h0M82.1 53.6h0M89.6 53.2h0M96.2 53.6h0M79.8 53.4h0M88.4 53.2h0M87 53.5h0M86 53.6h0M96.7 53.4h0M82.4 53.2h0M94.8 52.9h0M86.4 52.7h0M86.6 53.3h0M83.8 53.8h0M93.5 53h0M79.1 53.8h0M86.8 53.3h0M89.3 53.5h0"/>
<path stroke="#17becf" d="M169.1 53h0M177.6 52.9h0M159.1 53.5h0M153.1 53.4h0M161.6 53.1h0M159.4 53h0M147 53.1h0M154.7 53.3h0M147.1 53.3h0M155.8 52.8h0M148.3 53.2h0M150.1 53.1h0M157.4 52.9h0M153.6 52.8h0M156.1 53.3h0M150.1 53.3h0M164.6 53.2h0M159 53h0M162.1 52.9h0M156.6 53.2h0M163.6 53.3h0M149.5 53.1h0M157.1 53.6h0M160 53.3h0M157.4 53.3h0M148.7 53.8h0M156.6 53h0M155.2 53.2h0M150.8 53.2h0M156 53.4h0M148.7 53.2h0M156.7 52.6h0M155.7 53h0M155.6 53.1h0M152 53.6h0M147.6 53.5h0M155.2 53.4h0M158.5 53.1h0M160.8 53.1h0M155.3 52.9h0M157.7 52.8h0"/>
<path stroke="#ff7f0e" d="M87 54.9h0M83.4 54.7h0M85.5 55.4h0M82.9 54.9h0M98.1 54.4h0M92.8 54.5h0M96 53.7h0M86 54h0M99.9 55.3h0M100.1 55.6h0M92.8 53.9h0M100.5 53.5h0M92.2 55h0M88.7 54.9h0M87.2 54.1h0M99.4 53.6h0M92.8 54.2h0M95.4 54.6h0M84.2 54.3h0M101.9 54.1h0M92 54.6h0M82.6 54.3h0M96.5 54.9h0M97.6 54.6h0M94.1 54.5h0M89.7 54.3h0M102.3 55.3h0M86.6 54.2h0M99.2 55.7h0M102.5 54.1h0M101.3 53.6h0M100.3 53.7h0M83.9 55.2h0M100.5 54.9h0M96.1 54.6h0M90.6 53.9h0M86.2 55.8h0M89.3 54h0M91.7 54.1h0M93.9 55.2h0M90.5 55.1h0M105.4 53.8h0M116.5 54.1h0M118.3 53.8h0M114.7 53.4h0M109.4 53.5h0M112.9 52.5h0M113.7 52.7h0M121.6 54.5h0M118.9 54.1h0M112 55.2h0M113.5 54.1h0M112.9 53.3h0M110.2 53.6h0M103.1 53.9h0M118.2 53.5h0M116.1 53.1h0M119.5 53.7h0M119.6 54.7h0M113.5 52.7h0M104.4 54h0M107.6 53h0M125.1 53.7h0M110.4 54.4h0M104.7 53.5h0M107.7 53.2h0M106.4 53.1h0M126.6 53.7h0M107.4 54h0M112 54.4h0M111.4 53.2h0M115.2 54.8h0M111.7 52.7h0M125.3 54.1h0M124.3 53.6h0M107.2 53.2h0M109.6 54.6h0M106.7 53.1h0M114.6 53.6h0M102.8 54.1h0M116.8 54h0M110.6 53.7h0M117.4 53.2h0M105.6 53.7h0M122.8 53.6h0M111 53.7h0M110.4 54h0M117.6 54h0M107.2 54.7h0M105.1 53.6h0M105.6 56.6h0M114.1 54.7h0M88.6 56.3h0M102 56.8h0M104.6 55.9h0M93 55.8h0M99.4 55.3h0M98.1 56.5h0M86.5 55.7h0M101.6 56.6h0M90 55.8h0M107 55.8h0M92.4 56.5h0M106.1 55.2h0M97.9 56.2h0M114.9 54.9h0M110.2 54.8h0M114.8 54.9h0M101.2 55.2h0M106.1 56.1h0M111.2 55.7h0M103.2 56.3h0M97.3 55.8h0M103.9 56.6h0M113.9 54.7h0M110.3 55.1h0M90.6 55.4h0M94.2 55.7h0M103.2 56h0M96.1 55.6h0M107.2 56.6h0M113.2 56h0M97.9 56h0M107.4 56.3h0"/>
<path stroke="#2ca02c" d="M100.5 50.6h0M106.7 50.7h0M107.9 51.1h0M111.9 51.6h0M113.4 51.2h0M106.8 51h0M107.1 51.3h0M104.4 50.8h0M98.8 50.1h0M95 48.4h0M108.3 51.3h0M106 51.2h0M108.4 49.6h0M109.3 51.2h0M98.2 50.1h0M103.1 51h0M102.8 49.6h0M110.7 51.4h0M115 51.6h0M110.5 50.7h0M114.6 50.4h0M113.9 50.1h0M112.8 51.3h0M105.7 51.1h0M96.4 49.8h0M110.7 51h0M112.8 51.5h0M94.4 48.2h0M97 48.9h0M106.9 50.8h0M110.7 50.7h0M101.3 50.6h0M111.3 51.3h0M109.4 51.3h0M94.4 48.6h0M95.9 50.5h0M95.5 48.3h0"/>
<path stroke="#d62728" d="M100.8 53.4h0M99.6 51.8h0M97.3 52.2h0M100.9 52.7h0M93.4 51.5h0M98.1 53h0M96.1 51.7h0M94.2 51.8h0M95 52.2h0M100.8 52.1h0M92.5 51.4h0M101.2 52.9h0M98.6 51.4h0M100.8 52.9h0M93.8 52.5h0M94.4 52.6h0M98.1 53.1h0M101.5 53.3h0M94.5 51h0M91.7 52h0M95.9 52.8h0M98.7 52.7h0M98.9 52.5h0M101.6 51.2h0M91.5 52.1h0M97.7 52.8h0M95.6 52.9h0M97.3 52.9h0M102.2 53.2h0M98 52.6h0M100.1 51.4h0M101.2 52.9h0M98.4 53.1h0M108.2 52.3h0M105.1 52.7h0M106 52.7h0M103.2 52h0M108.2 51.6h0M103.3 53.2h0M99.7 50.9h0M102.1 51h0"/>
</g>
<path d="M55 5.6h3.3v3.3h-3.3zM47 12.9h3.3v3.3h-3.3zM66.8 21.7h3.3v3.3h-3.3zM63.1 27.2h3.3v3.3h-3.3zM66.1 33.6h3.3v3.3h-3.3zM58.1 37.9h3.3v3.3h-3.3zM64.8 41.5h3.3v3.3h-3.3zM69.1 43.5h3.3v3.3h-3.3zM72.1 45.9h3.3v3.3h-3.3zM77 43.5h3.3v3.3h-3.3zM36.4 51.1h3.3v3.3h-3.3zM49.9 51.1h3.3v3.3h-3.3zM55.8 49.1h3.3v3.3h-3.3zM54.2 54h3.3v3.3h-3.3zM73.1 53.1h3.3v3.3h-3.3zM65.1 56.4h3.3v3.3h-3.3zM79 50.5h3.3v3.3h-3.3zM84 48.5h3.3v3.3h-3.3zM84 51.1h3.3v3.3h-3.3zM89 53.1h3.3v3.3h-3.3zM94 51.1h3.3v3.3h-3.3zM96.9 55h3.3v3.3h-3.3zM102.9 49.5h3.3v3.3h-3.3zM79 59.4h3.3v3.3h-3.3zM77 62.4h3.3v3.3h-3.3zM74.1 67.3h3.3v3.3h-3.3zM69.3 73.4h3.3v3.3h-3.3zM65.2 83.1h3.3v3.3h-3.3zM60.8 78.9h3.3v3.3h-3.3zM60 98.8h3.3v3.3h-3.3zM85.9 48.1h3.3v3.3h-3.3zM106.8 52.1h3.3v3.3h-3.3zM112.8 48.1h3.3v3.3h-3.3zM115.9 50.8h3.3v3.3h-3.3zM130.3 50.8h3.3v3.3h-3.3zM156.9 50.8h3.3v3.3h-3.3z" fill="#000"/>
<rect x="26.85" y="3.25" width="157.7" height="102.2" fill="none" stroke="#000" stroke-width="0.48"/>
<path d="M38.7 105.5v1.6M60 105.5v1.6M81.3 105.5v1.6M102.6 105.5v1.6M123.9 105.5v1.6M145.2 105.5v1.6M166.5 105.5v1.6M26.85 10.3h-1.6M26.85 24.6h-1.6M26.85 38.8h-1.6M26.85 53.1h-1.6M26.85 67.4h-1.6M26.85 81.6h-1.6M26.85 95.9h-1.6" stroke="#000" stroke-width="0.45" fill="none"/>
<g class="t">
<text transform="translate(38.7,112.7) scale(.05)" text-anchor="middle">0</text><text transform="translate(60,112.7) scale(.05)" text-anchor="middle">10</text><text transform="translate(81.3,112.7) scale(.05)" text-anchor="middle">20</text><text transform="translate(102.6,112.7) scale(.05)" text-anchor="middle">30</text><text transform="translate(123.9,112.7) scale(.05)" text-anchor="middle">40</text><text transform="translate(145.2,112.7) scale(.05)" text-anchor="middle">50</text><text transform="translate(166.5,112.7) scale(.05)" text-anchor="middle">60</text>
<text transform="translate(23.9,12) scale(.05)" text-anchor="end">0.15</text><text transform="translate(23.9,26.3) scale(.05)" text-anchor="end">0.10</text><text transform="translate(23.9,40.6) scale(.05)" text-anchor="end">0.05</text><text transform="translate(23.9,54.9) scale(.05)" text-anchor="end">0.00</text><text transform="translate(23.9,69.1) scale(.05)" text-anchor="end">−0.05</text><text transform="translate(23.9,83.4) scale(.05)" text-anchor="end">−0.10</text><text transform="translate(23.9,97.7) scale(.05)" text-anchor="end">−0.15</text>
<text transform="translate(105.7,119) scale(.05)" text-anchor="middle">speed in km/h</text>
<text transform="translate(6.6,54.8) rotate(-90) scale(.05)" text-anchor="middle">curvature in 1/m</text>
</g>
<text class="cap" x="103" y="133.6" text-anchor="middle">(g)</text>
</g>
<g transform="translate(214.5,411.6)">
<path d="M38.7 3.25V105.5M60 3.25V105.5M81.3 3.25V105.5M102.6 3.25V105.5M123.9 3.25V105.5M145.2 3.25V105.5M166.5 3.25V105.5M26.85 10.3H184.5M26.85 24.6H184.5M26.85 38.8H184.5M26.85 53.1H184.5M26.85 67.4H184.5M26.85 81.6H184.5M26.85 95.9H184.5" stroke="#b0b0b0" stroke-width="0.55" fill="none"/>
<g fill="none" stroke-width="3.5" stroke-linecap="round">
<path stroke="#1f77b4" d="M45.9 36.4h0M54.9 36.4h0M60.4 35.8h0M46.5 52.4h0M63.2 52.4h0M54.7 55.2h0M65.9 53.8h0M57.5 54.6h0M58.9 51.6h0M58.3 53.7h0M58 52.1h0M68.9 53.3h0M53.5 53.1h0M53.3 53.5h0M46.2 53.8h0M63.2 52.6h0M63.9 52.2h0M61.8 52.1h0M61 54.7h0M68.3 52.2h0M55.8 51.4h0M55.1 53.4h0M53.1 51.2h0M50.2 53.1h0M47 53.5h0M48.8 52.4h0M52.4 54.1h0M57.1 50.9h0M63.4 55.1h0M53 52.1h0M52.7 51.3h0M46.4 53.8h0M69 51.3h0M54.3 53h0M51.8 53.3h0M49.7 53.9h0M66.4 51.5h0M53.8 55h0M57.8 53h0M67.7 51.6h0M45.9 53.1h0M51.3 54.8h0M56.9 51.8h0M61.9 51.2h0M58.8 54.7h0M50.6 54.3h0M63 53.3h0M49.4 53.8h0M66.7 51.6h0M50.3 53.5h0M63.5 53.1h0M53.5 54.1h0M55.7 52.9h0M58.6 53.6h0M46.5 52.3h0M54.2 55.6h0M60.3 53.9h0M58.1 53.1h0M67.4 52.6h0M46.7 52.7h0M55.1 51.8h0M62 54.9h0M59.7 52.7h0M50.5 54.4h0M68.4 52h0M45.6 52.8h0M52.2 51.3h0M67.8 51.4h0M63.9 51.9h0M50.5 54.1h0M57.8 53.7h0M50.3 54.2h0M54.6 52h0M55.8 52h0M50.9 52.2h0M68 55.1h0M63.8 55.5h0M49.1 53.5h0M54.9 52.8h0M57.2 52.7h0M66.2 54.1h0M57.9 52.3h0M49.8 54.1h0M66.6 52.6h0M56.1 54.9h0M59 52h0M51.5 52.5h0M68.4 54h0M47.8 53.7h0M54.4 52.1h0M56.4 52.5h0M66.4 53.9h0M66.6 53.6h0M58.8 52.5h0M56.3 53.9h0M47.9 53.4h0M51.5 53.3h0M48.6 54.5h0M46 53.3h0M46.4 52.8h0M67.5 51.4h0M47.1 54.4h0M49.3 52.7h0M53.8 52.1h0M54.2 52.8h0M65.2 52.2h0M57.5 53h0M49.8 52h0M59.5 51.7h0M62.2 52.2h0M66.7 52h0M49.4 53.5h0M48.3 53.5h0M52.7 52h0M65.1 51.9h0M53 52.2h0M67 55.5h0M53.4 53.5h0M61.1 53.4h0M62.1 51.3h0M65.2 52.3h0M51.3 52.1h0M58.9 52.9h0M58.9 54.1h0M64.8 51.5h0M50.2 52.4h0M64.4 53.3h0M67.8 52.9h0M66.3 51.8h0M46 53.5h0M63.3 52.5h0M58.4 51.9h0M53.8 51.9h0M67 53.1h0M69 52.5h0M63.2 55.1h0M59.7 54.5h0M61.9 52.3h0M69 53.2h0M45.9 52.9h0M58.8 54.2h0M49.8 53.1h0M50.5 54h0M62.7 54.4h0M51.8 52.4h0M63 53.4h0M68.5 52.7h0M65 52h0M49.6 52.2h0M67.3 53.2h0M64.4 55h0M47.5 52.7h0M65 53.3h0M47.4 52h0M51.6 52.8h0M51.5 54.4h0M46.7 51.6h0M58.6 50.8h0M49.6 51.6h0M61.8 50.7h0M63.6 50.6h0M51.5 50.9h0M50.5 51h0M55.7 50.8h0M49.4 51.5h0M46.2 52.2h0M46.5 51.7h0M57.3 50.6h0M48.8 51.3h0M51.4 51.1h0M45.6 51.8h0M51.3 51.1h0M69 50.8h0M50.4 50.7h0M60.4 50.8h0M55.5 50.6h0M55.2 50.7h0M50.9 51.2h0M60.9 50.8h0M63.8 50.8h0M67.8 50.7h0M57.4 50.7h0M46.9 54.5h0M50.3 55h0M49.7 55.6h0M48.2 54.9h0M49.7 55.5h0M68.7 55.4h0M47.3 54h0M48.8 54.9h0M62.8 37.4h0M50.5 39.8h0M40.5 41.2h0M66.4 41.4h0M47.5 42.8h0M53.5 37.8h0M47.2 43.2h0M169.1 53h0M177.6 52.9h0M159.1 53.5h0M153.1 53.4h0M161.6 53.1h0M159.4 53h0M147 53.1h0M154.7 53.3h0M147.1 53.3h0M155.8 52.8h0M148.3 53.2h0M150.1 53.1h0M157.4 52.9h0M153.6 52.8h0M156.1 53.3h0M150.1 53.3h0M164.6 53.2h0M159 53h0M162.1 52.9h0M156.6 53.2h0M163.6 53.3h0M149.5 53.1h0M157.1 53.6h0M160 53.3h0M157.4 53.3h0M148.7 53.8h0M156.6 53h0M155.2 53.2h0M150.8 53.2h0M156 53.4h0M148.7 53.2h0M156.7 52.6h0M155.7 53h0M145.5 53.2h0M155.6 53.1h0M145.5 52.6h0M152 53.6h0M147.6 53.5h0M155.2 53.4h0M158.5 53.1h0M160.8 53.1h0M155.3 52.9h0M157.7 52.8h0"/>
<path stroke="#ff7f0e" d="M75.7 72.5h0M78.6 72.8h0M60.8 77.3h0M67.4 77.3h0M73.8 74.9h0M52.7 43.7h0M92.5 44.5h0M73.3 42.5h0M76.2 46.6h0M69.7 45.1h0M72.7 46.1h0M82.7 45.7h0M70.4 46.6h0M85.8 46.6h0M85.1 47.5h0M69.3 46.6h0M70.9 45.6h0M72.5 46.1h0M84 47h0M78.1 47.1h0M84.6 46.8h0M75.6 47.1h0M92.8 47.4h0M85.4 46.6h0M69.6 45.9h0M74.8 45.6h0M69.1 45.3h0M81.2 55.2h0M75.3 54.2h0M69.8 53.4h0M69.1 54.8h0M94 53.6h0M77 52.9h0M72.6 55h0M70.7 53h0M84.5 51.4h0M83.5 53.8h0M83.4 54.7h0M76.2 51.7h0M83.5 52.8h0M81 53h0M70.2 52.1h0M77.7 54.3h0M75 53.1h0M99.6 51.8h0M82.9 54.9h0M74.2 52.1h0M84.5 51.6h0M92.7 52.6h0M85.7 52.7h0M70.5 50.6h0M86.8 52.8h0M81.6 53h0M97.3 52.2h0M80 52h0M85.7 53h0M89.3 51.9h0M100.9 52.7h0M93.4 51.5h0M74.4 51.1h0M71 52.6h0M98.1 53h0M89.5 51.5h0M70.8 51.6h0M96 53.7h0M80.4 53.7h0M86 54h0M81 52.9h0M70.4 52.8h0M81.1 52.9h0M74.2 51.8h0M92.6 52.8h0M83.6 53h0M96.1 51.7h0M94.2 51.8h0M86.6 52h0M83.8 52h0M92.8 53.9h0M85.7 52.6h0M85.7 52.4h0M95 52.2h0M95.2 53h0M100.8 52.1h0M92 52.8h0M70.6 51.5h0M92.3 53.2h0M94.7 53.7h0M93.2 53.3h0M74.2 53.4h0M92.5 51.4h0M73.9 53.1h0M87.2 54.1h0M99.4 53.6h0M84.1 52.1h0M92.8 54.2h0M86.7 53.1h0M72.8 53.5h0M101.2 52.9h0M71.9 51.8h0M92 52.9h0M70.4 54.9h0M74.1 53h0M71.6 54.9h0M76.9 53.8h0M79.2 52.8h0M79 55h0M90.2 53.7h0M70.4 53.7h0M69.3 52.4h0M82.8 52.9h0M89.9 53.7h0M76.5 55.6h0M83.7 53.8h0M77.7 53.9h0M91.2 53h0M98.6 51.4h0M84.2 54.3h0M75.9 52h0M78.6 53.8h0M84.4 51.7h0M100.8 52.9h0M70.6 51.1h0M86.3 53.9h0M79.9 54.1h0M69.6 50.9h0M93.8 52.5h0M94.4 52.6h0M82.6 54.3h0M82.3 53.4h0M69.3 52h0M89 52.7h0M72.2 55h0M94.7 53.2h0M98.1 53.1h0M96.7 53.4h0M85 53.6h0M86.3 52.7h0M70.3 52.9h0M71.7 53.8h0M82.1 53.6h0M89.6 53.2h0M96.2 53.6h0M75.9 52h0M87.9 51.6h0M73.8 52.3h0M78.4 52h0M71.2 51.9h0M79.8 53.4h0M76.5 53.9h0M81 52.4h0M74.4 54.6h0M75.3 53.2h0M73.9 53.4h0M83.5 51.7h0M72.7 54.1h0M76.1 52.8h0M91.7 52h0M70.9 55.4h0M95.9 52.8h0M86.8 51.2h0M75 54.8h0M79.4 52.7h0M98.7 52.7h0M88.4 53.2h0M74 51.5h0M86.6 54.2h0M87 53.5h0M76.3 53.7h0M86 53.6h0M74.9 53.5h0M98.9 52.5h0M76.3 54.7h0M75 53.9h0M85.7 51.7h0M74.4 55.3h0M73.9 52.4h0M69.5 52.8h0M91.5 52.1h0M76.2 51.8h0M97.7 52.8h0M79.1 52.5h0M81.6 52.7h0M78.1 51.9h0M79.1 52h0M87.5 52.4h0M96.7 53.4h0M95.6 52.9h0M85.1 51.5h0M97.3 52.9h0M70.5 51.2h0M71.1 51.3h0M73.9 52.5h0M71.4 53.7h0M73.4 51.9h0M82.4 53.2h0M86.9 52h0M85.9 51.1h0M94.8 52.9h0M86.4 52.7h0M98 52.6h0M74.8 54.7h0M79.3 52.9h0M83.1 52.1h0M73.4 50.7h0M86.6 53.3h0M72.1 54.8h0M83.8 53.8h0M78.2 52.8h0M93.5 53h0M79.1 53.8h0M72.1 51.2h0M101.2 52.9h0M79.4 51.2h0M90.6 53.9h0M98.4 53.1h0M86.8 53.3h0M89.3 54h0M71.6 51.5h0M91.7 54.1h0M89.3 53.5h0M103.2 52h0M71.5 50.6h0M69.9 50.8h0M70.6 50.8h0M70.3 55.4h0M69.5 56h0M73.3 56h0M66.4 61h0M99.6 63.4h0M88.7 61h0M100 63.6h0M94.3 58.1h0M82.5 58.2h0M84.8 58.7h0M77.6 59.4h0M88.4 59h0M80 58.4h0M77.2 57.3h0M80 61.3h0M74.1 58.7h0M85.1 61.3h0M82.1 61.2h0M92.5 58.1h0M89.5 59.2h0M76.2 60.4h0M82.8 58.1h0M70.4 60.5h0M88.4 58.2h0M70 59.4h0M73.7 59.5h0M70 59.9h0"/>
<path stroke="#2ca02c" d="M57.2 7.6h0M41.3 13.1h0M55 14.1h0M51.3 18.3h0M42.9 28.7h0M63.8 28.5h0M68.4 29.9h0M73.4 30.2h0M77.1 29.1h0M68.4 24.1h0M73.4 65h0M76.3 67.9h0M74.5 66.5h0M77.5 66h0M79 67.5h0M72.6 67.6h0M82.8 67.2h0M56.4 65.3h0M57.3 61.6h0M56.8 62h0M84.7 63h0M79 63.4h0M61.4 60.8h0M59.8 60.7h0"/>
<path stroke="#d62728" d="M76.3 33.4h0M79.7 35.8h0M81.3 37.8h0M86.7 37.4h0M95.6 40.8h0"/>
<path stroke="#9467bd" d="M78.3 69.3h0M77.1 71.3h0M79.7 70.9h0M84.3 68.9h0M81.7 70.5h0M76 70h0M80.5 69h0M74 69.3h0M43.9 68.9h0M127.7 53.1h0M130.3 52.8h0M122.7 53.4h0M129.5 53.3h0M129.4 53.8h0M120.7 52.4h0M112.9 52.5h0M129.3 53.1h0M116.2 52.5h0M129.6 53.2h0M131.4 53.5h0M116.1 53.1h0M130.3 52.8h0M120.1 53h0M123.3 53.4h0M129.4 53.7h0M132.2 52.8h0M120.1 52.4h0M125.8 52.6h0M131.4 52.8h0M122.3 52.9h0M130.7 53.4h0M124.3 52h0M131.4 52.7h0M119.5 52.9h0M125.1 53.7h0M126.6 53.7h0M124.8 53.5h0M127 53h0M123.7 52.6h0M128 53.2h0M120.3 52.5h0M118.3 51.9h0M129.5 53.4h0M117.7 52.4h0M131.8 52.4h0M133.7 53.4h0M126.5 53.5h0M134.2 53.3h0M127 52.5h0M116.5 52.7h0M125.7 53.2h0M124.3 53.6h0M118.2 52.8h0M133.3 52.8h0M133.9 53h0M133.9 52.7h0M128.5 52.9h0M124.8 53.3h0M123.8 53.3h0M117.4 53.2h0M125.2 52.7h0M133.9 52.8h0M120.6 51.7h0M124.2 52.9h0M122.8 53.6h0M130.6 53.2h0M129.6 52.5h0M128.9 53.6h0M138.7 53.7h0M142.8 52.9h0M134.6 52.9h0M137.2 53.3h0M140.1 52.7h0M142.1 53h0M137.4 53.3h0M145 53.1h0M140.9 53h0M135.1 53h0M135.9 53.6h0M142.3 53.1h0M141.9 53h0M142.8 53.6h0M142.7 53h0M145.3 53.2h0M140.3 52.8h0M142.6 53.3h0M143.5 53.1h0M141.2 52.8h0M144.6 53.2h0M137.6 53.3h0M138.4 53.7h0M139.1 53.3h0M138.2 53.1h0M141.9 52.9h0M137.6 53h0M144.7 53.6h0M138.4 53.4h0"/>
<path stroke="#8c564b" d="M38.9 82.5h0M59.2 79.9h0M67.4 82.9h0M66.4 85.2h0M68.4 78.9h0M66.8 80.9h0M87 54.9h0M85.5 55.4h0M98.1 54.4h0M92.8 54.5h0M99.9 55.3h0M100.1 55.6h0M92.2 55h0M88.7 54.9h0M95.4 54.6h0M92 54.6h0M96.5 54.9h0M97.6 54.6h0M94.1 54.5h0M82.5 55.6h0M89.7 54.3h0M102.3 55.3h0M99.2 55.7h0M83.9 56h0M82 55.7h0M83.9 55.2h0M100.5 54.9h0M96.1 54.6h0M86.2 55.8h0M93.9 55.2h0M90.5 55.1h0M105.6 56.6h0M79.6 55.8h0M88.6 56.3h0M102 56.8h0M85.1 56.7h0M104.6 55.9h0M93 55.8h0M99.4 55.3h0M98.1 56.5h0M86.5 55.7h0M81.4 57.4h0M101.6 56.6h0M90 55.8h0M107 55.8h0M92.4 56.5h0M76.7 56.6h0M87.7 57.8h0M97.9 56.2h0M101.2 55.2h0M106.1 56.1h0M103.2 56.3h0M97.3 55.8h0M103.9 56.6h0M90.6 55.4h0M78 57h0M94.2 55.7h0M83.4 56.2h0M80.4 57h0M103.2 56h0M96.1 55.6h0M79.1 56h0M107.2 56.6h0M97.9 56h0M107.4 56.3h0M83.1 56.2h0"/>
<path stroke="#e377c2" d="M41.2 49.9h0M45.7 48.7h0M48.7 46.2h0M62.1 47.7h0M60.2 50.1h0M65 50.2h0M62.2 50.4h0M58.9 50.1h0M49.8 50.4h0M70.3 50.3h0M65.1 50.3h0M60.3 48.9h0M50.2 50.1h0M61.7 50.5h0M60.5 48.6h0M54.2 49.4h0M55.6 47.7h0M57.9 48.4h0M58.8 46.5h0M61.2 49.4h0M57.8 49.3h0M62.8 49h0M62.4 48.5h0M71.9 49h0M59.7 48.5h0M64.9 47.1h0M57.2 49.5h0M62.5 50.2h0M63.2 50.2h0M62.8 49.6h0M49.8 50h0M61.3 49h0M57.6 50h0M66.9 48.2h0M62.6 50h0M51.6 49.4h0M72.5 47.6h0M67.3 49.3h0M59 50.3h0M62.8 47.3h0M64.2 49.8h0M51.3 50h0M50.4 49.8h0M63.5 49.3h0M71.1 49.5h0M70 48.7h0M70 48.7h0M72.9 48.1h0M70 48.8h0M71.1 49.7h0M54.5 49.6h0M66.1 47.7h0M71.4 47.8h0M57.6 50.2h0M69.8 49.2h0M100.8 53.4h0M100.5 53.5h0M101.9 54.1h0M101.5 53.3h0M102.5 54.1h0M101.3 53.6h0M102.2 53.2h0M100.3 53.7h0M105.4 53.8h0M116.5 54.1h0M118.3 53.8h0M114.7 53.4h0M109.4 53.5h0M113.7 52.7h0M121.6 54.5h0M118.9 54.1h0M112 55.2h0M113.5 54.1h0M112.9 53.3h0M108.2 52.3h0M110.2 53.6h0M103.1 53.9h0M118.2 53.5h0M119.5 53.7h0M105.1 52.7h0M106 52.7h0M119.6 54.7h0M113.5 52.7h0M104.4 54h0M107.6 53h0M110.4 54.4h0M104.7 53.5h0M107.7 53.2h0M106.4 53.1h0M107.4 54h0M103.3 53.2h0M112 54.4h0M111.4 53.2h0M115.2 54.8h0M111.7 52.7h0M125.3 54.1h0M107.2 53.2h0M109.6 54.6h0M106.7 53.1h0M114.6 53.6h0M102.8 54.1h0M116.8 54h0M110.6 53.7h0M105.6 53.7h0M111 53.7h0M110.4 54h0M117.6 54h0M107.2 54.7h0M105.1 53.6h0M114.1 54.7h0M106.1 55.2h0M114.9 54.9h0M110.2 54.8h0M114.8 54.9h0M111.2 55.7h0M113.9 54.7h0M110.3 55.1h0M113.2 56h0"/>
<path stroke="#bcbd22" d="M61.4 101.2h0M82.1 50.6h0M75 50.3h0M90.2 50.9h0M84 50.1h0M100.5 50.6h0M72.1 50.5h0M94.5 51h0M101.6 51.2h0M85.3 50.9h0M100.1 51.4h0M75.3 50.8h0M106.7 50.7h0M107.9 51.1h0M108.2 51.6h0M111.9 51.6h0M113.4 51.2h0M71.1 50.1h0M85 50.8h0M81.6 50.8h0M106.8 51h0M107.1 51.3h0M104.4 50.8h0M98.8 50.1h0M87.5 48.1h0M77 48.2h0M92.2 50h0M94.7 50.6h0M95 48.4h0M108.3 51.3h0M106 51.2h0M84.8 50.2h0M78.3 50.7h0M80.5 50.8h0M108.4 49.6h0M109.3 51.2h0M75.3 50h0M98.2 50.1h0M103.1 51h0M88.5 50.7h0M102.8 49.6h0M110.7 51.4h0M81.5 50.5h0M115 51.6h0M110.5 50.7h0M84.5 48h0M99.7 50.9h0M114.6 50.4h0M91.6 48.8h0M113.9 50.1h0M112.8 51.3h0M105.7 51.1h0M96.4 49.8h0M110.7 51h0M78.1 48.8h0M112.8 51.5h0M90 50.1h0M94.4 48.2h0M97 48.9h0M82.8 50.4h0M106.9 50.8h0M79.1 49.4h0M110.7 50.7h0M85.5 48.9h0M93.4 50.8h0M75.7 49.8h0M81.8 50.3h0M101.3 50.6h0M73.9 50.1h0M93.5 48.3h0M111.3 51.3h0M109.4 51.3h0M102.1 51h0M71.6 50.5h0M94.4 48.6h0M90.4 49.2h0M82.2 50.8h0M95.9 50.5h0M77.2 49.3h0M91 48.2h0M95.5 48.3h0M83 48.8h0M77.2 49.7h0M79.8 49.6h0M74.6 48.5h0M83.7 50.7h0M74 49.5h0M92.1 47.7h0M80.7 50.8h0M92.8 50.7h0M80.8 50.3h0"/>
<path stroke="#17becf" d="M42.7 59.6h0M53.1 60.4h0M42.5 60h0M68.8 56h0M59.7 60h0M51.9 56h0M57.1 57.7h0M62.9 56.7h0M56.4 57.9h0M59.7 58.1h0M53.8 56h0M51.9 57h0M61.6 59.6h0M71.4 56.6h0M55.9 57.7h0M70.1 58.1h0M64.2 60h0M58.4 56.1h0M62.8 57.6h0M57 56.1h0M54.9 55.8h0M71.8 56.4h0"/>
<path stroke="#2ca02c" d="M39.7 55.6h0M33.7 53.1h0M35.5 53h0M40.8 52.7h0M42.3 53.3h0M38.3 52.9h0M40.4 53.2h0M44.1 53.7h0M44.1 53.2h0M36.7 53.3h0M37.5 52.6h0M36 53h0M39.7 53.7h0M35.8 53h0M39.9 53.2h0M41.7 53.2h0M38.2 53.4h0M42 53.5h0M41.2 53.1h0M35.7 52.8h0M40.9 53h0M38 53.1h0M39.5 53.1h0M38.2 53.3h0M42.1 52.7h0M39.7 53h0M37 52.8h0M40.7 53.1h0M43 53.2h0M38.4 53.5h0M37.6 52.5h0M39.2 53.3h0M44.5 52h0M44.9 53.7h0M41.9 53.4h0M44.2 53.1h0M43.6 52.7h0M39.1 53.3h0M44.6 52.9h0M45 52.7h0M45.3 53.7h0M45.4 52.5h0M43.9 53.6h0M45.2 53.3h0M44.4 53.2h0M44.8 52.7h0M43.6 53.4h0M44.3 53.4h0M45.4 53h0M44.7 53.1h0M45.1 53h0M45.5 53.1h0M40.9 52.8h0M42.7 53.2h0M43.7 53h0M43.4 52.9h0M41.1 53.3h0M44.6 53.7h0M43.4 53h0M44.3 53.2h0M45.3 54h0M41 53.1h0M43.9 53.7h0M43.3 53.5h0M44 52.6h0M43.4 52.3h0M41.2 53.6h0M42.2 53.5h0M41.6 52.9h0M42.6 52.4h0M44.6 52.2h0M41.7 53.5h0M45.2 53.3h0"/>
</g>
<path d="M55.5 5.6h3.3v3.3h-3.3zM47.5 12.9h3.3v3.3h-3.3zM63.3 27.2h3.3v3.3h-3.3zM67.3 21.7h3.3v3.3h-3.3zM53.8 33.6h3.3v3.3h-3.3zM50.4 39.9h3.3v3.3h-3.3zM78.5 32.6h3.3v3.3h-3.3zM72.2 37.1h3.3v3.3h-3.3zM75.6 42.5h3.3v3.3h-3.3zM71.6 46.5h3.3v3.3h-3.3zM55.8 48.5h3.3v3.3h-3.3zM36.9 51.1h3.3v3.3h-3.3zM50.4 51.1h3.3v3.3h-3.3zM54.8 53.5h3.3v3.3h-3.3zM69.6 51.1h3.3v3.3h-3.3zM74.6 50.5h3.3v3.3h-3.3zM84.5 49.1h3.3v3.3h-3.3zM80.5 53.1h3.3v3.3h-3.3zM90.5 51.1h3.3v3.3h-3.3zM96.5 51.5h3.3v3.3h-3.3zM100.4 54.4h3.3v3.3h-3.3zM105.4 51.5h3.3v3.3h-3.3zM51.8 56.4h3.3v3.3h-3.3zM62.2 59.4h3.3v3.3h-3.3zM75.6 59.4h3.3v3.3h-3.3zM84.5 61h3.3v3.3h-3.3zM89.5 59h3.3v3.3h-3.3zM69.6 64.3h3.3v3.3h-3.3zM74.6 67.8h3.3v3.3h-3.3zM67.2 74.1h3.3v3.3h-3.3zM61.2 78.9h3.3v3.3h-3.3zM65.4 83.1h3.3v3.3h-3.3zM60 98.8h3.3v3.3h-3.3zM90.1 50.1h3.3v3.3h-3.3zM107.9 50.9h3.3v3.3h-3.3zM114.3 47.6h3.3v3.3h-3.3zM116.8 52h3.3v3.3h-3.3zM129.5 50.9h3.3v3.3h-3.3zM157.4 50.9h3.3v3.3h-3.3z" fill="#000"/>
<rect x="26.85" y="3.25" width="157.7" height="102.2" fill="none" stroke="#000" stroke-width="0.48"/>
<path d="M38.7 105.5v1.6M60 105.5v1.6M81.3 105.5v1.6M102.6 105.5v1.6M123.9 105.5v1.6M145.2 105.5v1.6M166.5 105.5v1.6M26.85 10.3h-1.6M26.85 24.6h-1.6M26.85 38.8h-1.6M26.85 53.1h-1.6M26.85 67.4h-1.6M26.85 81.6h-1.6M26.85 95.9h-1.6" stroke="#000" stroke-width="0.45" fill="none"/>
<g class="t">
<text transform="translate(38.7,112.7) scale(.05)" text-anchor="middle">0</text><text transform="translate(60,112.7) scale(.05)" text-anchor="middle">10</text><text transform="translate(81.3,112.7) scale(.05)" text-anchor="middle">20</text><text transform="translate(102.6,112.7) scale(.05)" text-anchor="middle">30</text><text transform="translate(123.9,112.7) scale(.05)" text-anchor="middle">40</text><text transform="translate(145.2,112.7) scale(.05)" text-anchor="middle">50</text><text transform="translate(166.5,112.7) scale(.05)" text-anchor="middle">60</text>
<text transform="translate(23.9,12) scale(.05)" text-anchor="end">0.15</text><text transform="translate(23.9,26.3) scale(.05)" text-anchor="end">0.10</text><text transform="translate(23.9,40.6) scale(.05)" text-anchor="end">0.05</text><text transform="translate(23.9,54.9) scale(.05)" text-anchor="end">0.00</text><text transform="translate(23.9,69.1) scale(.05)" text-anchor="end">−0.05</text><text transform="translate(23.9,83.4) scale(.05)" text-anchor="end">−0.10</text><text transform="translate(23.9,97.7) scale(.05)" text-anchor="end">−0.15</text>
<text transform="translate(105.7,119) scale(.05)" text-anchor="middle">speed in km/h</text>
<text transform="translate(6.6,54.8) rotate(-90) scale(.05)" text-anchor="middle">curvature in 1/m</text>
</g>
<text class="cap" x="103" y="133.6" text-anchor="middle">(h)</text>
</g>
</svg>
</body></html>
